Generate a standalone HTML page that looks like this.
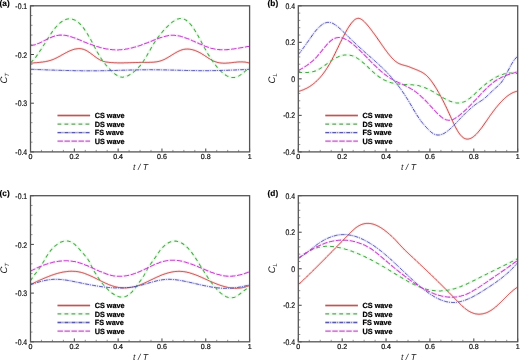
<!DOCTYPE html>
<html><head><meta charset="utf-8"><style>
html,body{margin:0;padding:0;background:#fff;width:520px;height:360px;overflow:hidden}
svg{display:block;filter:blur(0.5px)}
text{font-family:"Liberation Sans",Arial,sans-serif;fill:#222;text-rendering:geometricPrecision}
.tl{font-size:8.1px;fill:#111;stroke:#111;stroke-width:0.2px}
.tx{font-size:7.3px;fill:#111;stroke:#111;stroke-width:0.2px}
.xt{font-size:8.7px;font-style:italic}
.yt{font-size:9.5px;font-style:italic}
.sub{font-size:6px}
.pl{font-size:8.3px;font-weight:bold;fill:#000;stroke:#000;stroke-width:0.15px}
.lg{font-size:7.5px;font-weight:bold;fill:#000;stroke:#000;stroke-width:0.22px}
</style></head><body>
<svg width="520" height="360" viewBox="0 0 520 360">
<rect width="520" height="360" fill="#fff"/>
<clipPath id="cpa"><rect x="30.5" y="5.8" width="219.10" height="146.10"/></clipPath>
<g clip-path="url(#cpa)" fill="none" stroke-linejoin="round">
<g opacity="0.35"><path d="M30.5,63.2 31.2,63.1 32.0,63.0 32.8,63.0 33.5,62.9 34.2,62.8 35.0,62.8 35.8,62.7 36.5,62.7 37.2,62.6 38.0,62.5 38.8,62.5 39.5,62.4 40.2,62.3 41.0,62.2 41.8,62.1 42.5,62.1 43.2,61.9 44.0,61.8 44.8,61.7 45.5,61.6 46.2,61.4 47.0,61.3 47.8,61.1 48.5,60.9 49.2,60.7 50.0,60.5 50.8,60.3 51.5,60.0 52.2,59.8 53.0,59.5 53.8,59.2 54.5,58.8 55.2,58.5 56.0,58.1 56.8,57.8 57.5,57.4 58.2,57.0 59.0,56.6 59.8,56.2 60.5,55.8 61.2,55.3 62.0,54.9 62.8,54.5 63.5,54.1 64.2,53.7 65.0,53.3 65.8,52.8 66.5,52.5 67.2,52.1 68.0,51.7 68.8,51.3 69.5,51.0 70.2,50.7 71.0,50.4 71.8,50.1 72.5,49.8 73.2,49.6 74.0,49.3 74.8,49.1 75.5,49.0 76.2,48.9 77.0,48.8 77.8,48.7 78.5,48.6 79.2,48.6 80.0,48.7 80.8,48.7 81.5,48.8 82.2,49.0 83.0,49.2 83.8,49.4 84.5,49.7 85.2,50.0 86.0,50.4 86.8,50.8 87.5,51.2 88.2,51.7 89.0,52.2 89.8,52.7 90.5,53.3 91.2,53.8 92.0,54.4 92.8,54.9 93.5,55.5 94.2,56.1 95.0,56.6 95.8,57.2 96.5,57.7 97.2,58.2 98.0,58.7 98.8,59.2 99.5,59.6 100.2,60.0 101.0,60.4 101.8,60.7 102.5,61.0 103.2,61.3 104.0,61.5 104.8,61.7 105.5,61.9 106.2,62.0 107.0,62.1 107.8,62.2 108.5,62.3 109.2,62.4 110.0,62.5 110.8,62.5 111.5,62.6 112.2,62.6 113.0,62.7 113.8,62.7 114.5,62.8 115.2,62.8 116.0,62.8 116.8,62.8 117.5,62.9 118.2,62.9 119.0,62.9 119.8,62.9 120.5,62.9 121.2,62.9 122.0,62.9 122.8,62.9 123.5,62.9 124.2,62.8 125.0,62.8 125.8,62.8 126.5,62.8 127.2,62.8 128.0,62.8 128.8,62.7 129.5,62.7 130.2,62.7 131.0,62.7 131.8,62.6 132.5,62.6 133.2,62.6 134.0,62.6 134.8,62.5 135.5,62.5 136.2,62.5 137.0,62.5 137.8,62.5 138.5,62.5 139.2,62.4 140.0,62.4 140.8,62.4 141.5,62.4 142.2,62.4 143.0,62.4 143.8,62.4 144.5,62.4 145.2,62.4 146.0,62.4 146.8,62.4 147.5,62.4 148.2,62.4 149.0,62.4 149.8,62.3 150.5,62.3 151.2,62.3 152.0,62.3 152.8,62.2 153.5,62.2 154.2,62.1 155.0,62.0 155.8,61.9 156.5,61.8 157.2,61.7 158.0,61.5 158.8,61.4 159.5,61.2 160.2,61.0 161.0,60.7 161.8,60.5 162.5,60.2 163.2,59.9 164.0,59.6 164.8,59.2 165.5,58.8 166.2,58.4 167.0,58.0 167.8,57.6 168.5,57.1 169.2,56.7 170.0,56.2 170.8,55.7 171.5,55.3 172.2,54.8 173.0,54.3 173.8,53.9 174.5,53.4 175.2,53.0 176.0,52.6 176.8,52.1 177.5,51.7 178.2,51.4 179.0,51.0 179.8,50.7 180.5,50.4 181.2,50.1 182.0,49.8 182.8,49.6 183.5,49.4 184.2,49.3 185.0,49.2 185.8,49.1 186.5,49.1 187.2,49.0 188.0,49.1 188.8,49.1 189.5,49.2 190.2,49.3 191.0,49.4 191.8,49.6 192.5,49.7 193.2,50.0 194.0,50.2 194.8,50.4 195.5,50.7 196.2,51.0 197.0,51.3 197.8,51.7 198.5,52.0 199.2,52.4 200.0,52.8 200.8,53.2 201.5,53.6 202.2,54.1 203.0,54.6 203.8,55.0 204.5,55.5 205.2,56.0 206.0,56.5 206.8,57.0 207.5,57.5 208.2,58.0 209.0,58.5 209.8,58.9 210.5,59.4 211.2,59.8 212.0,60.2 212.8,60.6 213.5,61.0 214.2,61.3 215.0,61.6 215.8,61.9 216.5,62.1 217.2,62.4 218.0,62.5 218.8,62.7 219.5,62.8 220.2,62.9 221.0,63.0 221.8,63.1 222.5,63.1 223.2,63.2 224.0,63.2 224.8,63.2 225.5,63.2 226.2,63.1 227.0,63.1 227.8,63.0 228.5,63.0 229.2,62.9 230.0,62.8 230.8,62.8 231.5,62.7 232.2,62.6 233.0,62.5 233.8,62.4 234.5,62.3 235.2,62.3 236.0,62.2 236.8,62.1 237.5,62.0 238.2,62.0 239.0,61.9 239.8,61.9 240.5,61.9 241.2,61.9 242.0,61.9 242.8,61.9 243.5,62.0 244.2,62.0 245.0,62.1 245.8,62.2 246.5,62.4 247.2,62.5 248.0,62.7 248.8,62.9 249.5,63.1 249.6,63.2" stroke="#f4c4c4" stroke-width="3.0"/><path d="M30.5,62.8 31.2,62.2 32.0,61.4 32.8,60.7 33.5,59.8 34.2,59.0 35.0,58.0 35.8,57.1 36.5,56.1 37.2,55.1 38.0,54.0 38.8,52.9 39.5,51.8 40.2,50.6 41.0,49.5 41.8,48.3 42.5,47.1 43.2,45.9 44.0,44.7 44.8,43.5 45.5,42.3 46.2,41.0 47.0,39.8 47.8,38.6 48.5,37.5 49.2,36.3 50.0,35.2 50.8,34.0 51.5,32.9 52.2,31.9 53.0,30.8 53.8,29.8 54.5,28.8 55.2,27.9 56.0,27.0 56.8,26.2 57.5,25.4 58.2,24.6 59.0,23.9 59.8,23.2 60.5,22.6 61.2,22.0 62.0,21.5 62.8,21.0 63.5,20.5 64.2,20.1 65.0,19.8 65.8,19.5 66.5,19.3 67.2,19.1 68.0,18.9 68.8,18.8 69.5,18.8 70.2,18.8 71.0,18.9 71.8,19.0 72.5,19.2 73.2,19.4 74.0,19.7 74.8,20.1 75.5,20.4 76.2,20.9 77.0,21.4 77.8,22.0 78.5,22.6 79.2,23.2 80.0,24.0 80.8,24.7 81.5,25.6 82.2,26.4 83.0,27.4 83.8,28.4 84.5,29.4 85.2,30.5 86.0,31.6 86.8,32.8 87.5,34.0 88.2,35.3 89.0,36.6 89.8,37.9 90.5,39.2 91.2,40.6 92.0,42.0 92.8,43.4 93.5,44.9 94.2,46.3 95.0,47.7 95.8,49.2 96.5,50.6 97.2,52.0 98.0,53.3 98.8,54.6 99.5,55.9 100.2,57.1 101.0,58.3 101.8,59.4 102.5,60.5 103.2,61.5 104.0,62.6 104.8,63.5 105.5,64.5 106.2,65.4 107.0,66.2 107.8,67.1 108.5,67.9 109.2,68.7 110.0,69.4 110.8,70.2 111.5,70.9 112.2,71.6 113.0,72.3 113.8,72.9 114.5,73.6 115.2,74.2 116.0,74.7 116.8,75.3 117.5,75.7 118.2,76.1 119.0,76.5 119.8,76.8 120.5,77.0 121.2,77.1 122.0,77.2 122.8,77.2 123.5,77.1 124.2,77.0 125.0,76.9 125.8,76.6 126.5,76.4 127.2,76.0 128.0,75.7 128.8,75.3 129.5,74.8 130.2,74.4 131.0,73.9 131.8,73.4 132.5,72.8 133.2,72.3 134.0,71.7 134.8,71.1 135.5,70.4 136.2,69.8 137.0,69.1 137.8,68.3 138.5,67.5 139.2,66.7 140.0,65.8 140.8,64.9 141.5,63.9 142.2,62.8 143.0,61.8 143.8,60.6 144.5,59.4 145.2,58.2 146.0,57.0 146.8,55.8 147.5,54.5 148.2,53.2 149.0,51.9 149.8,50.6 150.5,49.3 151.2,48.0 152.0,46.7 152.8,45.4 153.5,44.1 154.2,42.9 155.0,41.7 155.8,40.5 156.5,39.4 157.2,38.3 158.0,37.3 158.8,36.3 159.5,35.4 160.2,34.4 161.0,33.5 161.8,32.7 162.5,31.8 163.2,30.9 164.0,30.1 164.8,29.3 165.5,28.5 166.2,27.7 167.0,27.0 167.8,26.2 168.5,25.5 169.2,24.8 170.0,24.1 170.8,23.4 171.5,22.8 172.2,22.2 173.0,21.6 173.8,21.1 174.5,20.6 175.2,20.2 176.0,19.8 176.8,19.4 177.5,19.1 178.2,18.9 179.0,18.7 179.8,18.6 180.5,18.5 181.2,18.5 182.0,18.6 182.8,18.7 183.5,18.9 184.2,19.2 185.0,19.6 185.8,20.0 186.5,20.5 187.2,21.1 188.0,21.7 188.8,22.4 189.5,23.2 190.2,24.0 191.0,24.9 191.8,25.8 192.5,26.8 193.2,27.9 194.0,29.0 194.8,30.2 195.5,31.4 196.2,32.6 197.0,33.9 197.8,35.2 198.5,36.6 199.2,38.0 200.0,39.4 200.8,40.8 201.5,42.2 202.2,43.6 203.0,45.0 203.8,46.4 204.5,47.8 205.2,49.1 206.0,50.5 206.8,51.8 207.5,53.1 208.2,54.4 209.0,55.6 209.8,56.8 210.5,58.0 211.2,59.2 212.0,60.3 212.8,61.4 213.5,62.5 214.2,63.5 215.0,64.5 215.8,65.5 216.5,66.4 217.2,67.3 218.0,68.2 218.8,69.1 219.5,69.9 220.2,70.6 221.0,71.4 221.8,72.1 222.5,72.7 223.2,73.4 224.0,74.0 224.8,74.5 225.5,75.0 226.2,75.5 227.0,75.9 227.8,76.2 228.5,76.6 229.2,76.9 230.0,77.1 230.8,77.3 231.5,77.4 232.2,77.5 233.0,77.5 233.8,77.5 234.5,77.4 235.2,77.3 236.0,77.1 236.8,76.9 237.5,76.6 238.2,76.3 239.0,75.9 239.8,75.4 240.5,74.9 241.2,74.4 242.0,73.8 242.8,73.3 243.5,72.6 244.2,72.0 245.0,71.4 245.8,70.7 246.5,70.1 247.2,69.4 248.0,68.8 248.8,68.1 249.5,67.5 249.6,67.4" stroke="#ccf2cc" stroke-width="3.0"/><path d="M30.5,69.2 31.2,69.3 32.0,69.3 32.8,69.3 33.5,69.4 34.2,69.4 35.0,69.4 35.8,69.5 36.5,69.5 37.2,69.5 38.0,69.6 38.8,69.6 39.5,69.6 40.2,69.6 41.0,69.7 41.8,69.7 42.5,69.7 43.2,69.8 44.0,69.8 44.8,69.8 45.5,69.8 46.2,69.9 47.0,69.9 47.8,69.9 48.5,70.0 49.2,70.0 50.0,70.0 50.8,70.0 51.5,70.1 52.2,70.1 53.0,70.1 53.8,70.1 54.5,70.2 55.2,70.2 56.0,70.2 56.8,70.2 57.5,70.2 58.2,70.3 59.0,70.3 59.8,70.3 60.5,70.3 61.2,70.4 62.0,70.4 62.8,70.4 63.5,70.4 64.2,70.4 65.0,70.5 65.8,70.5 66.5,70.5 67.2,70.5 68.0,70.5 68.8,70.5 69.5,70.6 70.2,70.6 71.0,70.6 71.8,70.6 72.5,70.6 73.2,70.6 74.0,70.7 74.8,70.7 75.5,70.7 76.2,70.7 77.0,70.7 77.8,70.7 78.5,70.7 79.2,70.7 80.0,70.7 80.8,70.7 81.5,70.8 82.2,70.8 83.0,70.8 83.8,70.8 84.5,70.8 85.2,70.8 86.0,70.8 86.8,70.8 87.5,70.8 88.2,70.8 89.0,70.8 89.8,70.8 90.5,70.8 91.2,70.8 92.0,70.8 92.8,70.8 93.5,70.8 94.2,70.8 95.0,70.8 95.8,70.8 96.5,70.8 97.2,70.8 98.0,70.8 98.8,70.8 99.5,70.8 100.2,70.8 101.0,70.7 101.8,70.7 102.5,70.7 103.2,70.7 104.0,70.7 104.8,70.7 105.5,70.7 106.2,70.7 107.0,70.6 107.8,70.6 108.5,70.6 109.2,70.6 110.0,70.6 110.8,70.6 111.5,70.5 112.2,70.5 113.0,70.5 113.8,70.5 114.5,70.5 115.2,70.5 116.0,70.4 116.8,70.4 117.5,70.4 118.2,70.4 119.0,70.3 119.8,70.3 120.5,70.3 121.2,70.3 122.0,70.3 122.8,70.2 123.5,70.2 124.2,70.2 125.0,70.2 125.8,70.2 126.5,70.1 127.2,70.1 128.0,70.1 128.8,70.1 129.5,70.1 130.2,70.0 131.0,70.0 131.8,70.0 132.5,70.0 133.2,70.0 134.0,70.0 134.8,69.9 135.5,69.9 136.2,69.9 137.0,69.9 137.8,69.9 138.5,69.9 139.2,69.8 140.0,69.8 140.8,69.8 141.5,69.8 142.2,69.8 143.0,69.8 143.8,69.8 144.5,69.8 145.2,69.8 146.0,69.8 146.8,69.8 147.5,69.8 148.2,69.7 149.0,69.7 149.8,69.7 150.5,69.7 151.2,69.7 152.0,69.7 152.8,69.8 153.5,69.8 154.2,69.8 155.0,69.8 155.8,69.8 156.5,69.8 157.2,69.8 158.0,69.8 158.8,69.8 159.5,69.8 160.2,69.8 161.0,69.8 161.8,69.9 162.5,69.9 163.2,69.9 164.0,69.9 164.8,69.9 165.5,69.9 166.2,69.9 167.0,70.0 167.8,70.0 168.5,70.0 169.2,70.0 170.0,70.0 170.8,70.1 171.5,70.1 172.2,70.1 173.0,70.1 173.8,70.1 174.5,70.2 175.2,70.2 176.0,70.2 176.8,70.2 177.5,70.2 178.2,70.2 179.0,70.3 179.8,70.3 180.5,70.3 181.2,70.3 182.0,70.3 182.8,70.4 183.5,70.4 184.2,70.4 185.0,70.4 185.8,70.4 186.5,70.5 187.2,70.5 188.0,70.5 188.8,70.5 189.5,70.5 190.2,70.5 191.0,70.5 191.8,70.6 192.5,70.6 193.2,70.6 194.0,70.6 194.8,70.6 195.5,70.6 196.2,70.6 197.0,70.6 197.8,70.6 198.5,70.7 199.2,70.7 200.0,70.7 200.8,70.7 201.5,70.7 202.2,70.7 203.0,70.7 203.8,70.7 204.5,70.7 205.2,70.7 206.0,70.7 206.8,70.7 207.5,70.7 208.2,70.7 209.0,70.7 209.8,70.6 210.5,70.6 211.2,70.6 212.0,70.6 212.8,70.6 213.5,70.6 214.2,70.6 215.0,70.6 215.8,70.6 216.5,70.5 217.2,70.5 218.0,70.5 218.8,70.5 219.5,70.5 220.2,70.5 221.0,70.4 221.8,70.4 222.5,70.4 223.2,70.4 224.0,70.4 224.8,70.3 225.5,70.3 226.2,70.3 227.0,70.3 227.8,70.3 228.5,70.2 229.2,70.2 230.0,70.2 230.8,70.1 231.5,70.1 232.2,70.1 233.0,70.1 233.8,70.0 234.5,70.0 235.2,70.0 236.0,69.9 236.8,69.9 237.5,69.9 238.2,69.8 239.0,69.8 239.8,69.8 240.5,69.7 241.2,69.7 242.0,69.7 242.8,69.6 243.5,69.6 244.2,69.6 245.0,69.5 245.8,69.5 246.5,69.5 247.2,69.4 248.0,69.4 248.8,69.3 249.5,69.3 249.6,69.3" stroke="#d4d4f8" stroke-width="3.0"/><path d="M30.5,45.6 31.2,45.5 32.0,45.4 32.8,45.3 33.5,45.1 34.2,44.9 35.0,44.7 35.8,44.5 36.5,44.2 37.2,43.9 38.0,43.6 38.8,43.3 39.5,43.0 40.2,42.6 41.0,42.3 41.8,41.9 42.5,41.5 43.2,41.2 44.0,40.8 44.8,40.4 45.5,40.0 46.2,39.7 47.0,39.3 47.8,38.9 48.5,38.6 49.2,38.2 50.0,37.9 50.8,37.5 51.5,37.2 52.2,36.9 53.0,36.6 53.8,36.4 54.5,36.1 55.2,35.9 56.0,35.7 56.8,35.5 57.5,35.4 58.2,35.3 59.0,35.2 59.8,35.1 60.5,35.1 61.2,35.1 62.0,35.1 62.8,35.1 63.5,35.2 64.2,35.3 65.0,35.3 65.8,35.5 66.5,35.6 67.2,35.7 68.0,35.9 68.8,36.1 69.5,36.3 70.2,36.5 71.0,36.7 71.8,37.0 72.5,37.2 73.2,37.5 74.0,37.7 74.8,38.0 75.5,38.3 76.2,38.6 77.0,38.9 77.8,39.2 78.5,39.5 79.2,39.8 80.0,40.1 80.8,40.4 81.5,40.7 82.2,41.0 83.0,41.3 83.8,41.7 84.5,42.0 85.2,42.3 86.0,42.6 86.8,42.9 87.5,43.2 88.2,43.4 89.0,43.7 89.8,44.0 90.5,44.3 91.2,44.6 92.0,44.8 92.8,45.1 93.5,45.4 94.2,45.6 95.0,45.9 95.8,46.1 96.5,46.4 97.2,46.6 98.0,46.8 98.8,47.0 99.5,47.3 100.2,47.5 101.0,47.7 101.8,47.9 102.5,48.1 103.2,48.2 104.0,48.4 104.8,48.6 105.5,48.7 106.2,48.9 107.0,49.0 107.8,49.1 108.5,49.2 109.2,49.4 110.0,49.5 110.8,49.5 111.5,49.6 112.2,49.7 113.0,49.8 113.8,49.8 114.5,49.8 115.2,49.9 116.0,49.9 116.8,49.9 117.5,49.9 118.2,49.9 119.0,49.8 119.8,49.8 120.5,49.8 121.2,49.7 122.0,49.6 122.8,49.5 123.5,49.5 124.2,49.4 125.0,49.3 125.8,49.1 126.5,49.0 127.2,48.9 128.0,48.7 128.8,48.6 129.5,48.4 130.2,48.3 131.0,48.1 131.8,47.9 132.5,47.7 133.2,47.5 134.0,47.3 134.8,47.1 135.5,46.9 136.2,46.7 137.0,46.4 137.8,46.2 138.5,45.9 139.2,45.7 140.0,45.4 140.8,45.2 141.5,44.9 142.2,44.6 143.0,44.4 143.8,44.1 144.5,43.8 145.2,43.5 146.0,43.2 146.8,42.9 147.5,42.7 148.2,42.4 149.0,42.1 149.8,41.8 150.5,41.5 151.2,41.2 152.0,40.9 152.8,40.6 153.5,40.3 154.2,40.0 155.0,39.7 155.8,39.4 156.5,39.2 157.2,38.9 158.0,38.6 158.8,38.3 159.5,38.1 160.2,37.8 161.0,37.5 161.8,37.3 162.5,37.1 163.2,36.8 164.0,36.6 164.8,36.4 165.5,36.2 166.2,36.0 167.0,35.9 167.8,35.7 168.5,35.6 169.2,35.5 170.0,35.4 170.8,35.3 171.5,35.3 172.2,35.3 173.0,35.3 173.8,35.3 174.5,35.3 175.2,35.4 176.0,35.4 176.8,35.5 177.5,35.7 178.2,35.8 179.0,36.0 179.8,36.1 180.5,36.3 181.2,36.5 182.0,36.7 182.8,36.9 183.5,37.2 184.2,37.4 185.0,37.7 185.8,38.0 186.5,38.2 187.2,38.5 188.0,38.8 188.8,39.1 189.5,39.4 190.2,39.7 191.0,40.0 191.8,40.4 192.5,40.7 193.2,41.0 194.0,41.3 194.8,41.7 195.5,42.0 196.2,42.3 197.0,42.7 197.8,43.0 198.5,43.3 199.2,43.7 200.0,44.0 200.8,44.3 201.5,44.6 202.2,44.9 203.0,45.3 203.8,45.6 204.5,45.9 205.2,46.2 206.0,46.4 206.8,46.7 207.5,47.0 208.2,47.2 209.0,47.5 209.8,47.7 210.5,48.0 211.2,48.2 212.0,48.4 212.8,48.6 213.5,48.7 214.2,48.9 215.0,49.1 215.8,49.2 216.5,49.3 217.2,49.4 218.0,49.5 218.8,49.6 219.5,49.6 220.2,49.7 221.0,49.7 221.8,49.8 222.5,49.8 223.2,49.8 224.0,49.8 224.8,49.8 225.5,49.7 226.2,49.7 227.0,49.6 227.8,49.6 228.5,49.5 229.2,49.5 230.0,49.4 230.8,49.3 231.5,49.2 232.2,49.1 233.0,49.0 233.8,48.9 234.5,48.8 235.2,48.7 236.0,48.6 236.8,48.5 237.5,48.3 238.2,48.2 239.0,48.1 239.8,47.9 240.5,47.8 241.2,47.7 242.0,47.5 242.8,47.4 243.5,47.3 244.2,47.1 245.0,47.0 245.8,46.9 246.5,46.7 247.2,46.6 248.0,46.5 248.8,46.4 249.5,46.3 249.6,46.2" stroke="#f8c8f8" stroke-width="3.0"/></g><path d="M30.5,63.2 31.2,63.1 32.0,63.0 32.8,63.0 33.5,62.9 34.2,62.8 35.0,62.8 35.8,62.7 36.5,62.7 37.2,62.6 38.0,62.5 38.8,62.5 39.5,62.4 40.2,62.3 41.0,62.2 41.8,62.1 42.5,62.1 43.2,61.9 44.0,61.8 44.8,61.7 45.5,61.6 46.2,61.4 47.0,61.3 47.8,61.1 48.5,60.9 49.2,60.7 50.0,60.5 50.8,60.3 51.5,60.0 52.2,59.8 53.0,59.5 53.8,59.2 54.5,58.8 55.2,58.5 56.0,58.1 56.8,57.8 57.5,57.4 58.2,57.0 59.0,56.6 59.8,56.2 60.5,55.8 61.2,55.3 62.0,54.9 62.8,54.5 63.5,54.1 64.2,53.7 65.0,53.3 65.8,52.8 66.5,52.5 67.2,52.1 68.0,51.7 68.8,51.3 69.5,51.0 70.2,50.7 71.0,50.4 71.8,50.1 72.5,49.8 73.2,49.6 74.0,49.3 74.8,49.1 75.5,49.0 76.2,48.9 77.0,48.8 77.8,48.7 78.5,48.6 79.2,48.6 80.0,48.7 80.8,48.7 81.5,48.8 82.2,49.0 83.0,49.2 83.8,49.4 84.5,49.7 85.2,50.0 86.0,50.4 86.8,50.8 87.5,51.2 88.2,51.7 89.0,52.2 89.8,52.7 90.5,53.3 91.2,53.8 92.0,54.4 92.8,54.9 93.5,55.5 94.2,56.1 95.0,56.6 95.8,57.2 96.5,57.7 97.2,58.2 98.0,58.7 98.8,59.2 99.5,59.6 100.2,60.0 101.0,60.4 101.8,60.7 102.5,61.0 103.2,61.3 104.0,61.5 104.8,61.7 105.5,61.9 106.2,62.0 107.0,62.1 107.8,62.2 108.5,62.3 109.2,62.4 110.0,62.5 110.8,62.5 111.5,62.6 112.2,62.6 113.0,62.7 113.8,62.7 114.5,62.8 115.2,62.8 116.0,62.8 116.8,62.8 117.5,62.9 118.2,62.9 119.0,62.9 119.8,62.9 120.5,62.9 121.2,62.9 122.0,62.9 122.8,62.9 123.5,62.9 124.2,62.8 125.0,62.8 125.8,62.8 126.5,62.8 127.2,62.8 128.0,62.8 128.8,62.7 129.5,62.7 130.2,62.7 131.0,62.7 131.8,62.6 132.5,62.6 133.2,62.6 134.0,62.6 134.8,62.5 135.5,62.5 136.2,62.5 137.0,62.5 137.8,62.5 138.5,62.5 139.2,62.4 140.0,62.4 140.8,62.4 141.5,62.4 142.2,62.4 143.0,62.4 143.8,62.4 144.5,62.4 145.2,62.4 146.0,62.4 146.8,62.4 147.5,62.4 148.2,62.4 149.0,62.4 149.8,62.3 150.5,62.3 151.2,62.3 152.0,62.3 152.8,62.2 153.5,62.2 154.2,62.1 155.0,62.0 155.8,61.9 156.5,61.8 157.2,61.7 158.0,61.5 158.8,61.4 159.5,61.2 160.2,61.0 161.0,60.7 161.8,60.5 162.5,60.2 163.2,59.9 164.0,59.6 164.8,59.2 165.5,58.8 166.2,58.4 167.0,58.0 167.8,57.6 168.5,57.1 169.2,56.7 170.0,56.2 170.8,55.7 171.5,55.3 172.2,54.8 173.0,54.3 173.8,53.9 174.5,53.4 175.2,53.0 176.0,52.6 176.8,52.1 177.5,51.7 178.2,51.4 179.0,51.0 179.8,50.7 180.5,50.4 181.2,50.1 182.0,49.8 182.8,49.6 183.5,49.4 184.2,49.3 185.0,49.2 185.8,49.1 186.5,49.1 187.2,49.0 188.0,49.1 188.8,49.1 189.5,49.2 190.2,49.3 191.0,49.4 191.8,49.6 192.5,49.7 193.2,50.0 194.0,50.2 194.8,50.4 195.5,50.7 196.2,51.0 197.0,51.3 197.8,51.7 198.5,52.0 199.2,52.4 200.0,52.8 200.8,53.2 201.5,53.6 202.2,54.1 203.0,54.6 203.8,55.0 204.5,55.5 205.2,56.0 206.0,56.5 206.8,57.0 207.5,57.5 208.2,58.0 209.0,58.5 209.8,58.9 210.5,59.4 211.2,59.8 212.0,60.2 212.8,60.6 213.5,61.0 214.2,61.3 215.0,61.6 215.8,61.9 216.5,62.1 217.2,62.4 218.0,62.5 218.8,62.7 219.5,62.8 220.2,62.9 221.0,63.0 221.8,63.1 222.5,63.1 223.2,63.2 224.0,63.2 224.8,63.2 225.5,63.2 226.2,63.1 227.0,63.1 227.8,63.0 228.5,63.0 229.2,62.9 230.0,62.8 230.8,62.8 231.5,62.7 232.2,62.6 233.0,62.5 233.8,62.4 234.5,62.3 235.2,62.3 236.0,62.2 236.8,62.1 237.5,62.0 238.2,62.0 239.0,61.9 239.8,61.9 240.5,61.9 241.2,61.9 242.0,61.9 242.8,61.9 243.5,62.0 244.2,62.0 245.0,62.1 245.8,62.2 246.5,62.4 247.2,62.5 248.0,62.7 248.8,62.9 249.5,63.1 249.6,63.2" stroke="#c24646" stroke-width="1.0"/><path d="M30.5,62.8 31.2,62.2 32.0,61.4 32.8,60.7 33.5,59.8 34.2,59.0 35.0,58.0 35.8,57.1 36.5,56.1 37.2,55.1 38.0,54.0 38.8,52.9 39.5,51.8 40.2,50.6 41.0,49.5 41.8,48.3 42.5,47.1 43.2,45.9 44.0,44.7 44.8,43.5 45.5,42.3 46.2,41.0 47.0,39.8 47.8,38.6 48.5,37.5 49.2,36.3 50.0,35.2 50.8,34.0 51.5,32.9 52.2,31.9 53.0,30.8 53.8,29.8 54.5,28.8 55.2,27.9 56.0,27.0 56.8,26.2 57.5,25.4 58.2,24.6 59.0,23.9 59.8,23.2 60.5,22.6 61.2,22.0 62.0,21.5 62.8,21.0 63.5,20.5 64.2,20.1 65.0,19.8 65.8,19.5 66.5,19.3 67.2,19.1 68.0,18.9 68.8,18.8 69.5,18.8 70.2,18.8 71.0,18.9 71.8,19.0 72.5,19.2 73.2,19.4 74.0,19.7 74.8,20.1 75.5,20.4 76.2,20.9 77.0,21.4 77.8,22.0 78.5,22.6 79.2,23.2 80.0,24.0 80.8,24.7 81.5,25.6 82.2,26.4 83.0,27.4 83.8,28.4 84.5,29.4 85.2,30.5 86.0,31.6 86.8,32.8 87.5,34.0 88.2,35.3 89.0,36.6 89.8,37.9 90.5,39.2 91.2,40.6 92.0,42.0 92.8,43.4 93.5,44.9 94.2,46.3 95.0,47.7 95.8,49.2 96.5,50.6 97.2,52.0 98.0,53.3 98.8,54.6 99.5,55.9 100.2,57.1 101.0,58.3 101.8,59.4 102.5,60.5 103.2,61.5 104.0,62.6 104.8,63.5 105.5,64.5 106.2,65.4 107.0,66.2 107.8,67.1 108.5,67.9 109.2,68.7 110.0,69.4 110.8,70.2 111.5,70.9 112.2,71.6 113.0,72.3 113.8,72.9 114.5,73.6 115.2,74.2 116.0,74.7 116.8,75.3 117.5,75.7 118.2,76.1 119.0,76.5 119.8,76.8 120.5,77.0 121.2,77.1 122.0,77.2 122.8,77.2 123.5,77.1 124.2,77.0 125.0,76.9 125.8,76.6 126.5,76.4 127.2,76.0 128.0,75.7 128.8,75.3 129.5,74.8 130.2,74.4 131.0,73.9 131.8,73.4 132.5,72.8 133.2,72.3 134.0,71.7 134.8,71.1 135.5,70.4 136.2,69.8 137.0,69.1 137.8,68.3 138.5,67.5 139.2,66.7 140.0,65.8 140.8,64.9 141.5,63.9 142.2,62.8 143.0,61.8 143.8,60.6 144.5,59.4 145.2,58.2 146.0,57.0 146.8,55.8 147.5,54.5 148.2,53.2 149.0,51.9 149.8,50.6 150.5,49.3 151.2,48.0 152.0,46.7 152.8,45.4 153.5,44.1 154.2,42.9 155.0,41.7 155.8,40.5 156.5,39.4 157.2,38.3 158.0,37.3 158.8,36.3 159.5,35.4 160.2,34.4 161.0,33.5 161.8,32.7 162.5,31.8 163.2,30.9 164.0,30.1 164.8,29.3 165.5,28.5 166.2,27.7 167.0,27.0 167.8,26.2 168.5,25.5 169.2,24.8 170.0,24.1 170.8,23.4 171.5,22.8 172.2,22.2 173.0,21.6 173.8,21.1 174.5,20.6 175.2,20.2 176.0,19.8 176.8,19.4 177.5,19.1 178.2,18.9 179.0,18.7 179.8,18.6 180.5,18.5 181.2,18.5 182.0,18.6 182.8,18.7 183.5,18.9 184.2,19.2 185.0,19.6 185.8,20.0 186.5,20.5 187.2,21.1 188.0,21.7 188.8,22.4 189.5,23.2 190.2,24.0 191.0,24.9 191.8,25.8 192.5,26.8 193.2,27.9 194.0,29.0 194.8,30.2 195.5,31.4 196.2,32.6 197.0,33.9 197.8,35.2 198.5,36.6 199.2,38.0 200.0,39.4 200.8,40.8 201.5,42.2 202.2,43.6 203.0,45.0 203.8,46.4 204.5,47.8 205.2,49.1 206.0,50.5 206.8,51.8 207.5,53.1 208.2,54.4 209.0,55.6 209.8,56.8 210.5,58.0 211.2,59.2 212.0,60.3 212.8,61.4 213.5,62.5 214.2,63.5 215.0,64.5 215.8,65.5 216.5,66.4 217.2,67.3 218.0,68.2 218.8,69.1 219.5,69.9 220.2,70.6 221.0,71.4 221.8,72.1 222.5,72.7 223.2,73.4 224.0,74.0 224.8,74.5 225.5,75.0 226.2,75.5 227.0,75.9 227.8,76.2 228.5,76.6 229.2,76.9 230.0,77.1 230.8,77.3 231.5,77.4 232.2,77.5 233.0,77.5 233.8,77.5 234.5,77.4 235.2,77.3 236.0,77.1 236.8,76.9 237.5,76.6 238.2,76.3 239.0,75.9 239.8,75.4 240.5,74.9 241.2,74.4 242.0,73.8 242.8,73.3 243.5,72.6 244.2,72.0 245.0,71.4 245.8,70.7 246.5,70.1 247.2,69.4 248.0,68.8 248.8,68.1 249.5,67.5 249.6,67.4" stroke="#4ea64e" stroke-width="1.05" stroke-dasharray="3.8 3.2"/><path d="M30.5,69.2 31.2,69.3 32.0,69.3 32.8,69.3 33.5,69.4 34.2,69.4 35.0,69.4 35.8,69.5 36.5,69.5 37.2,69.5 38.0,69.6 38.8,69.6 39.5,69.6 40.2,69.6 41.0,69.7 41.8,69.7 42.5,69.7 43.2,69.8 44.0,69.8 44.8,69.8 45.5,69.8 46.2,69.9 47.0,69.9 47.8,69.9 48.5,70.0 49.2,70.0 50.0,70.0 50.8,70.0 51.5,70.1 52.2,70.1 53.0,70.1 53.8,70.1 54.5,70.2 55.2,70.2 56.0,70.2 56.8,70.2 57.5,70.2 58.2,70.3 59.0,70.3 59.8,70.3 60.5,70.3 61.2,70.4 62.0,70.4 62.8,70.4 63.5,70.4 64.2,70.4 65.0,70.5 65.8,70.5 66.5,70.5 67.2,70.5 68.0,70.5 68.8,70.5 69.5,70.6 70.2,70.6 71.0,70.6 71.8,70.6 72.5,70.6 73.2,70.6 74.0,70.7 74.8,70.7 75.5,70.7 76.2,70.7 77.0,70.7 77.8,70.7 78.5,70.7 79.2,70.7 80.0,70.7 80.8,70.7 81.5,70.8 82.2,70.8 83.0,70.8 83.8,70.8 84.5,70.8 85.2,70.8 86.0,70.8 86.8,70.8 87.5,70.8 88.2,70.8 89.0,70.8 89.8,70.8 90.5,70.8 91.2,70.8 92.0,70.8 92.8,70.8 93.5,70.8 94.2,70.8 95.0,70.8 95.8,70.8 96.5,70.8 97.2,70.8 98.0,70.8 98.8,70.8 99.5,70.8 100.2,70.8 101.0,70.7 101.8,70.7 102.5,70.7 103.2,70.7 104.0,70.7 104.8,70.7 105.5,70.7 106.2,70.7 107.0,70.6 107.8,70.6 108.5,70.6 109.2,70.6 110.0,70.6 110.8,70.6 111.5,70.5 112.2,70.5 113.0,70.5 113.8,70.5 114.5,70.5 115.2,70.5 116.0,70.4 116.8,70.4 117.5,70.4 118.2,70.4 119.0,70.3 119.8,70.3 120.5,70.3 121.2,70.3 122.0,70.3 122.8,70.2 123.5,70.2 124.2,70.2 125.0,70.2 125.8,70.2 126.5,70.1 127.2,70.1 128.0,70.1 128.8,70.1 129.5,70.1 130.2,70.0 131.0,70.0 131.8,70.0 132.5,70.0 133.2,70.0 134.0,70.0 134.8,69.9 135.5,69.9 136.2,69.9 137.0,69.9 137.8,69.9 138.5,69.9 139.2,69.8 140.0,69.8 140.8,69.8 141.5,69.8 142.2,69.8 143.0,69.8 143.8,69.8 144.5,69.8 145.2,69.8 146.0,69.8 146.8,69.8 147.5,69.8 148.2,69.7 149.0,69.7 149.8,69.7 150.5,69.7 151.2,69.7 152.0,69.7 152.8,69.8 153.5,69.8 154.2,69.8 155.0,69.8 155.8,69.8 156.5,69.8 157.2,69.8 158.0,69.8 158.8,69.8 159.5,69.8 160.2,69.8 161.0,69.8 161.8,69.9 162.5,69.9 163.2,69.9 164.0,69.9 164.8,69.9 165.5,69.9 166.2,69.9 167.0,70.0 167.8,70.0 168.5,70.0 169.2,70.0 170.0,70.0 170.8,70.1 171.5,70.1 172.2,70.1 173.0,70.1 173.8,70.1 174.5,70.2 175.2,70.2 176.0,70.2 176.8,70.2 177.5,70.2 178.2,70.2 179.0,70.3 179.8,70.3 180.5,70.3 181.2,70.3 182.0,70.3 182.8,70.4 183.5,70.4 184.2,70.4 185.0,70.4 185.8,70.4 186.5,70.5 187.2,70.5 188.0,70.5 188.8,70.5 189.5,70.5 190.2,70.5 191.0,70.5 191.8,70.6 192.5,70.6 193.2,70.6 194.0,70.6 194.8,70.6 195.5,70.6 196.2,70.6 197.0,70.6 197.8,70.6 198.5,70.7 199.2,70.7 200.0,70.7 200.8,70.7 201.5,70.7 202.2,70.7 203.0,70.7 203.8,70.7 204.5,70.7 205.2,70.7 206.0,70.7 206.8,70.7 207.5,70.7 208.2,70.7 209.0,70.7 209.8,70.6 210.5,70.6 211.2,70.6 212.0,70.6 212.8,70.6 213.5,70.6 214.2,70.6 215.0,70.6 215.8,70.6 216.5,70.5 217.2,70.5 218.0,70.5 218.8,70.5 219.5,70.5 220.2,70.5 221.0,70.4 221.8,70.4 222.5,70.4 223.2,70.4 224.0,70.4 224.8,70.3 225.5,70.3 226.2,70.3 227.0,70.3 227.8,70.3 228.5,70.2 229.2,70.2 230.0,70.2 230.8,70.1 231.5,70.1 232.2,70.1 233.0,70.1 233.8,70.0 234.5,70.0 235.2,70.0 236.0,69.9 236.8,69.9 237.5,69.9 238.2,69.8 239.0,69.8 239.8,69.8 240.5,69.7 241.2,69.7 242.0,69.7 242.8,69.6 243.5,69.6 244.2,69.6 245.0,69.5 245.8,69.5 246.5,69.5 247.2,69.4 248.0,69.4 248.8,69.3 249.5,69.3 249.6,69.3" stroke="#4848aa" stroke-width="1.0" stroke-dasharray="4 1 0.9 1.1"/><path d="M30.5,45.6 31.2,45.5 32.0,45.4 32.8,45.3 33.5,45.1 34.2,44.9 35.0,44.7 35.8,44.5 36.5,44.2 37.2,43.9 38.0,43.6 38.8,43.3 39.5,43.0 40.2,42.6 41.0,42.3 41.8,41.9 42.5,41.5 43.2,41.2 44.0,40.8 44.8,40.4 45.5,40.0 46.2,39.7 47.0,39.3 47.8,38.9 48.5,38.6 49.2,38.2 50.0,37.9 50.8,37.5 51.5,37.2 52.2,36.9 53.0,36.6 53.8,36.4 54.5,36.1 55.2,35.9 56.0,35.7 56.8,35.5 57.5,35.4 58.2,35.3 59.0,35.2 59.8,35.1 60.5,35.1 61.2,35.1 62.0,35.1 62.8,35.1 63.5,35.2 64.2,35.3 65.0,35.3 65.8,35.5 66.5,35.6 67.2,35.7 68.0,35.9 68.8,36.1 69.5,36.3 70.2,36.5 71.0,36.7 71.8,37.0 72.5,37.2 73.2,37.5 74.0,37.7 74.8,38.0 75.5,38.3 76.2,38.6 77.0,38.9 77.8,39.2 78.5,39.5 79.2,39.8 80.0,40.1 80.8,40.4 81.5,40.7 82.2,41.0 83.0,41.3 83.8,41.7 84.5,42.0 85.2,42.3 86.0,42.6 86.8,42.9 87.5,43.2 88.2,43.4 89.0,43.7 89.8,44.0 90.5,44.3 91.2,44.6 92.0,44.8 92.8,45.1 93.5,45.4 94.2,45.6 95.0,45.9 95.8,46.1 96.5,46.4 97.2,46.6 98.0,46.8 98.8,47.0 99.5,47.3 100.2,47.5 101.0,47.7 101.8,47.9 102.5,48.1 103.2,48.2 104.0,48.4 104.8,48.6 105.5,48.7 106.2,48.9 107.0,49.0 107.8,49.1 108.5,49.2 109.2,49.4 110.0,49.5 110.8,49.5 111.5,49.6 112.2,49.7 113.0,49.8 113.8,49.8 114.5,49.8 115.2,49.9 116.0,49.9 116.8,49.9 117.5,49.9 118.2,49.9 119.0,49.8 119.8,49.8 120.5,49.8 121.2,49.7 122.0,49.6 122.8,49.5 123.5,49.5 124.2,49.4 125.0,49.3 125.8,49.1 126.5,49.0 127.2,48.9 128.0,48.7 128.8,48.6 129.5,48.4 130.2,48.3 131.0,48.1 131.8,47.9 132.5,47.7 133.2,47.5 134.0,47.3 134.8,47.1 135.5,46.9 136.2,46.7 137.0,46.4 137.8,46.2 138.5,45.9 139.2,45.7 140.0,45.4 140.8,45.2 141.5,44.9 142.2,44.6 143.0,44.4 143.8,44.1 144.5,43.8 145.2,43.5 146.0,43.2 146.8,42.9 147.5,42.7 148.2,42.4 149.0,42.1 149.8,41.8 150.5,41.5 151.2,41.2 152.0,40.9 152.8,40.6 153.5,40.3 154.2,40.0 155.0,39.7 155.8,39.4 156.5,39.2 157.2,38.9 158.0,38.6 158.8,38.3 159.5,38.1 160.2,37.8 161.0,37.5 161.8,37.3 162.5,37.1 163.2,36.8 164.0,36.6 164.8,36.4 165.5,36.2 166.2,36.0 167.0,35.9 167.8,35.7 168.5,35.6 169.2,35.5 170.0,35.4 170.8,35.3 171.5,35.3 172.2,35.3 173.0,35.3 173.8,35.3 174.5,35.3 175.2,35.4 176.0,35.4 176.8,35.5 177.5,35.7 178.2,35.8 179.0,36.0 179.8,36.1 180.5,36.3 181.2,36.5 182.0,36.7 182.8,36.9 183.5,37.2 184.2,37.4 185.0,37.7 185.8,38.0 186.5,38.2 187.2,38.5 188.0,38.8 188.8,39.1 189.5,39.4 190.2,39.7 191.0,40.0 191.8,40.4 192.5,40.7 193.2,41.0 194.0,41.3 194.8,41.7 195.5,42.0 196.2,42.3 197.0,42.7 197.8,43.0 198.5,43.3 199.2,43.7 200.0,44.0 200.8,44.3 201.5,44.6 202.2,44.9 203.0,45.3 203.8,45.6 204.5,45.9 205.2,46.2 206.0,46.4 206.8,46.7 207.5,47.0 208.2,47.2 209.0,47.5 209.8,47.7 210.5,48.0 211.2,48.2 212.0,48.4 212.8,48.6 213.5,48.7 214.2,48.9 215.0,49.1 215.8,49.2 216.5,49.3 217.2,49.4 218.0,49.5 218.8,49.6 219.5,49.6 220.2,49.7 221.0,49.7 221.8,49.8 222.5,49.8 223.2,49.8 224.0,49.8 224.8,49.8 225.5,49.7 226.2,49.7 227.0,49.6 227.8,49.6 228.5,49.5 229.2,49.5 230.0,49.4 230.8,49.3 231.5,49.2 232.2,49.1 233.0,49.0 233.8,48.9 234.5,48.8 235.2,48.7 236.0,48.6 236.8,48.5 237.5,48.3 238.2,48.2 239.0,48.1 239.8,47.9 240.5,47.8 241.2,47.7 242.0,47.5 242.8,47.4 243.5,47.3 244.2,47.1 245.0,47.0 245.8,46.9 246.5,46.7 247.2,46.6 248.0,46.5 248.8,46.4 249.5,46.3 249.6,46.2" stroke="#c048c8" stroke-width="1.05" stroke-dasharray="5.4 1.6"/>
</g>
<path d="M30.50,151.90v-3.4 M74.32,151.90v-3.4 M118.14,151.90v-3.4 M161.96,151.90v-3.4 M205.78,151.90v-3.4 M249.60,151.90v-3.4 M30.50,5.80h3.4 M30.50,54.50h3.4 M30.50,103.20h3.4 M30.50,151.90h3.4" stroke="#444" stroke-width="1" fill="none"/>
<path d="M41.45,151.90v-2 M52.41,151.90v-2 M63.36,151.90v-2 M85.28,151.90v-2 M96.23,151.90v-2 M107.18,151.90v-2 M129.09,151.90v-2 M140.05,151.90v-2 M151.00,151.90v-2 M172.91,151.90v-2 M183.87,151.90v-2 M194.82,151.90v-2 M216.73,151.90v-2 M227.69,151.90v-2 M238.64,151.90v-2 M30.50,15.54h2 M30.50,25.28h2 M30.50,35.02h2 M30.50,44.76h2 M30.50,64.24h2 M30.50,73.98h2 M30.50,83.72h2 M30.50,93.46h2 M30.50,112.94h2 M30.50,122.68h2 M30.50,132.42h2 M30.50,142.16h2" stroke="#777" stroke-width="0.8" fill="none"/>
<rect x="30.5" y="5.8" width="219.10" height="146.10" fill="none" stroke="#555" stroke-width="1.3"/>
<text transform="translate(27.20,8.90) scale(0.85,1)" class="tl" text-anchor="end">-0.1</text>
<text transform="translate(27.20,57.60) scale(0.85,1)" class="tl" text-anchor="end">-0.2</text>
<text transform="translate(27.20,106.30) scale(0.85,1)" class="tl" text-anchor="end">-0.3</text>
<text transform="translate(27.20,155.00) scale(0.85,1)" class="tl" text-anchor="end">-0.4</text>
<text transform="translate(30.50,159.30) scale(0.97,1)" class="tx" text-anchor="middle">0</text>
<text transform="translate(74.32,159.30) scale(0.97,1)" class="tx" text-anchor="middle">0.2</text>
<text transform="translate(118.14,159.30) scale(0.97,1)" class="tx" text-anchor="middle">0.4</text>
<text transform="translate(161.96,159.30) scale(0.97,1)" class="tx" text-anchor="middle">0.6</text>
<text transform="translate(205.78,159.30) scale(0.97,1)" class="tx" text-anchor="middle">0.8</text>
<text transform="translate(249.60,159.30) scale(0.97,1)" class="tx" text-anchor="middle">1</text>
<text x="140.55" y="169.90" class="xt" text-anchor="middle">t / T</text>
<text transform="translate(7.00,78.35) rotate(-90)" class="yt" text-anchor="middle">C<tspan class="sub" dy="2">T</tspan></text>
<text x="-0.4" y="6.30" class="pl">(a)</text>
<path d="M57.50,115.50H90.10" stroke="#f4c4c4" stroke-width="3" fill="none" opacity="0.4"/>
<path d="M57.50,115.50H90.10" stroke="#b85858" stroke-width="1.45" fill="none"/>
<text transform="translate(94.70,118.20) scale(0.97,1)" class="lg">CS wave</text>
<path d="M57.50,124.05H90.10" stroke="#ccf2cc" stroke-width="3" fill="none" opacity="0.4"/>
<path d="M57.50,124.05H90.10" stroke="#6a9e6a" stroke-width="1.3" stroke-dasharray="3.8 3.2" fill="none"/>
<text transform="translate(94.70,126.75) scale(0.97,1)" class="lg">DS wave</text>
<path d="M57.50,132.60H90.10" stroke="#d4d4f8" stroke-width="3" fill="none" opacity="0.4"/>
<path d="M57.50,132.60H90.10" stroke="#5a5aa8" stroke-width="1.3" stroke-dasharray="4 1 0.9 1.1" fill="none"/>
<text transform="translate(94.70,135.30) scale(0.97,1)" class="lg">FS wave</text>
<path d="M57.50,141.15H90.10" stroke="#f8c8f8" stroke-width="3" fill="none" opacity="0.4"/>
<path d="M57.50,141.15H90.10" stroke="#c060c8" stroke-width="1.3" stroke-dasharray="5.4 1.6" fill="none"/>
<text transform="translate(94.70,143.85) scale(0.97,1)" class="lg">US wave</text>
<clipPath id="cpb"><rect x="298.3" y="5.8" width="219.40" height="146.10"/></clipPath>
<g clip-path="url(#cpb)" fill="none" stroke-linejoin="round">
<g opacity="0.35"><path d="M298.3,91.4 299.1,91.2 299.8,91.0 300.6,90.8 301.3,90.5 302.1,90.2 302.8,90.0 303.6,89.7 304.3,89.3 305.1,89.0 305.8,88.6 306.6,88.3 307.3,87.9 308.1,87.5 308.8,87.0 309.6,86.6 310.3,86.1 311.1,85.6 311.8,85.0 312.6,84.5 313.3,83.9 314.1,83.3 314.8,82.7 315.6,82.0 316.3,81.3 317.1,80.6 317.8,79.9 318.6,79.1 319.3,78.3 320.1,77.5 320.8,76.6 321.6,75.7 322.3,74.8 323.1,73.8 323.8,72.8 324.6,71.8 325.3,70.7 326.1,69.6 326.8,68.4 327.6,67.3 328.3,66.0 329.1,64.8 329.8,63.5 330.6,62.2 331.3,60.8 332.1,59.4 332.8,57.9 333.6,56.5 334.3,55.0 335.1,53.5 335.8,51.9 336.6,50.4 337.3,48.8 338.1,47.3 338.8,45.7 339.6,44.2 340.3,42.6 341.1,41.1 341.8,39.6 342.6,38.1 343.3,36.6 344.1,35.2 344.8,33.7 345.6,32.4 346.3,31.0 347.1,29.7 347.8,28.4 348.6,27.2 349.3,26.1 350.1,25.0 350.8,23.9 351.6,23.0 352.3,22.1 353.1,21.2 353.8,20.5 354.6,19.8 355.3,19.3 356.1,18.9 356.8,18.6 357.6,18.4 358.3,18.3 359.1,18.4 359.8,18.6 360.6,18.9 361.3,19.3 362.1,19.8 362.8,20.4 363.6,21.0 364.3,21.7 365.1,22.5 365.8,23.3 366.6,24.1 367.3,25.0 368.1,25.9 368.8,26.8 369.6,27.7 370.3,28.7 371.1,29.7 371.8,30.7 372.6,31.7 373.3,32.7 374.1,33.7 374.8,34.7 375.6,35.8 376.3,36.8 377.1,37.9 377.8,39.0 378.6,40.1 379.3,41.1 380.1,42.2 380.8,43.3 381.6,44.4 382.3,45.5 383.1,46.5 383.8,47.6 384.6,48.7 385.3,49.7 386.1,50.7 386.8,51.7 387.6,52.7 388.3,53.7 389.1,54.6 389.8,55.5 390.6,56.4 391.3,57.3 392.1,58.1 392.8,58.9 393.6,59.6 394.3,60.3 395.1,61.0 395.8,61.6 396.6,62.1 397.3,62.6 398.1,63.1 398.8,63.5 399.6,63.8 400.3,64.1 401.1,64.4 401.8,64.7 402.6,64.9 403.3,65.1 404.1,65.3 404.8,65.5 405.6,65.7 406.3,65.9 407.1,66.1 407.8,66.4 408.6,66.6 409.3,66.9 410.1,67.2 410.8,67.5 411.6,67.8 412.3,68.1 413.1,68.4 413.8,68.7 414.6,69.0 415.3,69.3 416.1,69.6 416.8,69.9 417.6,70.2 418.3,70.6 419.1,70.9 419.8,71.2 420.6,71.6 421.3,71.9 422.1,72.4 422.8,72.8 423.6,73.3 424.3,73.8 425.1,74.3 425.8,74.9 426.6,75.6 427.3,76.3 428.1,77.1 428.8,77.9 429.6,78.8 430.3,79.7 431.1,80.7 431.8,81.7 432.6,82.8 433.3,83.8 434.1,85.0 434.8,86.1 435.6,87.3 436.3,88.5 437.1,89.8 437.8,91.1 438.6,92.4 439.3,93.7 440.1,95.1 440.8,96.5 441.6,97.9 442.3,99.3 443.1,100.8 443.8,102.3 444.6,103.8 445.3,105.4 446.1,106.9 446.8,108.5 447.6,110.1 448.3,111.7 449.1,113.4 449.8,115.0 450.6,116.7 451.3,118.3 452.1,120.0 452.8,121.6 453.6,123.3 454.3,124.8 455.1,126.3 455.8,127.8 456.6,129.1 457.3,130.4 458.1,131.7 458.8,132.8 459.6,133.9 460.3,134.8 461.1,135.7 461.8,136.5 462.6,137.1 463.3,137.7 464.1,138.2 464.8,138.5 465.6,138.8 466.3,139.0 467.1,139.1 467.8,139.1 468.6,139.0 469.3,138.8 470.1,138.6 470.8,138.3 471.6,137.9 472.3,137.5 473.1,137.0 473.8,136.4 474.6,135.8 475.3,135.1 476.1,134.4 476.8,133.6 477.6,132.8 478.3,131.9 479.1,131.0 479.8,130.1 480.6,129.2 481.3,128.2 482.1,127.2 482.8,126.1 483.6,125.1 484.3,124.0 485.1,122.9 485.8,121.9 486.6,120.8 487.3,119.7 488.1,118.6 488.8,117.5 489.6,116.4 490.3,115.4 491.1,114.3 491.8,113.3 492.6,112.3 493.3,111.2 494.1,110.3 494.8,109.3 495.6,108.3 496.3,107.4 497.1,106.5 497.8,105.6 498.6,104.7 499.3,103.8 500.1,103.0 500.8,102.2 501.6,101.4 502.3,100.6 503.1,99.9 503.8,99.1 504.6,98.4 505.3,97.8 506.1,97.1 506.8,96.5 507.6,95.9 508.3,95.4 509.1,94.9 509.8,94.4 510.6,93.9 511.3,93.5 512.0,93.1 512.8,92.7 513.5,92.4 514.3,92.1 515.0,91.8 515.8,91.6 516.5,91.4 517.3,91.3 517.7,91.2" stroke="#f4c4c4" stroke-width="3.0"/><path d="M298.3,72.4 299.1,72.4 299.8,72.4 300.6,72.4 301.3,72.4 302.1,72.4 302.8,72.5 303.6,72.5 304.3,72.5 305.1,72.5 305.8,72.5 306.6,72.5 307.3,72.4 308.1,72.4 308.8,72.3 309.6,72.3 310.3,72.2 311.1,72.1 311.8,71.9 312.6,71.8 313.3,71.6 314.1,71.4 314.8,71.1 315.6,70.9 316.3,70.6 317.1,70.2 317.8,69.9 318.6,69.5 319.3,69.0 320.1,68.6 320.8,68.1 321.6,67.6 322.3,67.1 323.1,66.6 323.8,66.1 324.6,65.5 325.3,65.0 326.1,64.4 326.8,63.9 327.6,63.3 328.3,62.7 329.1,62.2 329.8,61.7 330.6,61.1 331.3,60.6 332.1,60.1 332.8,59.6 333.6,59.2 334.3,58.7 335.1,58.3 335.8,57.9 336.6,57.5 337.3,57.2 338.1,56.9 338.8,56.5 339.6,56.3 340.3,56.0 341.1,55.8 341.8,55.6 342.6,55.4 343.3,55.2 344.1,55.1 344.8,55.0 345.6,55.0 346.3,54.9 347.1,54.9 347.8,54.9 348.6,55.0 349.3,55.1 350.1,55.2 350.8,55.4 351.6,55.6 352.3,55.8 353.1,56.0 353.8,56.3 354.6,56.7 355.3,57.0 356.1,57.4 356.8,57.9 357.6,58.4 358.3,58.9 359.1,59.4 359.8,60.0 360.6,60.5 361.3,61.1 362.1,61.8 362.8,62.4 363.6,63.1 364.3,63.7 365.1,64.4 365.8,65.1 366.6,65.8 367.3,66.5 368.1,67.2 368.8,68.0 369.6,68.7 370.3,69.4 371.1,70.1 371.8,70.8 372.6,71.5 373.3,72.2 374.1,72.8 374.8,73.5 375.6,74.1 376.3,74.8 377.1,75.4 377.8,75.9 378.6,76.5 379.3,77.0 380.1,77.5 380.8,78.0 381.6,78.5 382.3,78.9 383.1,79.4 383.8,79.8 384.6,80.1 385.3,80.5 386.1,80.8 386.8,81.2 387.6,81.5 388.3,81.8 389.1,82.0 389.8,82.3 390.6,82.5 391.3,82.7 392.1,82.9 392.8,83.1 393.6,83.3 394.3,83.4 395.1,83.6 395.8,83.7 396.6,83.8 397.3,83.9 398.1,84.0 398.8,84.1 399.6,84.2 400.3,84.2 401.1,84.3 401.8,84.3 402.6,84.4 403.3,84.4 404.1,84.4 404.8,84.4 405.6,84.5 406.3,84.5 407.1,84.5 407.8,84.5 408.6,84.6 409.3,84.6 410.1,84.6 410.8,84.7 411.6,84.7 412.3,84.8 413.1,84.9 413.8,84.9 414.6,85.0 415.3,85.1 416.1,85.2 416.8,85.3 417.6,85.5 418.3,85.6 419.1,85.8 419.8,86.0 420.6,86.2 421.3,86.4 422.1,86.7 422.8,86.9 423.6,87.2 424.3,87.5 425.1,87.8 425.8,88.1 426.6,88.4 427.3,88.7 428.1,89.1 428.8,89.4 429.6,89.8 430.3,90.2 431.1,90.6 431.8,91.0 432.6,91.4 433.3,91.8 434.1,92.3 434.8,92.7 435.6,93.2 436.3,93.6 437.1,94.1 437.8,94.5 438.6,95.0 439.3,95.4 440.1,95.9 440.8,96.3 441.6,96.8 442.3,97.2 443.1,97.7 443.8,98.1 444.6,98.5 445.3,98.9 446.1,99.3 446.8,99.7 447.6,100.1 448.3,100.4 449.1,100.8 449.8,101.1 450.6,101.4 451.3,101.6 452.1,101.9 452.8,102.1 453.6,102.3 454.3,102.5 455.1,102.6 455.8,102.8 456.6,102.9 457.3,102.9 458.1,102.9 458.8,102.9 459.6,102.9 460.3,102.8 461.1,102.7 461.8,102.5 462.6,102.3 463.3,102.1 464.1,101.8 464.8,101.5 465.6,101.1 466.3,100.7 467.1,100.2 467.8,99.7 468.6,99.2 469.3,98.6 470.1,98.1 470.8,97.4 471.6,96.8 472.3,96.1 473.1,95.5 473.8,94.8 474.6,94.1 475.3,93.4 476.1,92.7 476.8,91.9 477.6,91.2 478.3,90.5 479.1,89.8 479.8,89.1 480.6,88.5 481.3,87.8 482.1,87.1 482.8,86.5 483.6,85.8 484.3,85.2 485.1,84.6 485.8,84.0 486.6,83.4 487.3,82.8 488.1,82.3 488.8,81.7 489.6,81.2 490.3,80.7 491.1,80.1 491.8,79.6 492.6,79.2 493.3,78.7 494.1,78.2 494.8,77.8 495.6,77.4 496.3,77.0 497.1,76.6 497.8,76.2 498.6,75.9 499.3,75.5 500.1,75.2 500.8,74.9 501.6,74.7 502.3,74.4 503.1,74.2 503.8,73.9 504.6,73.7 505.3,73.5 506.1,73.4 506.8,73.2 507.6,73.1 508.3,73.0 509.1,72.9 509.8,72.9 510.6,72.9 511.3,72.9 512.0,72.9 512.8,72.9 513.5,73.0 514.3,73.0 515.0,73.2 515.8,73.3 516.5,73.4 517.3,73.6 517.7,73.7" stroke="#ccf2cc" stroke-width="3.0"/><path d="M298.3,54.6 299.1,53.7 299.8,52.7 300.6,51.7 301.3,50.7 302.1,49.7 302.8,48.7 303.6,47.7 304.3,46.6 305.1,45.6 305.8,44.6 306.6,43.5 307.3,42.4 308.1,41.4 308.8,40.3 309.6,39.2 310.3,38.2 311.1,37.1 311.8,36.0 312.6,34.9 313.3,33.9 314.1,32.9 314.8,31.9 315.6,31.0 316.3,30.0 317.1,29.2 317.8,28.4 318.6,27.6 319.3,26.9 320.1,26.2 320.8,25.6 321.6,25.0 322.3,24.5 323.1,24.0 323.8,23.6 324.6,23.2 325.3,22.9 326.1,22.7 326.8,22.5 327.6,22.4 328.3,22.4 329.1,22.4 329.8,22.5 330.6,22.6 331.3,22.8 332.1,23.1 332.8,23.4 333.6,23.8 334.3,24.3 335.1,24.7 335.8,25.2 336.6,25.8 337.3,26.4 338.1,27.0 338.8,27.6 339.6,28.3 340.3,29.0 341.1,29.7 341.8,30.4 342.6,31.1 343.3,31.8 344.1,32.5 344.8,33.3 345.6,34.0 346.3,34.8 347.1,35.5 347.8,36.2 348.6,37.0 349.3,37.7 350.1,38.4 350.8,39.1 351.6,39.9 352.3,40.6 353.1,41.3 353.8,42.0 354.6,42.8 355.3,43.5 356.1,44.2 356.8,44.9 357.6,45.6 358.3,46.3 359.1,47.0 359.8,47.7 360.6,48.3 361.3,49.0 362.1,49.7 362.8,50.4 363.6,51.0 364.3,51.7 365.1,52.4 365.8,53.0 366.6,53.7 367.3,54.3 368.1,55.0 368.8,55.6 369.6,56.3 370.3,57.0 371.1,57.6 371.8,58.3 372.6,58.9 373.3,59.6 374.1,60.3 374.8,60.9 375.6,61.6 376.3,62.3 377.1,63.0 377.8,63.6 378.6,64.3 379.3,65.0 380.1,65.7 380.8,66.4 381.6,67.2 382.3,67.9 383.1,68.6 383.8,69.3 384.6,70.1 385.3,70.8 386.1,71.6 386.8,72.4 387.6,73.2 388.3,74.0 389.1,74.8 389.8,75.6 390.6,76.4 391.3,77.3 392.1,78.1 392.8,79.0 393.6,79.9 394.3,80.8 395.1,81.7 395.8,82.6 396.6,83.6 397.3,84.5 398.1,85.5 398.8,86.5 399.6,87.5 400.3,88.5 401.1,89.5 401.8,90.6 402.6,91.7 403.3,92.8 404.1,93.9 404.8,95.0 405.6,96.2 406.3,97.4 407.1,98.6 407.8,99.8 408.6,101.0 409.3,102.3 410.1,103.6 410.8,104.8 411.6,106.1 412.3,107.4 413.1,108.7 413.8,110.0 414.6,111.2 415.3,112.5 416.1,113.7 416.8,114.9 417.6,116.1 418.3,117.2 419.1,118.4 419.8,119.4 420.6,120.5 421.3,121.5 422.1,122.4 422.8,123.4 423.6,124.3 424.3,125.1 425.1,126.0 425.8,126.8 426.6,127.6 427.3,128.4 428.1,129.2 428.8,130.0 429.6,130.7 430.3,131.4 431.1,132.1 431.8,132.7 432.6,133.2 433.3,133.7 434.1,134.1 434.8,134.4 435.6,134.7 436.3,134.8 437.1,135.0 437.8,135.0 438.6,135.0 439.3,135.0 440.1,134.8 440.8,134.7 441.6,134.4 442.3,134.2 443.1,133.8 443.8,133.5 444.6,133.1 445.3,132.6 446.1,132.1 446.8,131.6 447.6,131.0 448.3,130.5 449.1,129.8 449.8,129.2 450.6,128.5 451.3,127.8 452.1,127.1 452.8,126.4 453.6,125.6 454.3,124.8 455.1,124.1 455.8,123.3 456.6,122.5 457.3,121.7 458.1,120.9 458.8,120.1 459.6,119.3 460.3,118.5 461.1,117.7 461.8,116.9 462.6,116.1 463.3,115.4 464.1,114.6 464.8,113.9 465.6,113.1 466.3,112.4 467.1,111.7 467.8,111.0 468.6,110.3 469.3,109.6 470.1,108.9 470.8,108.3 471.6,107.6 472.3,107.0 473.1,106.4 473.8,105.8 474.6,105.2 475.3,104.6 476.1,104.1 476.8,103.6 477.6,103.1 478.3,102.6 479.1,102.1 479.8,101.6 480.6,101.2 481.3,100.7 482.1,100.2 482.8,99.7 483.6,99.1 484.3,98.5 485.1,97.9 485.8,97.2 486.6,96.5 487.3,95.8 488.1,95.1 488.8,94.4 489.6,93.7 490.3,92.9 491.1,92.2 491.8,91.5 492.6,90.7 493.3,90.0 494.1,89.3 494.8,88.7 495.6,88.0 496.3,87.4 497.1,86.7 497.8,86.1 498.6,85.4 499.3,84.6 500.1,83.8 500.8,83.0 501.6,82.1 502.3,81.0 503.1,79.9 503.8,78.7 504.6,77.4 505.3,76.0 506.1,74.5 506.8,73.1 507.6,71.6 508.3,70.2 509.1,68.8 509.8,67.4 510.6,66.0 511.3,64.7 512.0,63.4 512.8,62.2 513.5,61.0 514.3,60.0 515.0,59.0 515.8,58.1 516.5,57.3 517.3,56.6 517.7,56.3" stroke="#d4d4f8" stroke-width="3.0"/><path d="M298.3,70.7 299.1,70.3 299.8,69.8 300.6,69.3 301.3,68.9 302.1,68.4 302.8,68.0 303.6,67.5 304.3,67.0 305.1,66.6 305.8,66.1 306.6,65.6 307.3,65.1 308.1,64.5 308.8,64.0 309.6,63.4 310.3,62.8 311.1,62.2 311.8,61.6 312.6,61.0 313.3,60.3 314.1,59.6 314.8,58.9 315.6,58.1 316.3,57.3 317.1,56.5 317.8,55.6 318.6,54.7 319.3,53.8 320.1,52.9 320.8,52.0 321.6,51.1 322.3,50.1 323.1,49.2 323.8,48.3 324.6,47.4 325.3,46.5 326.1,45.6 326.8,44.7 327.6,43.9 328.3,43.1 329.1,42.4 329.8,41.7 330.6,41.0 331.3,40.4 332.1,39.8 332.8,39.3 333.6,38.9 334.3,38.6 335.1,38.2 335.8,38.0 336.6,37.8 337.3,37.7 338.1,37.6 338.8,37.5 339.6,37.5 340.3,37.6 341.1,37.7 341.8,37.9 342.6,38.1 343.3,38.3 344.1,38.6 344.8,38.9 345.6,39.2 346.3,39.6 347.1,40.0 347.8,40.5 348.6,40.9 349.3,41.4 350.1,42.0 350.8,42.5 351.6,43.1 352.3,43.7 353.1,44.3 353.8,44.9 354.6,45.6 355.3,46.2 356.1,46.9 356.8,47.6 357.6,48.3 358.3,49.0 359.1,49.7 359.8,50.4 360.6,51.2 361.3,51.9 362.1,52.6 362.8,53.4 363.6,54.1 364.3,54.9 365.1,55.7 365.8,56.4 366.6,57.2 367.3,57.9 368.1,58.7 368.8,59.5 369.6,60.2 370.3,61.0 371.1,61.8 371.8,62.5 372.6,63.3 373.3,64.0 374.1,64.8 374.8,65.5 375.6,66.2 376.3,66.9 377.1,67.7 377.8,68.4 378.6,69.1 379.3,69.7 380.1,70.4 380.8,71.1 381.6,71.7 382.3,72.4 383.1,73.0 383.8,73.6 384.6,74.2 385.3,74.8 386.1,75.3 386.8,75.9 387.6,76.4 388.3,76.9 389.1,77.4 389.8,77.9 390.6,78.3 391.3,78.8 392.1,79.2 392.8,79.6 393.6,80.0 394.3,80.4 395.1,80.8 395.8,81.2 396.6,81.5 397.3,81.9 398.1,82.3 398.8,82.6 399.6,83.0 400.3,83.3 401.1,83.7 401.8,84.0 402.6,84.4 403.3,84.7 404.1,85.1 404.8,85.5 405.6,85.8 406.3,86.2 407.1,86.6 407.8,87.0 408.6,87.4 409.3,87.8 410.1,88.2 410.8,88.6 411.6,89.1 412.3,89.5 413.1,90.0 413.8,90.5 414.6,91.0 415.3,91.6 416.1,92.1 416.8,92.7 417.6,93.3 418.3,93.9 419.1,94.5 419.8,95.2 420.6,95.9 421.3,96.6 422.1,97.3 422.8,98.0 423.6,98.7 424.3,99.4 425.1,100.2 425.8,101.0 426.6,101.7 427.3,102.5 428.1,103.3 428.8,104.1 429.6,104.9 430.3,105.8 431.1,106.6 431.8,107.4 432.6,108.2 433.3,109.1 434.1,109.9 434.8,110.7 435.6,111.5 436.3,112.3 437.1,113.1 437.8,113.8 438.6,114.5 439.3,115.2 440.1,115.9 440.8,116.5 441.6,117.1 442.3,117.7 443.1,118.2 443.8,118.6 444.6,119.0 445.3,119.4 446.1,119.7 446.8,119.9 447.6,120.1 448.3,120.2 449.1,120.2 449.8,120.2 450.6,120.1 451.3,119.9 452.1,119.7 452.8,119.5 453.6,119.2 454.3,118.8 455.1,118.4 455.8,117.9 456.6,117.4 457.3,116.9 458.1,116.4 458.8,115.8 459.6,115.2 460.3,114.6 461.1,114.0 461.8,113.3 462.6,112.7 463.3,112.0 464.1,111.4 464.8,110.7 465.6,110.0 466.3,109.3 467.1,108.6 467.8,107.8 468.6,107.1 469.3,106.3 470.1,105.6 470.8,104.8 471.6,104.0 472.3,103.2 473.1,102.5 473.8,101.7 474.6,100.9 475.3,100.1 476.1,99.3 476.8,98.5 477.6,97.7 478.3,96.9 479.1,96.1 479.8,95.3 480.6,94.5 481.3,93.7 482.1,92.9 482.8,92.1 483.6,91.4 484.3,90.6 485.1,89.8 485.8,89.1 486.6,88.4 487.3,87.6 488.1,86.9 488.8,86.2 489.6,85.6 490.3,84.9 491.1,84.3 491.8,83.6 492.6,83.0 493.3,82.4 494.1,81.8 494.8,81.3 495.6,80.8 496.3,80.3 497.1,79.8 497.8,79.3 498.6,78.9 499.3,78.5 500.1,78.1 500.8,77.7 501.6,77.3 502.3,77.0 503.1,76.6 503.8,76.3 504.6,76.0 505.3,75.7 506.1,75.4 506.8,75.1 507.6,74.9 508.3,74.6 509.1,74.4 509.8,74.1 510.6,73.9 511.3,73.6 512.0,73.4 512.8,73.2 513.5,72.9 514.3,72.7 515.0,72.5 515.8,72.2 516.5,72.0 517.3,71.7 517.7,71.6" stroke="#f8c8f8" stroke-width="3.0"/></g><path d="M298.3,91.4 299.1,91.2 299.8,91.0 300.6,90.8 301.3,90.5 302.1,90.2 302.8,90.0 303.6,89.7 304.3,89.3 305.1,89.0 305.8,88.6 306.6,88.3 307.3,87.9 308.1,87.5 308.8,87.0 309.6,86.6 310.3,86.1 311.1,85.6 311.8,85.0 312.6,84.5 313.3,83.9 314.1,83.3 314.8,82.7 315.6,82.0 316.3,81.3 317.1,80.6 317.8,79.9 318.6,79.1 319.3,78.3 320.1,77.5 320.8,76.6 321.6,75.7 322.3,74.8 323.1,73.8 323.8,72.8 324.6,71.8 325.3,70.7 326.1,69.6 326.8,68.4 327.6,67.3 328.3,66.0 329.1,64.8 329.8,63.5 330.6,62.2 331.3,60.8 332.1,59.4 332.8,57.9 333.6,56.5 334.3,55.0 335.1,53.5 335.8,51.9 336.6,50.4 337.3,48.8 338.1,47.3 338.8,45.7 339.6,44.2 340.3,42.6 341.1,41.1 341.8,39.6 342.6,38.1 343.3,36.6 344.1,35.2 344.8,33.7 345.6,32.4 346.3,31.0 347.1,29.7 347.8,28.4 348.6,27.2 349.3,26.1 350.1,25.0 350.8,23.9 351.6,23.0 352.3,22.1 353.1,21.2 353.8,20.5 354.6,19.8 355.3,19.3 356.1,18.9 356.8,18.6 357.6,18.4 358.3,18.3 359.1,18.4 359.8,18.6 360.6,18.9 361.3,19.3 362.1,19.8 362.8,20.4 363.6,21.0 364.3,21.7 365.1,22.5 365.8,23.3 366.6,24.1 367.3,25.0 368.1,25.9 368.8,26.8 369.6,27.7 370.3,28.7 371.1,29.7 371.8,30.7 372.6,31.7 373.3,32.7 374.1,33.7 374.8,34.7 375.6,35.8 376.3,36.8 377.1,37.9 377.8,39.0 378.6,40.1 379.3,41.1 380.1,42.2 380.8,43.3 381.6,44.4 382.3,45.5 383.1,46.5 383.8,47.6 384.6,48.7 385.3,49.7 386.1,50.7 386.8,51.7 387.6,52.7 388.3,53.7 389.1,54.6 389.8,55.5 390.6,56.4 391.3,57.3 392.1,58.1 392.8,58.9 393.6,59.6 394.3,60.3 395.1,61.0 395.8,61.6 396.6,62.1 397.3,62.6 398.1,63.1 398.8,63.5 399.6,63.8 400.3,64.1 401.1,64.4 401.8,64.7 402.6,64.9 403.3,65.1 404.1,65.3 404.8,65.5 405.6,65.7 406.3,65.9 407.1,66.1 407.8,66.4 408.6,66.6 409.3,66.9 410.1,67.2 410.8,67.5 411.6,67.8 412.3,68.1 413.1,68.4 413.8,68.7 414.6,69.0 415.3,69.3 416.1,69.6 416.8,69.9 417.6,70.2 418.3,70.6 419.1,70.9 419.8,71.2 420.6,71.6 421.3,71.9 422.1,72.4 422.8,72.8 423.6,73.3 424.3,73.8 425.1,74.3 425.8,74.9 426.6,75.6 427.3,76.3 428.1,77.1 428.8,77.9 429.6,78.8 430.3,79.7 431.1,80.7 431.8,81.7 432.6,82.8 433.3,83.8 434.1,85.0 434.8,86.1 435.6,87.3 436.3,88.5 437.1,89.8 437.8,91.1 438.6,92.4 439.3,93.7 440.1,95.1 440.8,96.5 441.6,97.9 442.3,99.3 443.1,100.8 443.8,102.3 444.6,103.8 445.3,105.4 446.1,106.9 446.8,108.5 447.6,110.1 448.3,111.7 449.1,113.4 449.8,115.0 450.6,116.7 451.3,118.3 452.1,120.0 452.8,121.6 453.6,123.3 454.3,124.8 455.1,126.3 455.8,127.8 456.6,129.1 457.3,130.4 458.1,131.7 458.8,132.8 459.6,133.9 460.3,134.8 461.1,135.7 461.8,136.5 462.6,137.1 463.3,137.7 464.1,138.2 464.8,138.5 465.6,138.8 466.3,139.0 467.1,139.1 467.8,139.1 468.6,139.0 469.3,138.8 470.1,138.6 470.8,138.3 471.6,137.9 472.3,137.5 473.1,137.0 473.8,136.4 474.6,135.8 475.3,135.1 476.1,134.4 476.8,133.6 477.6,132.8 478.3,131.9 479.1,131.0 479.8,130.1 480.6,129.2 481.3,128.2 482.1,127.2 482.8,126.1 483.6,125.1 484.3,124.0 485.1,122.9 485.8,121.9 486.6,120.8 487.3,119.7 488.1,118.6 488.8,117.5 489.6,116.4 490.3,115.4 491.1,114.3 491.8,113.3 492.6,112.3 493.3,111.2 494.1,110.3 494.8,109.3 495.6,108.3 496.3,107.4 497.1,106.5 497.8,105.6 498.6,104.7 499.3,103.8 500.1,103.0 500.8,102.2 501.6,101.4 502.3,100.6 503.1,99.9 503.8,99.1 504.6,98.4 505.3,97.8 506.1,97.1 506.8,96.5 507.6,95.9 508.3,95.4 509.1,94.9 509.8,94.4 510.6,93.9 511.3,93.5 512.0,93.1 512.8,92.7 513.5,92.4 514.3,92.1 515.0,91.8 515.8,91.6 516.5,91.4 517.3,91.3 517.7,91.2" stroke="#c24646" stroke-width="1.0"/><path d="M298.3,72.4 299.1,72.4 299.8,72.4 300.6,72.4 301.3,72.4 302.1,72.4 302.8,72.5 303.6,72.5 304.3,72.5 305.1,72.5 305.8,72.5 306.6,72.5 307.3,72.4 308.1,72.4 308.8,72.3 309.6,72.3 310.3,72.2 311.1,72.1 311.8,71.9 312.6,71.8 313.3,71.6 314.1,71.4 314.8,71.1 315.6,70.9 316.3,70.6 317.1,70.2 317.8,69.9 318.6,69.5 319.3,69.0 320.1,68.6 320.8,68.1 321.6,67.6 322.3,67.1 323.1,66.6 323.8,66.1 324.6,65.5 325.3,65.0 326.1,64.4 326.8,63.9 327.6,63.3 328.3,62.7 329.1,62.2 329.8,61.7 330.6,61.1 331.3,60.6 332.1,60.1 332.8,59.6 333.6,59.2 334.3,58.7 335.1,58.3 335.8,57.9 336.6,57.5 337.3,57.2 338.1,56.9 338.8,56.5 339.6,56.3 340.3,56.0 341.1,55.8 341.8,55.6 342.6,55.4 343.3,55.2 344.1,55.1 344.8,55.0 345.6,55.0 346.3,54.9 347.1,54.9 347.8,54.9 348.6,55.0 349.3,55.1 350.1,55.2 350.8,55.4 351.6,55.6 352.3,55.8 353.1,56.0 353.8,56.3 354.6,56.7 355.3,57.0 356.1,57.4 356.8,57.9 357.6,58.4 358.3,58.9 359.1,59.4 359.8,60.0 360.6,60.5 361.3,61.1 362.1,61.8 362.8,62.4 363.6,63.1 364.3,63.7 365.1,64.4 365.8,65.1 366.6,65.8 367.3,66.5 368.1,67.2 368.8,68.0 369.6,68.7 370.3,69.4 371.1,70.1 371.8,70.8 372.6,71.5 373.3,72.2 374.1,72.8 374.8,73.5 375.6,74.1 376.3,74.8 377.1,75.4 377.8,75.9 378.6,76.5 379.3,77.0 380.1,77.5 380.8,78.0 381.6,78.5 382.3,78.9 383.1,79.4 383.8,79.8 384.6,80.1 385.3,80.5 386.1,80.8 386.8,81.2 387.6,81.5 388.3,81.8 389.1,82.0 389.8,82.3 390.6,82.5 391.3,82.7 392.1,82.9 392.8,83.1 393.6,83.3 394.3,83.4 395.1,83.6 395.8,83.7 396.6,83.8 397.3,83.9 398.1,84.0 398.8,84.1 399.6,84.2 400.3,84.2 401.1,84.3 401.8,84.3 402.6,84.4 403.3,84.4 404.1,84.4 404.8,84.4 405.6,84.5 406.3,84.5 407.1,84.5 407.8,84.5 408.6,84.6 409.3,84.6 410.1,84.6 410.8,84.7 411.6,84.7 412.3,84.8 413.1,84.9 413.8,84.9 414.6,85.0 415.3,85.1 416.1,85.2 416.8,85.3 417.6,85.5 418.3,85.6 419.1,85.8 419.8,86.0 420.6,86.2 421.3,86.4 422.1,86.7 422.8,86.9 423.6,87.2 424.3,87.5 425.1,87.8 425.8,88.1 426.6,88.4 427.3,88.7 428.1,89.1 428.8,89.4 429.6,89.8 430.3,90.2 431.1,90.6 431.8,91.0 432.6,91.4 433.3,91.8 434.1,92.3 434.8,92.7 435.6,93.2 436.3,93.6 437.1,94.1 437.8,94.5 438.6,95.0 439.3,95.4 440.1,95.9 440.8,96.3 441.6,96.8 442.3,97.2 443.1,97.7 443.8,98.1 444.6,98.5 445.3,98.9 446.1,99.3 446.8,99.7 447.6,100.1 448.3,100.4 449.1,100.8 449.8,101.1 450.6,101.4 451.3,101.6 452.1,101.9 452.8,102.1 453.6,102.3 454.3,102.5 455.1,102.6 455.8,102.8 456.6,102.9 457.3,102.9 458.1,102.9 458.8,102.9 459.6,102.9 460.3,102.8 461.1,102.7 461.8,102.5 462.6,102.3 463.3,102.1 464.1,101.8 464.8,101.5 465.6,101.1 466.3,100.7 467.1,100.2 467.8,99.7 468.6,99.2 469.3,98.6 470.1,98.1 470.8,97.4 471.6,96.8 472.3,96.1 473.1,95.5 473.8,94.8 474.6,94.1 475.3,93.4 476.1,92.7 476.8,91.9 477.6,91.2 478.3,90.5 479.1,89.8 479.8,89.1 480.6,88.5 481.3,87.8 482.1,87.1 482.8,86.5 483.6,85.8 484.3,85.2 485.1,84.6 485.8,84.0 486.6,83.4 487.3,82.8 488.1,82.3 488.8,81.7 489.6,81.2 490.3,80.7 491.1,80.1 491.8,79.6 492.6,79.2 493.3,78.7 494.1,78.2 494.8,77.8 495.6,77.4 496.3,77.0 497.1,76.6 497.8,76.2 498.6,75.9 499.3,75.5 500.1,75.2 500.8,74.9 501.6,74.7 502.3,74.4 503.1,74.2 503.8,73.9 504.6,73.7 505.3,73.5 506.1,73.4 506.8,73.2 507.6,73.1 508.3,73.0 509.1,72.9 509.8,72.9 510.6,72.9 511.3,72.9 512.0,72.9 512.8,72.9 513.5,73.0 514.3,73.0 515.0,73.2 515.8,73.3 516.5,73.4 517.3,73.6 517.7,73.7" stroke="#4ea64e" stroke-width="1.05" stroke-dasharray="3.8 3.2"/><path d="M298.3,54.6 299.1,53.7 299.8,52.7 300.6,51.7 301.3,50.7 302.1,49.7 302.8,48.7 303.6,47.7 304.3,46.6 305.1,45.6 305.8,44.6 306.6,43.5 307.3,42.4 308.1,41.4 308.8,40.3 309.6,39.2 310.3,38.2 311.1,37.1 311.8,36.0 312.6,34.9 313.3,33.9 314.1,32.9 314.8,31.9 315.6,31.0 316.3,30.0 317.1,29.2 317.8,28.4 318.6,27.6 319.3,26.9 320.1,26.2 320.8,25.6 321.6,25.0 322.3,24.5 323.1,24.0 323.8,23.6 324.6,23.2 325.3,22.9 326.1,22.7 326.8,22.5 327.6,22.4 328.3,22.4 329.1,22.4 329.8,22.5 330.6,22.6 331.3,22.8 332.1,23.1 332.8,23.4 333.6,23.8 334.3,24.3 335.1,24.7 335.8,25.2 336.6,25.8 337.3,26.4 338.1,27.0 338.8,27.6 339.6,28.3 340.3,29.0 341.1,29.7 341.8,30.4 342.6,31.1 343.3,31.8 344.1,32.5 344.8,33.3 345.6,34.0 346.3,34.8 347.1,35.5 347.8,36.2 348.6,37.0 349.3,37.7 350.1,38.4 350.8,39.1 351.6,39.9 352.3,40.6 353.1,41.3 353.8,42.0 354.6,42.8 355.3,43.5 356.1,44.2 356.8,44.9 357.6,45.6 358.3,46.3 359.1,47.0 359.8,47.7 360.6,48.3 361.3,49.0 362.1,49.7 362.8,50.4 363.6,51.0 364.3,51.7 365.1,52.4 365.8,53.0 366.6,53.7 367.3,54.3 368.1,55.0 368.8,55.6 369.6,56.3 370.3,57.0 371.1,57.6 371.8,58.3 372.6,58.9 373.3,59.6 374.1,60.3 374.8,60.9 375.6,61.6 376.3,62.3 377.1,63.0 377.8,63.6 378.6,64.3 379.3,65.0 380.1,65.7 380.8,66.4 381.6,67.2 382.3,67.9 383.1,68.6 383.8,69.3 384.6,70.1 385.3,70.8 386.1,71.6 386.8,72.4 387.6,73.2 388.3,74.0 389.1,74.8 389.8,75.6 390.6,76.4 391.3,77.3 392.1,78.1 392.8,79.0 393.6,79.9 394.3,80.8 395.1,81.7 395.8,82.6 396.6,83.6 397.3,84.5 398.1,85.5 398.8,86.5 399.6,87.5 400.3,88.5 401.1,89.5 401.8,90.6 402.6,91.7 403.3,92.8 404.1,93.9 404.8,95.0 405.6,96.2 406.3,97.4 407.1,98.6 407.8,99.8 408.6,101.0 409.3,102.3 410.1,103.6 410.8,104.8 411.6,106.1 412.3,107.4 413.1,108.7 413.8,110.0 414.6,111.2 415.3,112.5 416.1,113.7 416.8,114.9 417.6,116.1 418.3,117.2 419.1,118.4 419.8,119.4 420.6,120.5 421.3,121.5 422.1,122.4 422.8,123.4 423.6,124.3 424.3,125.1 425.1,126.0 425.8,126.8 426.6,127.6 427.3,128.4 428.1,129.2 428.8,130.0 429.6,130.7 430.3,131.4 431.1,132.1 431.8,132.7 432.6,133.2 433.3,133.7 434.1,134.1 434.8,134.4 435.6,134.7 436.3,134.8 437.1,135.0 437.8,135.0 438.6,135.0 439.3,135.0 440.1,134.8 440.8,134.7 441.6,134.4 442.3,134.2 443.1,133.8 443.8,133.5 444.6,133.1 445.3,132.6 446.1,132.1 446.8,131.6 447.6,131.0 448.3,130.5 449.1,129.8 449.8,129.2 450.6,128.5 451.3,127.8 452.1,127.1 452.8,126.4 453.6,125.6 454.3,124.8 455.1,124.1 455.8,123.3 456.6,122.5 457.3,121.7 458.1,120.9 458.8,120.1 459.6,119.3 460.3,118.5 461.1,117.7 461.8,116.9 462.6,116.1 463.3,115.4 464.1,114.6 464.8,113.9 465.6,113.1 466.3,112.4 467.1,111.7 467.8,111.0 468.6,110.3 469.3,109.6 470.1,108.9 470.8,108.3 471.6,107.6 472.3,107.0 473.1,106.4 473.8,105.8 474.6,105.2 475.3,104.6 476.1,104.1 476.8,103.6 477.6,103.1 478.3,102.6 479.1,102.1 479.8,101.6 480.6,101.2 481.3,100.7 482.1,100.2 482.8,99.7 483.6,99.1 484.3,98.5 485.1,97.9 485.8,97.2 486.6,96.5 487.3,95.8 488.1,95.1 488.8,94.4 489.6,93.7 490.3,92.9 491.1,92.2 491.8,91.5 492.6,90.7 493.3,90.0 494.1,89.3 494.8,88.7 495.6,88.0 496.3,87.4 497.1,86.7 497.8,86.1 498.6,85.4 499.3,84.6 500.1,83.8 500.8,83.0 501.6,82.1 502.3,81.0 503.1,79.9 503.8,78.7 504.6,77.4 505.3,76.0 506.1,74.5 506.8,73.1 507.6,71.6 508.3,70.2 509.1,68.8 509.8,67.4 510.6,66.0 511.3,64.7 512.0,63.4 512.8,62.2 513.5,61.0 514.3,60.0 515.0,59.0 515.8,58.1 516.5,57.3 517.3,56.6 517.7,56.3" stroke="#4848aa" stroke-width="1.0" stroke-dasharray="4 1 0.9 1.1"/><path d="M298.3,70.7 299.1,70.3 299.8,69.8 300.6,69.3 301.3,68.9 302.1,68.4 302.8,68.0 303.6,67.5 304.3,67.0 305.1,66.6 305.8,66.1 306.6,65.6 307.3,65.1 308.1,64.5 308.8,64.0 309.6,63.4 310.3,62.8 311.1,62.2 311.8,61.6 312.6,61.0 313.3,60.3 314.1,59.6 314.8,58.9 315.6,58.1 316.3,57.3 317.1,56.5 317.8,55.6 318.6,54.7 319.3,53.8 320.1,52.9 320.8,52.0 321.6,51.1 322.3,50.1 323.1,49.2 323.8,48.3 324.6,47.4 325.3,46.5 326.1,45.6 326.8,44.7 327.6,43.9 328.3,43.1 329.1,42.4 329.8,41.7 330.6,41.0 331.3,40.4 332.1,39.8 332.8,39.3 333.6,38.9 334.3,38.6 335.1,38.2 335.8,38.0 336.6,37.8 337.3,37.7 338.1,37.6 338.8,37.5 339.6,37.5 340.3,37.6 341.1,37.7 341.8,37.9 342.6,38.1 343.3,38.3 344.1,38.6 344.8,38.9 345.6,39.2 346.3,39.6 347.1,40.0 347.8,40.5 348.6,40.9 349.3,41.4 350.1,42.0 350.8,42.5 351.6,43.1 352.3,43.7 353.1,44.3 353.8,44.9 354.6,45.6 355.3,46.2 356.1,46.9 356.8,47.6 357.6,48.3 358.3,49.0 359.1,49.7 359.8,50.4 360.6,51.2 361.3,51.9 362.1,52.6 362.8,53.4 363.6,54.1 364.3,54.9 365.1,55.7 365.8,56.4 366.6,57.2 367.3,57.9 368.1,58.7 368.8,59.5 369.6,60.2 370.3,61.0 371.1,61.8 371.8,62.5 372.6,63.3 373.3,64.0 374.1,64.8 374.8,65.5 375.6,66.2 376.3,66.9 377.1,67.7 377.8,68.4 378.6,69.1 379.3,69.7 380.1,70.4 380.8,71.1 381.6,71.7 382.3,72.4 383.1,73.0 383.8,73.6 384.6,74.2 385.3,74.8 386.1,75.3 386.8,75.9 387.6,76.4 388.3,76.9 389.1,77.4 389.8,77.9 390.6,78.3 391.3,78.8 392.1,79.2 392.8,79.6 393.6,80.0 394.3,80.4 395.1,80.8 395.8,81.2 396.6,81.5 397.3,81.9 398.1,82.3 398.8,82.6 399.6,83.0 400.3,83.3 401.1,83.7 401.8,84.0 402.6,84.4 403.3,84.7 404.1,85.1 404.8,85.5 405.6,85.8 406.3,86.2 407.1,86.6 407.8,87.0 408.6,87.4 409.3,87.8 410.1,88.2 410.8,88.6 411.6,89.1 412.3,89.5 413.1,90.0 413.8,90.5 414.6,91.0 415.3,91.6 416.1,92.1 416.8,92.7 417.6,93.3 418.3,93.9 419.1,94.5 419.8,95.2 420.6,95.9 421.3,96.6 422.1,97.3 422.8,98.0 423.6,98.7 424.3,99.4 425.1,100.2 425.8,101.0 426.6,101.7 427.3,102.5 428.1,103.3 428.8,104.1 429.6,104.9 430.3,105.8 431.1,106.6 431.8,107.4 432.6,108.2 433.3,109.1 434.1,109.9 434.8,110.7 435.6,111.5 436.3,112.3 437.1,113.1 437.8,113.8 438.6,114.5 439.3,115.2 440.1,115.9 440.8,116.5 441.6,117.1 442.3,117.7 443.1,118.2 443.8,118.6 444.6,119.0 445.3,119.4 446.1,119.7 446.8,119.9 447.6,120.1 448.3,120.2 449.1,120.2 449.8,120.2 450.6,120.1 451.3,119.9 452.1,119.7 452.8,119.5 453.6,119.2 454.3,118.8 455.1,118.4 455.8,117.9 456.6,117.4 457.3,116.9 458.1,116.4 458.8,115.8 459.6,115.2 460.3,114.6 461.1,114.0 461.8,113.3 462.6,112.7 463.3,112.0 464.1,111.4 464.8,110.7 465.6,110.0 466.3,109.3 467.1,108.6 467.8,107.8 468.6,107.1 469.3,106.3 470.1,105.6 470.8,104.8 471.6,104.0 472.3,103.2 473.1,102.5 473.8,101.7 474.6,100.9 475.3,100.1 476.1,99.3 476.8,98.5 477.6,97.7 478.3,96.9 479.1,96.1 479.8,95.3 480.6,94.5 481.3,93.7 482.1,92.9 482.8,92.1 483.6,91.4 484.3,90.6 485.1,89.8 485.8,89.1 486.6,88.4 487.3,87.6 488.1,86.9 488.8,86.2 489.6,85.6 490.3,84.9 491.1,84.3 491.8,83.6 492.6,83.0 493.3,82.4 494.1,81.8 494.8,81.3 495.6,80.8 496.3,80.3 497.1,79.8 497.8,79.3 498.6,78.9 499.3,78.5 500.1,78.1 500.8,77.7 501.6,77.3 502.3,77.0 503.1,76.6 503.8,76.3 504.6,76.0 505.3,75.7 506.1,75.4 506.8,75.1 507.6,74.9 508.3,74.6 509.1,74.4 509.8,74.1 510.6,73.9 511.3,73.6 512.0,73.4 512.8,73.2 513.5,72.9 514.3,72.7 515.0,72.5 515.8,72.2 516.5,72.0 517.3,71.7 517.7,71.6" stroke="#c048c8" stroke-width="1.05" stroke-dasharray="5.4 1.6"/>
</g>
<path d="M298.30,151.90v-3.4 M342.18,151.90v-3.4 M386.06,151.90v-3.4 M429.94,151.90v-3.4 M473.82,151.90v-3.4 M517.70,151.90v-3.4 M298.30,5.80h3.4 M298.30,42.32h3.4 M298.30,78.85h3.4 M298.30,115.37h3.4 M298.30,151.90h3.4" stroke="#444" stroke-width="1" fill="none"/>
<path d="M309.27,151.90v-2 M320.24,151.90v-2 M331.21,151.90v-2 M353.15,151.90v-2 M364.12,151.90v-2 M375.09,151.90v-2 M397.03,151.90v-2 M408.00,151.90v-2 M418.97,151.90v-2 M440.91,151.90v-2 M451.88,151.90v-2 M462.85,151.90v-2 M484.79,151.90v-2 M495.76,151.90v-2 M506.73,151.90v-2 M298.30,13.10h2 M298.30,20.41h2 M298.30,27.71h2 M298.30,35.02h2 M298.30,49.63h2 M298.30,56.94h2 M298.30,64.24h2 M298.30,71.54h2 M298.30,86.15h2 M298.30,93.46h2 M298.30,100.77h2 M298.30,108.07h2 M298.30,122.68h2 M298.30,129.98h2 M298.30,137.29h2 M298.30,144.59h2" stroke="#777" stroke-width="0.8" fill="none"/>
<rect x="298.3" y="5.8" width="219.40" height="146.10" fill="none" stroke="#555" stroke-width="1.3"/>
<text transform="translate(295.00,8.90) scale(0.85,1)" class="tl" text-anchor="end">0.4</text>
<text transform="translate(295.00,45.42) scale(0.85,1)" class="tl" text-anchor="end">0.2</text>
<text transform="translate(295.00,81.95) scale(0.85,1)" class="tl" text-anchor="end">0</text>
<text transform="translate(295.00,118.48) scale(0.85,1)" class="tl" text-anchor="end">-0.2</text>
<text transform="translate(295.00,155.00) scale(0.85,1)" class="tl" text-anchor="end">-0.4</text>
<text transform="translate(298.30,159.30) scale(0.97,1)" class="tx" text-anchor="middle">0</text>
<text transform="translate(342.18,159.30) scale(0.97,1)" class="tx" text-anchor="middle">0.2</text>
<text transform="translate(386.06,159.30) scale(0.97,1)" class="tx" text-anchor="middle">0.4</text>
<text transform="translate(429.94,159.30) scale(0.97,1)" class="tx" text-anchor="middle">0.6</text>
<text transform="translate(473.82,159.30) scale(0.97,1)" class="tx" text-anchor="middle">0.8</text>
<text transform="translate(517.70,159.30) scale(0.97,1)" class="tx" text-anchor="middle">1</text>
<text x="408.50" y="169.90" class="xt" text-anchor="middle">t / T</text>
<text transform="translate(275.10,78.35) rotate(-90)" class="yt" text-anchor="middle">C<tspan class="sub" dy="2">L</tspan></text>
<text x="267.6" y="6.30" class="pl">(b)</text>
<path d="M325.30,115.50H357.90" stroke="#f4c4c4" stroke-width="3" fill="none" opacity="0.4"/>
<path d="M325.30,115.50H357.90" stroke="#b85858" stroke-width="1.45" fill="none"/>
<text transform="translate(362.50,118.20) scale(0.97,1)" class="lg">CS wave</text>
<path d="M325.30,124.05H357.90" stroke="#ccf2cc" stroke-width="3" fill="none" opacity="0.4"/>
<path d="M325.30,124.05H357.90" stroke="#6a9e6a" stroke-width="1.3" stroke-dasharray="3.8 3.2" fill="none"/>
<text transform="translate(362.50,126.75) scale(0.97,1)" class="lg">DS wave</text>
<path d="M325.30,132.60H357.90" stroke="#d4d4f8" stroke-width="3" fill="none" opacity="0.4"/>
<path d="M325.30,132.60H357.90" stroke="#5a5aa8" stroke-width="1.3" stroke-dasharray="4 1 0.9 1.1" fill="none"/>
<text transform="translate(362.50,135.30) scale(0.97,1)" class="lg">FS wave</text>
<path d="M325.30,141.15H357.90" stroke="#f8c8f8" stroke-width="3" fill="none" opacity="0.4"/>
<path d="M325.30,141.15H357.90" stroke="#c060c8" stroke-width="1.3" stroke-dasharray="5.4 1.6" fill="none"/>
<text transform="translate(362.50,143.85) scale(0.97,1)" class="lg">US wave</text>
<clipPath id="cpc"><rect x="30.5" y="195.7" width="219.10" height="146.10"/></clipPath>
<g clip-path="url(#cpc)" fill="none" stroke-linejoin="round">
<g opacity="0.35"><path d="M30.5,284.5 31.2,284.1 32.0,283.8 32.8,283.4 33.5,283.1 34.2,282.7 35.0,282.4 35.8,282.0 36.5,281.7 37.2,281.3 38.0,281.0 38.8,280.7 39.5,280.3 40.2,280.0 41.0,279.6 41.8,279.3 42.5,279.0 43.2,278.6 44.0,278.3 44.8,278.0 45.5,277.7 46.2,277.4 47.0,277.1 47.8,276.8 48.5,276.5 49.2,276.2 50.0,275.9 50.8,275.6 51.5,275.3 52.2,275.1 53.0,274.8 53.8,274.6 54.5,274.3 55.2,274.1 56.0,273.8 56.8,273.6 57.5,273.4 58.2,273.2 59.0,273.0 59.8,272.8 60.5,272.6 61.2,272.5 62.0,272.3 62.8,272.1 63.5,272.0 64.2,271.9 65.0,271.8 65.8,271.7 66.5,271.6 67.2,271.5 68.0,271.4 68.8,271.3 69.5,271.3 70.2,271.3 71.0,271.2 71.8,271.2 72.5,271.3 73.2,271.3 74.0,271.3 74.8,271.4 75.5,271.4 76.2,271.5 77.0,271.6 77.8,271.7 78.5,271.8 79.2,272.0 80.0,272.1 80.8,272.3 81.5,272.5 82.2,272.7 83.0,272.9 83.8,273.2 84.5,273.4 85.2,273.7 86.0,274.0 86.8,274.3 87.5,274.6 88.2,274.9 89.0,275.2 89.8,275.5 90.5,275.9 91.2,276.2 92.0,276.5 92.8,276.9 93.5,277.3 94.2,277.6 95.0,278.0 95.8,278.4 96.5,278.7 97.2,279.1 98.0,279.5 98.8,279.9 99.5,280.2 100.2,280.6 101.0,281.0 101.8,281.4 102.5,281.7 103.2,282.1 104.0,282.5 104.8,282.8 105.5,283.2 106.2,283.5 107.0,283.8 107.8,284.1 108.5,284.5 109.2,284.8 110.0,285.1 110.8,285.3 111.5,285.6 112.2,285.9 113.0,286.1 113.8,286.3 114.5,286.5 115.2,286.7 116.0,286.9 116.8,287.1 117.5,287.2 118.2,287.4 119.0,287.5 119.8,287.6 120.5,287.7 121.2,287.8 122.0,287.8 122.8,287.9 123.5,287.9 124.2,287.9 125.0,287.9 125.8,287.9 126.5,287.9 127.2,287.8 128.0,287.7 128.8,287.7 129.5,287.6 130.2,287.5 131.0,287.4 131.8,287.2 132.5,287.1 133.2,286.9 134.0,286.8 134.8,286.6 135.5,286.4 136.2,286.1 137.0,285.9 137.8,285.7 138.5,285.4 139.2,285.2 140.0,284.9 140.8,284.6 141.5,284.3 142.2,284.0 143.0,283.7 143.8,283.3 144.5,283.0 145.2,282.7 146.0,282.3 146.8,282.0 147.5,281.6 148.2,281.3 149.0,280.9 149.8,280.5 150.5,280.2 151.2,279.8 152.0,279.5 152.8,279.1 153.5,278.7 154.2,278.4 155.0,278.0 155.8,277.7 156.5,277.3 157.2,277.0 158.0,276.6 158.8,276.3 159.5,276.0 160.2,275.6 161.0,275.3 161.8,275.0 162.5,274.7 163.2,274.5 164.0,274.2 164.8,273.9 165.5,273.7 166.2,273.5 167.0,273.2 167.8,273.0 168.5,272.8 169.2,272.6 170.0,272.4 170.8,272.3 171.5,272.1 172.2,272.0 173.0,271.8 173.8,271.7 174.5,271.6 175.2,271.5 176.0,271.5 176.8,271.4 177.5,271.4 178.2,271.3 179.0,271.3 179.8,271.3 180.5,271.4 181.2,271.4 182.0,271.5 182.8,271.5 183.5,271.6 184.2,271.7 185.0,271.8 185.8,272.0 186.5,272.1 187.2,272.3 188.0,272.5 188.8,272.6 189.5,272.8 190.2,273.1 191.0,273.3 191.8,273.5 192.5,273.8 193.2,274.0 194.0,274.3 194.8,274.6 195.5,274.8 196.2,275.1 197.0,275.4 197.8,275.7 198.5,276.0 199.2,276.4 200.0,276.7 200.8,277.0 201.5,277.3 202.2,277.7 203.0,278.0 203.8,278.3 204.5,278.7 205.2,279.0 206.0,279.4 206.8,279.7 207.5,280.0 208.2,280.4 209.0,280.7 209.8,281.1 210.5,281.4 211.2,281.7 212.0,282.1 212.8,282.4 213.5,282.7 214.2,283.0 215.0,283.3 215.8,283.6 216.5,283.9 217.2,284.2 218.0,284.5 218.8,284.8 219.5,285.0 220.2,285.3 221.0,285.5 221.8,285.8 222.5,286.0 223.2,286.2 224.0,286.5 224.8,286.7 225.5,286.8 226.2,287.0 227.0,287.2 227.8,287.4 228.5,287.5 229.2,287.6 230.0,287.8 230.8,287.9 231.5,288.0 232.2,288.1 233.0,288.1 233.8,288.2 234.5,288.2 235.2,288.2 236.0,288.3 236.8,288.3 237.5,288.2 238.2,288.2 239.0,288.1 239.8,288.1 240.5,288.0 241.2,287.9 242.0,287.8 242.8,287.6 243.5,287.5 244.2,287.3 245.0,287.1 245.8,286.9 246.5,286.6 247.2,286.4 248.0,286.1 248.8,285.8 249.5,285.5 249.6,285.4" stroke="#f4c4c4" stroke-width="3.0"/><path d="M30.5,280.8 31.2,279.6 32.0,278.4 32.8,277.3 33.5,276.2 34.2,275.2 35.0,274.2 35.8,273.2 36.5,272.2 37.2,271.2 38.0,270.2 38.8,269.2 39.5,268.2 40.2,267.1 41.0,266.0 41.8,264.8 42.5,263.6 43.2,262.3 44.0,261.0 44.8,259.6 45.5,258.3 46.2,257.0 47.0,255.7 47.8,254.5 48.5,253.4 49.2,252.4 50.0,251.4 50.8,250.4 51.5,249.6 52.2,248.7 53.0,248.0 53.8,247.2 54.5,246.5 55.2,245.9 56.0,245.3 56.8,244.7 57.5,244.1 58.2,243.6 59.0,243.1 59.8,242.7 60.5,242.3 61.2,242.0 62.0,241.7 62.8,241.4 63.5,241.2 64.2,241.1 65.0,240.9 65.8,240.9 66.5,240.9 67.2,240.9 68.0,241.0 68.8,241.2 69.5,241.4 70.2,241.6 71.0,242.0 71.8,242.3 72.5,242.8 73.2,243.3 74.0,243.8 74.8,244.4 75.5,245.1 76.2,245.8 77.0,246.6 77.8,247.4 78.5,248.2 79.2,249.0 80.0,249.9 80.8,250.7 81.5,251.6 82.2,252.5 83.0,253.3 83.8,254.2 84.5,255.0 85.2,255.9 86.0,256.7 86.8,257.6 87.5,258.6 88.2,259.8 89.0,261.0 89.8,262.4 90.5,264.0 91.2,265.5 92.0,267.1 92.8,268.6 93.5,270.0 94.2,271.3 95.0,272.6 95.8,273.8 96.5,275.1 97.2,276.2 98.0,277.4 98.8,278.5 99.5,279.5 100.2,280.6 101.0,281.6 101.8,282.6 102.5,283.6 103.2,284.5 104.0,285.4 104.8,286.3 105.5,287.1 106.2,287.9 107.0,288.7 107.8,289.4 108.5,290.2 109.2,290.9 110.0,291.5 110.8,292.1 111.5,292.7 112.2,293.3 113.0,293.8 113.8,294.3 114.5,294.8 115.2,295.2 116.0,295.6 116.8,295.9 117.5,296.3 118.2,296.5 119.0,296.7 119.8,296.9 120.5,297.0 121.2,297.1 122.0,297.1 122.8,297.1 123.5,297.0 124.2,296.9 125.0,296.7 125.8,296.4 126.5,296.1 127.2,295.7 128.0,295.2 128.8,294.7 129.5,294.2 130.2,293.5 131.0,292.9 131.8,292.1 132.5,291.3 133.2,290.5 134.0,289.6 134.8,288.6 135.5,287.7 136.2,286.6 137.0,285.6 137.8,284.5 138.5,283.5 139.2,282.4 140.0,281.3 140.8,280.3 141.5,279.2 142.2,278.1 143.0,277.0 143.8,275.8 144.5,274.6 145.2,273.3 146.0,271.8 146.8,270.3 147.5,268.8 148.2,267.4 149.0,266.2 149.8,265.2 150.5,264.2 151.2,263.2 152.0,262.2 152.8,261.2 153.5,260.1 154.2,259.0 155.0,257.9 155.8,256.7 156.5,255.6 157.2,254.4 158.0,253.3 158.8,252.3 159.5,251.2 160.2,250.2 161.0,249.3 161.8,248.4 162.5,247.6 163.2,246.8 164.0,246.1 164.8,245.4 165.5,244.8 166.2,244.2 167.0,243.7 167.8,243.2 168.5,242.8 169.2,242.4 170.0,242.1 170.8,241.8 171.5,241.6 172.2,241.4 173.0,241.2 173.8,241.1 174.5,241.1 175.2,241.1 176.0,241.1 176.8,241.2 177.5,241.4 178.2,241.6 179.0,241.8 179.8,242.1 180.5,242.4 181.2,242.8 182.0,243.2 182.8,243.7 183.5,244.2 184.2,244.8 185.0,245.4 185.8,246.0 186.5,246.7 187.2,247.4 188.0,248.2 188.8,249.0 189.5,249.9 190.2,250.7 191.0,251.7 191.8,252.6 192.5,253.6 193.2,254.7 194.0,255.7 194.8,256.8 195.5,258.0 196.2,259.1 197.0,260.3 197.8,261.5 198.5,262.7 199.2,263.9 200.0,265.2 200.8,266.4 201.5,267.6 202.2,268.8 203.0,270.0 203.8,271.2 204.5,272.4 205.2,273.6 206.0,274.7 206.8,275.9 207.5,277.0 208.2,278.1 209.0,279.2 209.8,280.3 210.5,281.3 211.2,282.4 212.0,283.4 212.8,284.3 213.5,285.3 214.2,286.2 215.0,287.2 215.8,288.0 216.5,288.9 217.2,289.7 218.0,290.5 218.8,291.2 219.5,292.0 220.2,292.6 221.0,293.3 221.8,293.9 222.5,294.5 223.2,295.0 224.0,295.5 224.8,295.9 225.5,296.3 226.2,296.7 227.0,297.0 227.8,297.3 228.5,297.5 229.2,297.6 230.0,297.7 230.8,297.8 231.5,297.8 232.2,297.7 233.0,297.6 233.8,297.4 234.5,297.2 235.2,296.9 236.0,296.5 236.8,296.1 237.5,295.6 238.2,295.1 239.0,294.6 239.8,294.0 240.5,293.5 241.2,292.9 242.0,292.3 242.8,291.7 243.5,291.1 244.2,290.5 245.0,290.0 245.8,289.4 246.5,288.9 247.2,288.5 248.0,288.1 248.8,287.8 249.5,287.5 249.6,287.5" stroke="#ccf2cc" stroke-width="3.0"/><path d="M30.5,284.8 31.2,284.5 32.0,284.2 32.8,284.0 33.5,283.7 34.2,283.5 35.0,283.2 35.8,283.0 36.5,282.7 37.2,282.5 38.0,282.3 38.8,282.0 39.5,281.8 40.2,281.6 41.0,281.4 41.8,281.2 42.5,281.0 43.2,280.8 44.0,280.7 44.8,280.5 45.5,280.4 46.2,280.2 47.0,280.1 47.8,280.0 48.5,279.8 49.2,279.7 50.0,279.6 50.8,279.6 51.5,279.5 52.2,279.4 53.0,279.4 53.8,279.3 54.5,279.3 55.2,279.3 56.0,279.3 56.8,279.3 57.5,279.3 58.2,279.3 59.0,279.4 59.8,279.4 60.5,279.5 61.2,279.5 62.0,279.6 62.8,279.7 63.5,279.8 64.2,279.9 65.0,280.0 65.8,280.1 66.5,280.2 67.2,280.3 68.0,280.4 68.8,280.6 69.5,280.7 70.2,280.8 71.0,281.0 71.8,281.1 72.5,281.3 73.2,281.4 74.0,281.6 74.8,281.7 75.5,281.9 76.2,282.0 77.0,282.2 77.8,282.3 78.5,282.5 79.2,282.6 80.0,282.8 80.8,282.9 81.5,283.1 82.2,283.3 83.0,283.4 83.8,283.6 84.5,283.7 85.2,283.9 86.0,284.0 86.8,284.2 87.5,284.3 88.2,284.4 89.0,284.6 89.8,284.7 90.5,284.9 91.2,285.0 92.0,285.1 92.8,285.3 93.5,285.4 94.2,285.5 95.0,285.7 95.8,285.8 96.5,285.9 97.2,286.0 98.0,286.2 98.8,286.3 99.5,286.4 100.2,286.5 101.0,286.6 101.8,286.7 102.5,286.8 103.2,286.9 104.0,287.0 104.8,287.1 105.5,287.2 106.2,287.2 107.0,287.3 107.8,287.4 108.5,287.5 109.2,287.5 110.0,287.6 110.8,287.6 111.5,287.7 112.2,287.7 113.0,287.8 113.8,287.8 114.5,287.9 115.2,287.9 116.0,287.9 116.8,287.9 117.5,287.9 118.2,288.0 119.0,288.0 119.8,288.0 120.5,287.9 121.2,287.9 122.0,287.9 122.8,287.9 123.5,287.9 124.2,287.8 125.0,287.8 125.8,287.7 126.5,287.7 127.2,287.6 128.0,287.5 128.8,287.5 129.5,287.4 130.2,287.3 131.0,287.2 131.8,287.1 132.5,287.0 133.2,286.9 134.0,286.7 134.8,286.6 135.5,286.5 136.2,286.3 137.0,286.2 137.8,286.0 138.5,285.8 139.2,285.6 140.0,285.5 140.8,285.3 141.5,285.1 142.2,284.9 143.0,284.7 143.8,284.5 144.5,284.2 145.2,284.0 146.0,283.8 146.8,283.6 147.5,283.4 148.2,283.2 149.0,282.9 149.8,282.7 150.5,282.5 151.2,282.3 152.0,282.1 152.8,281.9 153.5,281.7 154.2,281.5 155.0,281.3 155.8,281.1 156.5,280.9 157.2,280.7 158.0,280.6 158.8,280.4 159.5,280.3 160.2,280.1 161.0,280.0 161.8,279.9 162.5,279.7 163.2,279.7 164.0,279.6 164.8,279.5 165.5,279.4 166.2,279.4 167.0,279.4 167.8,279.3 168.5,279.3 169.2,279.3 170.0,279.3 170.8,279.4 171.5,279.4 172.2,279.4 173.0,279.5 173.8,279.6 174.5,279.6 175.2,279.7 176.0,279.8 176.8,279.9 177.5,280.0 178.2,280.1 179.0,280.2 179.8,280.3 180.5,280.5 181.2,280.6 182.0,280.7 182.8,280.9 183.5,281.0 184.2,281.2 185.0,281.3 185.8,281.5 186.5,281.6 187.2,281.8 188.0,282.0 188.8,282.1 189.5,282.3 190.2,282.5 191.0,282.6 191.8,282.8 192.5,283.0 193.2,283.2 194.0,283.3 194.8,283.5 195.5,283.7 196.2,283.9 197.0,284.0 197.8,284.2 198.5,284.4 199.2,284.5 200.0,284.7 200.8,284.9 201.5,285.0 202.2,285.2 203.0,285.4 203.8,285.5 204.5,285.7 205.2,285.8 206.0,286.0 206.8,286.1 207.5,286.3 208.2,286.4 209.0,286.6 209.8,286.7 210.5,286.8 211.2,287.0 212.0,287.1 212.8,287.2 213.5,287.3 214.2,287.4 215.0,287.5 215.8,287.6 216.5,287.7 217.2,287.8 218.0,287.9 218.8,288.0 219.5,288.0 220.2,288.1 221.0,288.2 221.8,288.2 222.5,288.2 223.2,288.3 224.0,288.3 224.8,288.3 225.5,288.3 226.2,288.3 227.0,288.3 227.8,288.3 228.5,288.3 229.2,288.3 230.0,288.2 230.8,288.2 231.5,288.1 232.2,288.1 233.0,288.0 233.8,287.9 234.5,287.9 235.2,287.8 236.0,287.7 236.8,287.6 237.5,287.5 238.2,287.3 239.0,287.2 239.8,287.1 240.5,286.9 241.2,286.8 242.0,286.6 242.8,286.5 243.5,286.3 244.2,286.2 245.0,286.0 245.8,285.8 246.5,285.6 247.2,285.5 248.0,285.3 248.8,285.1 249.5,284.9 249.6,284.8" stroke="#d4d4f8" stroke-width="3.0"/><path d="M30.5,271.1 31.2,270.7 32.0,270.3 32.8,270.0 33.5,269.6 34.2,269.2 35.0,268.9 35.8,268.5 36.5,268.1 37.2,267.8 38.0,267.5 38.8,267.1 39.5,266.8 40.2,266.5 41.0,266.2 41.8,265.9 42.5,265.6 43.2,265.3 44.0,265.0 44.8,264.7 45.5,264.5 46.2,264.2 47.0,264.0 47.8,263.7 48.5,263.5 49.2,263.3 50.0,263.1 50.8,262.9 51.5,262.7 52.2,262.5 53.0,262.3 53.8,262.1 54.5,262.0 55.2,261.8 56.0,261.7 56.8,261.6 57.5,261.4 58.2,261.3 59.0,261.2 59.8,261.1 60.5,261.1 61.2,261.0 62.0,260.9 62.8,260.9 63.5,260.8 64.2,260.8 65.0,260.8 65.8,260.8 66.5,260.8 67.2,260.8 68.0,260.8 68.8,260.9 69.5,260.9 70.2,261.0 71.0,261.1 71.8,261.2 72.5,261.3 73.2,261.4 74.0,261.5 74.8,261.6 75.5,261.8 76.2,262.0 77.0,262.1 77.8,262.3 78.5,262.5 79.2,262.8 80.0,263.0 80.8,263.2 81.5,263.5 82.2,263.7 83.0,264.0 83.8,264.3 84.5,264.6 85.2,264.9 86.0,265.2 86.8,265.5 87.5,265.8 88.2,266.1 89.0,266.5 89.8,266.8 90.5,267.1 91.2,267.5 92.0,267.8 92.8,268.1 93.5,268.5 94.2,268.8 95.0,269.2 95.8,269.5 96.5,269.9 97.2,270.2 98.0,270.5 98.8,270.9 99.5,271.2 100.2,271.5 101.0,271.8 101.8,272.1 102.5,272.4 103.2,272.7 104.0,273.0 104.8,273.3 105.5,273.6 106.2,273.9 107.0,274.1 107.8,274.4 108.5,274.6 109.2,274.8 110.0,275.0 110.8,275.2 111.5,275.4 112.2,275.6 113.0,275.7 113.8,275.9 114.5,276.0 115.2,276.1 116.0,276.2 116.8,276.2 117.5,276.3 118.2,276.3 119.0,276.3 119.8,276.3 120.5,276.3 121.2,276.3 122.0,276.3 122.8,276.2 123.5,276.1 124.2,276.0 125.0,275.9 125.8,275.8 126.5,275.7 127.2,275.6 128.0,275.4 128.8,275.2 129.5,275.1 130.2,274.9 131.0,274.7 131.8,274.4 132.5,274.2 133.2,274.0 134.0,273.7 134.8,273.5 135.5,273.2 136.2,272.9 137.0,272.7 137.8,272.4 138.5,272.1 139.2,271.7 140.0,271.4 140.8,271.1 141.5,270.8 142.2,270.4 143.0,270.1 143.8,269.7 144.5,269.4 145.2,269.0 146.0,268.6 146.8,268.3 147.5,267.9 148.2,267.5 149.0,267.2 149.8,266.8 150.5,266.5 151.2,266.1 152.0,265.7 152.8,265.4 153.5,265.1 154.2,264.7 155.0,264.4 155.8,264.1 156.5,263.8 157.2,263.5 158.0,263.2 158.8,262.9 159.5,262.6 160.2,262.3 161.0,262.1 161.8,261.9 162.5,261.7 163.2,261.5 164.0,261.3 164.8,261.1 165.5,260.9 166.2,260.8 167.0,260.7 167.8,260.6 168.5,260.5 169.2,260.4 170.0,260.3 170.8,260.3 171.5,260.2 172.2,260.2 173.0,260.2 173.8,260.2 174.5,260.2 175.2,260.3 176.0,260.3 176.8,260.4 177.5,260.5 178.2,260.6 179.0,260.7 179.8,260.8 180.5,261.0 181.2,261.1 182.0,261.3 182.8,261.4 183.5,261.6 184.2,261.8 185.0,262.0 185.8,262.2 186.5,262.4 187.2,262.7 188.0,262.9 188.8,263.2 189.5,263.4 190.2,263.7 191.0,263.9 191.8,264.2 192.5,264.5 193.2,264.8 194.0,265.1 194.8,265.4 195.5,265.7 196.2,266.0 197.0,266.3 197.8,266.6 198.5,266.9 199.2,267.2 200.0,267.5 200.8,267.8 201.5,268.2 202.2,268.5 203.0,268.8 203.8,269.1 204.5,269.4 205.2,269.7 206.0,270.1 206.8,270.4 207.5,270.7 208.2,271.0 209.0,271.3 209.8,271.6 210.5,271.9 211.2,272.2 212.0,272.4 212.8,272.7 213.5,273.0 214.2,273.3 215.0,273.5 215.8,273.8 216.5,274.0 217.2,274.2 218.0,274.4 218.8,274.6 219.5,274.8 220.2,275.0 221.0,275.2 221.8,275.4 222.5,275.5 223.2,275.7 224.0,275.8 224.8,275.9 225.5,276.0 226.2,276.1 227.0,276.1 227.8,276.2 228.5,276.2 229.2,276.2 230.0,276.2 230.8,276.2 231.5,276.2 232.2,276.1 233.0,276.1 233.8,276.0 234.5,275.9 235.2,275.8 236.0,275.7 236.8,275.6 237.5,275.5 238.2,275.3 239.0,275.1 239.8,275.0 240.5,274.8 241.2,274.6 242.0,274.4 242.8,274.1 243.5,273.9 244.2,273.7 245.0,273.4 245.8,273.1 246.5,272.9 247.2,272.6 248.0,272.3 248.8,272.0 249.5,271.7 249.6,271.6" stroke="#f8c8f8" stroke-width="3.0"/></g><path d="M30.5,284.5 31.2,284.1 32.0,283.8 32.8,283.4 33.5,283.1 34.2,282.7 35.0,282.4 35.8,282.0 36.5,281.7 37.2,281.3 38.0,281.0 38.8,280.7 39.5,280.3 40.2,280.0 41.0,279.6 41.8,279.3 42.5,279.0 43.2,278.6 44.0,278.3 44.8,278.0 45.5,277.7 46.2,277.4 47.0,277.1 47.8,276.8 48.5,276.5 49.2,276.2 50.0,275.9 50.8,275.6 51.5,275.3 52.2,275.1 53.0,274.8 53.8,274.6 54.5,274.3 55.2,274.1 56.0,273.8 56.8,273.6 57.5,273.4 58.2,273.2 59.0,273.0 59.8,272.8 60.5,272.6 61.2,272.5 62.0,272.3 62.8,272.1 63.5,272.0 64.2,271.9 65.0,271.8 65.8,271.7 66.5,271.6 67.2,271.5 68.0,271.4 68.8,271.3 69.5,271.3 70.2,271.3 71.0,271.2 71.8,271.2 72.5,271.3 73.2,271.3 74.0,271.3 74.8,271.4 75.5,271.4 76.2,271.5 77.0,271.6 77.8,271.7 78.5,271.8 79.2,272.0 80.0,272.1 80.8,272.3 81.5,272.5 82.2,272.7 83.0,272.9 83.8,273.2 84.5,273.4 85.2,273.7 86.0,274.0 86.8,274.3 87.5,274.6 88.2,274.9 89.0,275.2 89.8,275.5 90.5,275.9 91.2,276.2 92.0,276.5 92.8,276.9 93.5,277.3 94.2,277.6 95.0,278.0 95.8,278.4 96.5,278.7 97.2,279.1 98.0,279.5 98.8,279.9 99.5,280.2 100.2,280.6 101.0,281.0 101.8,281.4 102.5,281.7 103.2,282.1 104.0,282.5 104.8,282.8 105.5,283.2 106.2,283.5 107.0,283.8 107.8,284.1 108.5,284.5 109.2,284.8 110.0,285.1 110.8,285.3 111.5,285.6 112.2,285.9 113.0,286.1 113.8,286.3 114.5,286.5 115.2,286.7 116.0,286.9 116.8,287.1 117.5,287.2 118.2,287.4 119.0,287.5 119.8,287.6 120.5,287.7 121.2,287.8 122.0,287.8 122.8,287.9 123.5,287.9 124.2,287.9 125.0,287.9 125.8,287.9 126.5,287.9 127.2,287.8 128.0,287.7 128.8,287.7 129.5,287.6 130.2,287.5 131.0,287.4 131.8,287.2 132.5,287.1 133.2,286.9 134.0,286.8 134.8,286.6 135.5,286.4 136.2,286.1 137.0,285.9 137.8,285.7 138.5,285.4 139.2,285.2 140.0,284.9 140.8,284.6 141.5,284.3 142.2,284.0 143.0,283.7 143.8,283.3 144.5,283.0 145.2,282.7 146.0,282.3 146.8,282.0 147.5,281.6 148.2,281.3 149.0,280.9 149.8,280.5 150.5,280.2 151.2,279.8 152.0,279.5 152.8,279.1 153.5,278.7 154.2,278.4 155.0,278.0 155.8,277.7 156.5,277.3 157.2,277.0 158.0,276.6 158.8,276.3 159.5,276.0 160.2,275.6 161.0,275.3 161.8,275.0 162.5,274.7 163.2,274.5 164.0,274.2 164.8,273.9 165.5,273.7 166.2,273.5 167.0,273.2 167.8,273.0 168.5,272.8 169.2,272.6 170.0,272.4 170.8,272.3 171.5,272.1 172.2,272.0 173.0,271.8 173.8,271.7 174.5,271.6 175.2,271.5 176.0,271.5 176.8,271.4 177.5,271.4 178.2,271.3 179.0,271.3 179.8,271.3 180.5,271.4 181.2,271.4 182.0,271.5 182.8,271.5 183.5,271.6 184.2,271.7 185.0,271.8 185.8,272.0 186.5,272.1 187.2,272.3 188.0,272.5 188.8,272.6 189.5,272.8 190.2,273.1 191.0,273.3 191.8,273.5 192.5,273.8 193.2,274.0 194.0,274.3 194.8,274.6 195.5,274.8 196.2,275.1 197.0,275.4 197.8,275.7 198.5,276.0 199.2,276.4 200.0,276.7 200.8,277.0 201.5,277.3 202.2,277.7 203.0,278.0 203.8,278.3 204.5,278.7 205.2,279.0 206.0,279.4 206.8,279.7 207.5,280.0 208.2,280.4 209.0,280.7 209.8,281.1 210.5,281.4 211.2,281.7 212.0,282.1 212.8,282.4 213.5,282.7 214.2,283.0 215.0,283.3 215.8,283.6 216.5,283.9 217.2,284.2 218.0,284.5 218.8,284.8 219.5,285.0 220.2,285.3 221.0,285.5 221.8,285.8 222.5,286.0 223.2,286.2 224.0,286.5 224.8,286.7 225.5,286.8 226.2,287.0 227.0,287.2 227.8,287.4 228.5,287.5 229.2,287.6 230.0,287.8 230.8,287.9 231.5,288.0 232.2,288.1 233.0,288.1 233.8,288.2 234.5,288.2 235.2,288.2 236.0,288.3 236.8,288.3 237.5,288.2 238.2,288.2 239.0,288.1 239.8,288.1 240.5,288.0 241.2,287.9 242.0,287.8 242.8,287.6 243.5,287.5 244.2,287.3 245.0,287.1 245.8,286.9 246.5,286.6 247.2,286.4 248.0,286.1 248.8,285.8 249.5,285.5 249.6,285.4" stroke="#c24646" stroke-width="1.0"/><path d="M30.5,280.8 31.2,279.6 32.0,278.4 32.8,277.3 33.5,276.2 34.2,275.2 35.0,274.2 35.8,273.2 36.5,272.2 37.2,271.2 38.0,270.2 38.8,269.2 39.5,268.2 40.2,267.1 41.0,266.0 41.8,264.8 42.5,263.6 43.2,262.3 44.0,261.0 44.8,259.6 45.5,258.3 46.2,257.0 47.0,255.7 47.8,254.5 48.5,253.4 49.2,252.4 50.0,251.4 50.8,250.4 51.5,249.6 52.2,248.7 53.0,248.0 53.8,247.2 54.5,246.5 55.2,245.9 56.0,245.3 56.8,244.7 57.5,244.1 58.2,243.6 59.0,243.1 59.8,242.7 60.5,242.3 61.2,242.0 62.0,241.7 62.8,241.4 63.5,241.2 64.2,241.1 65.0,240.9 65.8,240.9 66.5,240.9 67.2,240.9 68.0,241.0 68.8,241.2 69.5,241.4 70.2,241.6 71.0,242.0 71.8,242.3 72.5,242.8 73.2,243.3 74.0,243.8 74.8,244.4 75.5,245.1 76.2,245.8 77.0,246.6 77.8,247.4 78.5,248.2 79.2,249.0 80.0,249.9 80.8,250.7 81.5,251.6 82.2,252.5 83.0,253.3 83.8,254.2 84.5,255.0 85.2,255.9 86.0,256.7 86.8,257.6 87.5,258.6 88.2,259.8 89.0,261.0 89.8,262.4 90.5,264.0 91.2,265.5 92.0,267.1 92.8,268.6 93.5,270.0 94.2,271.3 95.0,272.6 95.8,273.8 96.5,275.1 97.2,276.2 98.0,277.4 98.8,278.5 99.5,279.5 100.2,280.6 101.0,281.6 101.8,282.6 102.5,283.6 103.2,284.5 104.0,285.4 104.8,286.3 105.5,287.1 106.2,287.9 107.0,288.7 107.8,289.4 108.5,290.2 109.2,290.9 110.0,291.5 110.8,292.1 111.5,292.7 112.2,293.3 113.0,293.8 113.8,294.3 114.5,294.8 115.2,295.2 116.0,295.6 116.8,295.9 117.5,296.3 118.2,296.5 119.0,296.7 119.8,296.9 120.5,297.0 121.2,297.1 122.0,297.1 122.8,297.1 123.5,297.0 124.2,296.9 125.0,296.7 125.8,296.4 126.5,296.1 127.2,295.7 128.0,295.2 128.8,294.7 129.5,294.2 130.2,293.5 131.0,292.9 131.8,292.1 132.5,291.3 133.2,290.5 134.0,289.6 134.8,288.6 135.5,287.7 136.2,286.6 137.0,285.6 137.8,284.5 138.5,283.5 139.2,282.4 140.0,281.3 140.8,280.3 141.5,279.2 142.2,278.1 143.0,277.0 143.8,275.8 144.5,274.6 145.2,273.3 146.0,271.8 146.8,270.3 147.5,268.8 148.2,267.4 149.0,266.2 149.8,265.2 150.5,264.2 151.2,263.2 152.0,262.2 152.8,261.2 153.5,260.1 154.2,259.0 155.0,257.9 155.8,256.7 156.5,255.6 157.2,254.4 158.0,253.3 158.8,252.3 159.5,251.2 160.2,250.2 161.0,249.3 161.8,248.4 162.5,247.6 163.2,246.8 164.0,246.1 164.8,245.4 165.5,244.8 166.2,244.2 167.0,243.7 167.8,243.2 168.5,242.8 169.2,242.4 170.0,242.1 170.8,241.8 171.5,241.6 172.2,241.4 173.0,241.2 173.8,241.1 174.5,241.1 175.2,241.1 176.0,241.1 176.8,241.2 177.5,241.4 178.2,241.6 179.0,241.8 179.8,242.1 180.5,242.4 181.2,242.8 182.0,243.2 182.8,243.7 183.5,244.2 184.2,244.8 185.0,245.4 185.8,246.0 186.5,246.7 187.2,247.4 188.0,248.2 188.8,249.0 189.5,249.9 190.2,250.7 191.0,251.7 191.8,252.6 192.5,253.6 193.2,254.7 194.0,255.7 194.8,256.8 195.5,258.0 196.2,259.1 197.0,260.3 197.8,261.5 198.5,262.7 199.2,263.9 200.0,265.2 200.8,266.4 201.5,267.6 202.2,268.8 203.0,270.0 203.8,271.2 204.5,272.4 205.2,273.6 206.0,274.7 206.8,275.9 207.5,277.0 208.2,278.1 209.0,279.2 209.8,280.3 210.5,281.3 211.2,282.4 212.0,283.4 212.8,284.3 213.5,285.3 214.2,286.2 215.0,287.2 215.8,288.0 216.5,288.9 217.2,289.7 218.0,290.5 218.8,291.2 219.5,292.0 220.2,292.6 221.0,293.3 221.8,293.9 222.5,294.5 223.2,295.0 224.0,295.5 224.8,295.9 225.5,296.3 226.2,296.7 227.0,297.0 227.8,297.3 228.5,297.5 229.2,297.6 230.0,297.7 230.8,297.8 231.5,297.8 232.2,297.7 233.0,297.6 233.8,297.4 234.5,297.2 235.2,296.9 236.0,296.5 236.8,296.1 237.5,295.6 238.2,295.1 239.0,294.6 239.8,294.0 240.5,293.5 241.2,292.9 242.0,292.3 242.8,291.7 243.5,291.1 244.2,290.5 245.0,290.0 245.8,289.4 246.5,288.9 247.2,288.5 248.0,288.1 248.8,287.8 249.5,287.5 249.6,287.5" stroke="#4ea64e" stroke-width="1.05" stroke-dasharray="3.8 3.2"/><path d="M30.5,284.8 31.2,284.5 32.0,284.2 32.8,284.0 33.5,283.7 34.2,283.5 35.0,283.2 35.8,283.0 36.5,282.7 37.2,282.5 38.0,282.3 38.8,282.0 39.5,281.8 40.2,281.6 41.0,281.4 41.8,281.2 42.5,281.0 43.2,280.8 44.0,280.7 44.8,280.5 45.5,280.4 46.2,280.2 47.0,280.1 47.8,280.0 48.5,279.8 49.2,279.7 50.0,279.6 50.8,279.6 51.5,279.5 52.2,279.4 53.0,279.4 53.8,279.3 54.5,279.3 55.2,279.3 56.0,279.3 56.8,279.3 57.5,279.3 58.2,279.3 59.0,279.4 59.8,279.4 60.5,279.5 61.2,279.5 62.0,279.6 62.8,279.7 63.5,279.8 64.2,279.9 65.0,280.0 65.8,280.1 66.5,280.2 67.2,280.3 68.0,280.4 68.8,280.6 69.5,280.7 70.2,280.8 71.0,281.0 71.8,281.1 72.5,281.3 73.2,281.4 74.0,281.6 74.8,281.7 75.5,281.9 76.2,282.0 77.0,282.2 77.8,282.3 78.5,282.5 79.2,282.6 80.0,282.8 80.8,282.9 81.5,283.1 82.2,283.3 83.0,283.4 83.8,283.6 84.5,283.7 85.2,283.9 86.0,284.0 86.8,284.2 87.5,284.3 88.2,284.4 89.0,284.6 89.8,284.7 90.5,284.9 91.2,285.0 92.0,285.1 92.8,285.3 93.5,285.4 94.2,285.5 95.0,285.7 95.8,285.8 96.5,285.9 97.2,286.0 98.0,286.2 98.8,286.3 99.5,286.4 100.2,286.5 101.0,286.6 101.8,286.7 102.5,286.8 103.2,286.9 104.0,287.0 104.8,287.1 105.5,287.2 106.2,287.2 107.0,287.3 107.8,287.4 108.5,287.5 109.2,287.5 110.0,287.6 110.8,287.6 111.5,287.7 112.2,287.7 113.0,287.8 113.8,287.8 114.5,287.9 115.2,287.9 116.0,287.9 116.8,287.9 117.5,287.9 118.2,288.0 119.0,288.0 119.8,288.0 120.5,287.9 121.2,287.9 122.0,287.9 122.8,287.9 123.5,287.9 124.2,287.8 125.0,287.8 125.8,287.7 126.5,287.7 127.2,287.6 128.0,287.5 128.8,287.5 129.5,287.4 130.2,287.3 131.0,287.2 131.8,287.1 132.5,287.0 133.2,286.9 134.0,286.7 134.8,286.6 135.5,286.5 136.2,286.3 137.0,286.2 137.8,286.0 138.5,285.8 139.2,285.6 140.0,285.5 140.8,285.3 141.5,285.1 142.2,284.9 143.0,284.7 143.8,284.5 144.5,284.2 145.2,284.0 146.0,283.8 146.8,283.6 147.5,283.4 148.2,283.2 149.0,282.9 149.8,282.7 150.5,282.5 151.2,282.3 152.0,282.1 152.8,281.9 153.5,281.7 154.2,281.5 155.0,281.3 155.8,281.1 156.5,280.9 157.2,280.7 158.0,280.6 158.8,280.4 159.5,280.3 160.2,280.1 161.0,280.0 161.8,279.9 162.5,279.7 163.2,279.7 164.0,279.6 164.8,279.5 165.5,279.4 166.2,279.4 167.0,279.4 167.8,279.3 168.5,279.3 169.2,279.3 170.0,279.3 170.8,279.4 171.5,279.4 172.2,279.4 173.0,279.5 173.8,279.6 174.5,279.6 175.2,279.7 176.0,279.8 176.8,279.9 177.5,280.0 178.2,280.1 179.0,280.2 179.8,280.3 180.5,280.5 181.2,280.6 182.0,280.7 182.8,280.9 183.5,281.0 184.2,281.2 185.0,281.3 185.8,281.5 186.5,281.6 187.2,281.8 188.0,282.0 188.8,282.1 189.5,282.3 190.2,282.5 191.0,282.6 191.8,282.8 192.5,283.0 193.2,283.2 194.0,283.3 194.8,283.5 195.5,283.7 196.2,283.9 197.0,284.0 197.8,284.2 198.5,284.4 199.2,284.5 200.0,284.7 200.8,284.9 201.5,285.0 202.2,285.2 203.0,285.4 203.8,285.5 204.5,285.7 205.2,285.8 206.0,286.0 206.8,286.1 207.5,286.3 208.2,286.4 209.0,286.6 209.8,286.7 210.5,286.8 211.2,287.0 212.0,287.1 212.8,287.2 213.5,287.3 214.2,287.4 215.0,287.5 215.8,287.6 216.5,287.7 217.2,287.8 218.0,287.9 218.8,288.0 219.5,288.0 220.2,288.1 221.0,288.2 221.8,288.2 222.5,288.2 223.2,288.3 224.0,288.3 224.8,288.3 225.5,288.3 226.2,288.3 227.0,288.3 227.8,288.3 228.5,288.3 229.2,288.3 230.0,288.2 230.8,288.2 231.5,288.1 232.2,288.1 233.0,288.0 233.8,287.9 234.5,287.9 235.2,287.8 236.0,287.7 236.8,287.6 237.5,287.5 238.2,287.3 239.0,287.2 239.8,287.1 240.5,286.9 241.2,286.8 242.0,286.6 242.8,286.5 243.5,286.3 244.2,286.2 245.0,286.0 245.8,285.8 246.5,285.6 247.2,285.5 248.0,285.3 248.8,285.1 249.5,284.9 249.6,284.8" stroke="#4848aa" stroke-width="1.0" stroke-dasharray="4 1 0.9 1.1"/><path d="M30.5,271.1 31.2,270.7 32.0,270.3 32.8,270.0 33.5,269.6 34.2,269.2 35.0,268.9 35.8,268.5 36.5,268.1 37.2,267.8 38.0,267.5 38.8,267.1 39.5,266.8 40.2,266.5 41.0,266.2 41.8,265.9 42.5,265.6 43.2,265.3 44.0,265.0 44.8,264.7 45.5,264.5 46.2,264.2 47.0,264.0 47.8,263.7 48.5,263.5 49.2,263.3 50.0,263.1 50.8,262.9 51.5,262.7 52.2,262.5 53.0,262.3 53.8,262.1 54.5,262.0 55.2,261.8 56.0,261.7 56.8,261.6 57.5,261.4 58.2,261.3 59.0,261.2 59.8,261.1 60.5,261.1 61.2,261.0 62.0,260.9 62.8,260.9 63.5,260.8 64.2,260.8 65.0,260.8 65.8,260.8 66.5,260.8 67.2,260.8 68.0,260.8 68.8,260.9 69.5,260.9 70.2,261.0 71.0,261.1 71.8,261.2 72.5,261.3 73.2,261.4 74.0,261.5 74.8,261.6 75.5,261.8 76.2,262.0 77.0,262.1 77.8,262.3 78.5,262.5 79.2,262.8 80.0,263.0 80.8,263.2 81.5,263.5 82.2,263.7 83.0,264.0 83.8,264.3 84.5,264.6 85.2,264.9 86.0,265.2 86.8,265.5 87.5,265.8 88.2,266.1 89.0,266.5 89.8,266.8 90.5,267.1 91.2,267.5 92.0,267.8 92.8,268.1 93.5,268.5 94.2,268.8 95.0,269.2 95.8,269.5 96.5,269.9 97.2,270.2 98.0,270.5 98.8,270.9 99.5,271.2 100.2,271.5 101.0,271.8 101.8,272.1 102.5,272.4 103.2,272.7 104.0,273.0 104.8,273.3 105.5,273.6 106.2,273.9 107.0,274.1 107.8,274.4 108.5,274.6 109.2,274.8 110.0,275.0 110.8,275.2 111.5,275.4 112.2,275.6 113.0,275.7 113.8,275.9 114.5,276.0 115.2,276.1 116.0,276.2 116.8,276.2 117.5,276.3 118.2,276.3 119.0,276.3 119.8,276.3 120.5,276.3 121.2,276.3 122.0,276.3 122.8,276.2 123.5,276.1 124.2,276.0 125.0,275.9 125.8,275.8 126.5,275.7 127.2,275.6 128.0,275.4 128.8,275.2 129.5,275.1 130.2,274.9 131.0,274.7 131.8,274.4 132.5,274.2 133.2,274.0 134.0,273.7 134.8,273.5 135.5,273.2 136.2,272.9 137.0,272.7 137.8,272.4 138.5,272.1 139.2,271.7 140.0,271.4 140.8,271.1 141.5,270.8 142.2,270.4 143.0,270.1 143.8,269.7 144.5,269.4 145.2,269.0 146.0,268.6 146.8,268.3 147.5,267.9 148.2,267.5 149.0,267.2 149.8,266.8 150.5,266.5 151.2,266.1 152.0,265.7 152.8,265.4 153.5,265.1 154.2,264.7 155.0,264.4 155.8,264.1 156.5,263.8 157.2,263.5 158.0,263.2 158.8,262.9 159.5,262.6 160.2,262.3 161.0,262.1 161.8,261.9 162.5,261.7 163.2,261.5 164.0,261.3 164.8,261.1 165.5,260.9 166.2,260.8 167.0,260.7 167.8,260.6 168.5,260.5 169.2,260.4 170.0,260.3 170.8,260.3 171.5,260.2 172.2,260.2 173.0,260.2 173.8,260.2 174.5,260.2 175.2,260.3 176.0,260.3 176.8,260.4 177.5,260.5 178.2,260.6 179.0,260.7 179.8,260.8 180.5,261.0 181.2,261.1 182.0,261.3 182.8,261.4 183.5,261.6 184.2,261.8 185.0,262.0 185.8,262.2 186.5,262.4 187.2,262.7 188.0,262.9 188.8,263.2 189.5,263.4 190.2,263.7 191.0,263.9 191.8,264.2 192.5,264.5 193.2,264.8 194.0,265.1 194.8,265.4 195.5,265.7 196.2,266.0 197.0,266.3 197.8,266.6 198.5,266.9 199.2,267.2 200.0,267.5 200.8,267.8 201.5,268.2 202.2,268.5 203.0,268.8 203.8,269.1 204.5,269.4 205.2,269.7 206.0,270.1 206.8,270.4 207.5,270.7 208.2,271.0 209.0,271.3 209.8,271.6 210.5,271.9 211.2,272.2 212.0,272.4 212.8,272.7 213.5,273.0 214.2,273.3 215.0,273.5 215.8,273.8 216.5,274.0 217.2,274.2 218.0,274.4 218.8,274.6 219.5,274.8 220.2,275.0 221.0,275.2 221.8,275.4 222.5,275.5 223.2,275.7 224.0,275.8 224.8,275.9 225.5,276.0 226.2,276.1 227.0,276.1 227.8,276.2 228.5,276.2 229.2,276.2 230.0,276.2 230.8,276.2 231.5,276.2 232.2,276.1 233.0,276.1 233.8,276.0 234.5,275.9 235.2,275.8 236.0,275.7 236.8,275.6 237.5,275.5 238.2,275.3 239.0,275.1 239.8,275.0 240.5,274.8 241.2,274.6 242.0,274.4 242.8,274.1 243.5,273.9 244.2,273.7 245.0,273.4 245.8,273.1 246.5,272.9 247.2,272.6 248.0,272.3 248.8,272.0 249.5,271.7 249.6,271.6" stroke="#c048c8" stroke-width="1.05" stroke-dasharray="5.4 1.6"/>
</g>
<path d="M30.50,341.80v-3.4 M74.32,341.80v-3.4 M118.14,341.80v-3.4 M161.96,341.80v-3.4 M205.78,341.80v-3.4 M249.60,341.80v-3.4 M30.50,195.70h3.4 M30.50,244.40h3.4 M30.50,293.10h3.4 M30.50,341.80h3.4" stroke="#444" stroke-width="1" fill="none"/>
<path d="M41.45,341.80v-2 M52.41,341.80v-2 M63.36,341.80v-2 M85.28,341.80v-2 M96.23,341.80v-2 M107.18,341.80v-2 M129.09,341.80v-2 M140.05,341.80v-2 M151.00,341.80v-2 M172.91,341.80v-2 M183.87,341.80v-2 M194.82,341.80v-2 M216.73,341.80v-2 M227.69,341.80v-2 M238.64,341.80v-2 M30.50,205.44h2 M30.50,215.18h2 M30.50,224.92h2 M30.50,234.66h2 M30.50,254.14h2 M30.50,263.88h2 M30.50,273.62h2 M30.50,283.36h2 M30.50,302.84h2 M30.50,312.58h2 M30.50,322.32h2 M30.50,332.06h2" stroke="#777" stroke-width="0.8" fill="none"/>
<rect x="30.5" y="195.7" width="219.10" height="146.10" fill="none" stroke="#555" stroke-width="1.3"/>
<text transform="translate(27.20,198.80) scale(0.85,1)" class="tl" text-anchor="end">-0.1</text>
<text transform="translate(27.20,247.50) scale(0.85,1)" class="tl" text-anchor="end">-0.2</text>
<text transform="translate(27.20,296.20) scale(0.85,1)" class="tl" text-anchor="end">-0.3</text>
<text transform="translate(27.20,344.90) scale(0.85,1)" class="tl" text-anchor="end">-0.4</text>
<text transform="translate(30.50,349.20) scale(0.97,1)" class="tx" text-anchor="middle">0</text>
<text transform="translate(74.32,349.20) scale(0.97,1)" class="tx" text-anchor="middle">0.2</text>
<text transform="translate(118.14,349.20) scale(0.97,1)" class="tx" text-anchor="middle">0.4</text>
<text transform="translate(161.96,349.20) scale(0.97,1)" class="tx" text-anchor="middle">0.6</text>
<text transform="translate(205.78,349.20) scale(0.97,1)" class="tx" text-anchor="middle">0.8</text>
<text transform="translate(249.60,349.20) scale(0.97,1)" class="tx" text-anchor="middle">1</text>
<text x="140.55" y="359.80" class="xt" text-anchor="middle">t / T</text>
<text transform="translate(7.00,268.25) rotate(-90)" class="yt" text-anchor="middle">C<tspan class="sub" dy="2">T</tspan></text>
<text x="-0.4" y="196.20" class="pl">(c)</text>
<path d="M57.50,305.40H90.10" stroke="#f4c4c4" stroke-width="3" fill="none" opacity="0.4"/>
<path d="M57.50,305.40H90.10" stroke="#b85858" stroke-width="1.45" fill="none"/>
<text transform="translate(94.70,308.10) scale(0.97,1)" class="lg">CS wave</text>
<path d="M57.50,313.95H90.10" stroke="#ccf2cc" stroke-width="3" fill="none" opacity="0.4"/>
<path d="M57.50,313.95H90.10" stroke="#6a9e6a" stroke-width="1.3" stroke-dasharray="3.8 3.2" fill="none"/>
<text transform="translate(94.70,316.65) scale(0.97,1)" class="lg">DS wave</text>
<path d="M57.50,322.50H90.10" stroke="#d4d4f8" stroke-width="3" fill="none" opacity="0.4"/>
<path d="M57.50,322.50H90.10" stroke="#5a5aa8" stroke-width="1.3" stroke-dasharray="4 1 0.9 1.1" fill="none"/>
<text transform="translate(94.70,325.20) scale(0.97,1)" class="lg">FS wave</text>
<path d="M57.50,331.05H90.10" stroke="#f8c8f8" stroke-width="3" fill="none" opacity="0.4"/>
<path d="M57.50,331.05H90.10" stroke="#c060c8" stroke-width="1.3" stroke-dasharray="5.4 1.6" fill="none"/>
<text transform="translate(94.70,333.75) scale(0.97,1)" class="lg">US wave</text>
<clipPath id="cpd"><rect x="298.3" y="195.7" width="219.40" height="146.10"/></clipPath>
<g clip-path="url(#cpd)" fill="none" stroke-linejoin="round">
<g opacity="0.35"><path d="M298.3,284.7 299.1,284.0 299.8,283.3 300.6,282.6 301.3,281.9 302.1,281.2 302.8,280.5 303.6,279.8 304.3,279.1 305.1,278.3 305.8,277.6 306.6,276.9 307.3,276.2 308.1,275.5 308.8,274.7 309.6,274.0 310.3,273.3 311.1,272.5 311.8,271.8 312.6,271.1 313.3,270.3 314.1,269.6 314.8,268.9 315.6,268.1 316.3,267.4 317.1,266.6 317.8,265.9 318.6,265.1 319.3,264.4 320.1,263.6 320.8,262.9 321.6,262.1 322.3,261.4 323.1,260.6 323.8,259.9 324.6,259.1 325.3,258.3 326.1,257.6 326.8,256.8 327.6,256.1 328.3,255.3 329.1,254.5 329.8,253.8 330.6,253.0 331.3,252.2 332.1,251.5 332.8,250.7 333.6,249.9 334.3,249.2 335.1,248.4 335.8,247.6 336.6,246.9 337.3,246.1 338.1,245.3 338.8,244.6 339.6,243.8 340.3,243.0 341.1,242.2 341.8,241.5 342.6,240.7 343.3,239.9 344.1,239.2 344.8,238.4 345.6,237.6 346.3,236.9 347.1,236.1 347.8,235.3 348.6,234.6 349.3,233.8 350.1,233.0 350.8,232.3 351.6,231.6 352.3,230.8 353.1,230.2 353.8,229.5 354.6,228.8 355.3,228.2 356.1,227.6 356.8,227.1 357.6,226.6 358.3,226.1 359.1,225.7 359.8,225.3 360.6,224.9 361.3,224.6 362.1,224.3 362.8,224.1 363.6,223.9 364.3,223.7 365.1,223.6 365.8,223.5 366.6,223.4 367.3,223.4 368.1,223.4 368.8,223.4 369.6,223.5 370.3,223.5 371.1,223.7 371.8,223.8 372.6,224.0 373.3,224.2 374.1,224.5 374.8,224.7 375.6,225.0 376.3,225.3 377.1,225.7 377.8,226.0 378.6,226.4 379.3,226.8 380.1,227.3 380.8,227.7 381.6,228.2 382.3,228.7 383.1,229.2 383.8,229.7 384.6,230.3 385.3,230.9 386.1,231.4 386.8,232.0 387.6,232.7 388.3,233.3 389.1,233.9 389.8,234.6 390.6,235.3 391.3,236.0 392.1,236.7 392.8,237.4 393.6,238.1 394.3,238.8 395.1,239.6 395.8,240.4 396.6,241.2 397.3,242.0 398.1,242.9 398.8,243.7 399.6,244.5 400.3,245.3 401.1,246.1 401.8,246.9 402.6,247.7 403.3,248.5 404.1,249.2 404.8,250.0 405.6,250.7 406.3,251.4 407.1,252.2 407.8,252.9 408.6,253.6 409.3,254.3 410.1,255.0 410.8,255.7 411.6,256.4 412.3,257.1 413.1,257.8 413.8,258.5 414.6,259.2 415.3,259.9 416.1,260.6 416.8,261.3 417.6,262.0 418.3,262.7 419.1,263.4 419.8,264.1 420.6,264.8 421.3,265.5 422.1,266.3 422.8,267.0 423.6,267.7 424.3,268.4 425.1,269.1 425.8,269.8 426.6,270.5 427.3,271.2 428.1,271.9 428.8,272.7 429.6,273.4 430.3,274.1 431.1,274.8 431.8,275.5 432.6,276.3 433.3,277.0 434.1,277.7 434.8,278.4 435.6,279.2 436.3,279.9 437.1,280.6 437.8,281.4 438.6,282.1 439.3,282.8 440.1,283.6 440.8,284.3 441.6,285.1 442.3,285.8 443.1,286.6 443.8,287.3 444.6,288.1 445.3,288.8 446.1,289.6 446.8,290.4 447.6,291.1 448.3,291.9 449.1,292.6 449.8,293.4 450.6,294.2 451.3,294.9 452.1,295.7 452.8,296.5 453.6,297.3 454.3,298.0 455.1,298.8 455.8,299.6 456.6,300.4 457.3,301.1 458.1,301.9 458.8,302.7 459.6,303.4 460.3,304.2 461.1,304.9 461.8,305.6 462.6,306.3 463.3,307.0 464.1,307.6 464.8,308.3 465.6,308.9 466.3,309.4 467.1,310.0 467.8,310.5 468.6,311.0 469.3,311.4 470.1,311.8 470.8,312.2 471.6,312.5 472.3,312.8 473.1,313.1 473.8,313.4 474.6,313.6 475.3,313.8 476.1,313.9 476.8,314.0 477.6,314.1 478.3,314.2 479.1,314.2 479.8,314.2 480.6,314.1 481.3,314.0 482.1,313.9 482.8,313.8 483.6,313.6 484.3,313.4 485.1,313.2 485.8,313.0 486.6,312.7 487.3,312.4 488.1,312.0 488.8,311.6 489.6,311.2 490.3,310.8 491.1,310.3 491.8,309.9 492.6,309.3 493.3,308.8 494.1,308.2 494.8,307.6 495.6,307.0 496.3,306.3 497.1,305.7 497.8,305.0 498.6,304.3 499.3,303.6 500.1,302.9 500.8,302.2 501.6,301.4 502.3,300.7 503.1,299.9 503.8,299.2 504.6,298.4 505.3,297.7 506.1,296.9 506.8,296.2 507.6,295.4 508.3,294.7 509.1,294.0 509.8,293.3 510.6,292.6 511.3,291.9 512.0,291.3 512.8,290.7 513.5,290.0 514.3,289.5 515.0,288.9 515.8,288.3 516.5,287.8 517.3,287.4 517.7,287.1" stroke="#f4c4c4" stroke-width="3.0"/><path d="M298.3,258.5 299.1,257.9 299.8,257.3 300.6,256.7 301.3,256.1 302.1,255.6 302.8,255.1 303.6,254.5 304.3,254.0 305.1,253.5 305.8,253.0 306.6,252.6 307.3,252.1 308.1,251.7 308.8,251.3 309.6,250.9 310.3,250.5 311.1,250.1 311.8,249.8 312.6,249.4 313.3,249.1 314.1,248.8 314.8,248.5 315.6,248.2 316.3,248.0 317.1,247.8 317.8,247.5 318.6,247.3 319.3,247.2 320.1,247.0 320.8,246.9 321.6,246.7 322.3,246.6 323.1,246.5 323.8,246.4 324.6,246.4 325.3,246.3 326.1,246.3 326.8,246.3 327.6,246.3 328.3,246.3 329.1,246.3 329.8,246.3 330.6,246.4 331.3,246.4 332.1,246.5 332.8,246.6 333.6,246.6 334.3,246.7 335.1,246.8 335.8,247.0 336.6,247.1 337.3,247.2 338.1,247.4 338.8,247.5 339.6,247.7 340.3,247.8 341.1,248.0 341.8,248.2 342.6,248.4 343.3,248.6 344.1,248.8 344.8,249.0 345.6,249.2 346.3,249.4 347.1,249.6 347.8,249.9 348.6,250.1 349.3,250.4 350.1,250.6 350.8,250.9 351.6,251.1 352.3,251.4 353.1,251.7 353.8,252.0 354.6,252.2 355.3,252.5 356.1,252.8 356.8,253.1 357.6,253.5 358.3,253.8 359.1,254.1 359.8,254.4 360.6,254.7 361.3,255.1 362.1,255.4 362.8,255.8 363.6,256.1 364.3,256.5 365.1,256.8 365.8,257.2 366.6,257.6 367.3,257.9 368.1,258.3 368.8,258.7 369.6,259.1 370.3,259.4 371.1,259.8 371.8,260.2 372.6,260.6 373.3,261.0 374.1,261.4 374.8,261.8 375.6,262.2 376.3,262.7 377.1,263.1 377.8,263.5 378.6,263.9 379.3,264.3 380.1,264.8 380.8,265.2 381.6,265.6 382.3,266.1 383.1,266.5 383.8,266.9 384.6,267.4 385.3,267.8 386.1,268.3 386.8,268.7 387.6,269.2 388.3,269.6 389.1,270.1 389.8,270.5 390.6,271.0 391.3,271.4 392.1,271.9 392.8,272.3 393.6,272.8 394.3,273.3 395.1,273.7 395.8,274.2 396.6,274.6 397.3,275.1 398.1,275.6 398.8,276.0 399.6,276.5 400.3,276.9 401.1,277.4 401.8,277.8 402.6,278.3 403.3,278.7 404.1,279.1 404.8,279.6 405.6,280.0 406.3,280.4 407.1,280.9 407.8,281.3 408.6,281.7 409.3,282.1 410.1,282.5 410.8,282.9 411.6,283.3 412.3,283.7 413.1,284.0 413.8,284.4 414.6,284.8 415.3,285.1 416.1,285.5 416.8,285.8 417.6,286.1 418.3,286.4 419.1,286.7 419.8,287.0 420.6,287.3 421.3,287.6 422.1,287.9 422.8,288.1 423.6,288.4 424.3,288.6 425.1,288.8 425.8,289.0 426.6,289.2 427.3,289.4 428.1,289.6 428.8,289.8 429.6,289.9 430.3,290.1 431.1,290.2 431.8,290.3 432.6,290.4 433.3,290.5 434.1,290.6 434.8,290.7 435.6,290.7 436.3,290.8 437.1,290.8 437.8,290.8 438.6,290.9 439.3,290.9 440.1,290.9 440.8,290.9 441.6,290.8 442.3,290.8 443.1,290.7 443.8,290.7 444.6,290.6 445.3,290.5 446.1,290.4 446.8,290.3 447.6,290.2 448.3,290.1 449.1,290.0 449.8,289.8 450.6,289.7 451.3,289.5 452.1,289.3 452.8,289.1 453.6,288.9 454.3,288.7 455.1,288.5 455.8,288.3 456.6,288.0 457.3,287.8 458.1,287.5 458.8,287.3 459.6,287.0 460.3,286.7 461.1,286.4 461.8,286.1 462.6,285.8 463.3,285.5 464.1,285.2 464.8,284.8 465.6,284.5 466.3,284.2 467.1,283.8 467.8,283.5 468.6,283.1 469.3,282.8 470.1,282.4 470.8,282.0 471.6,281.7 472.3,281.3 473.1,280.9 473.8,280.6 474.6,280.2 475.3,279.8 476.1,279.4 476.8,279.0 477.6,278.7 478.3,278.3 479.1,277.9 479.8,277.5 480.6,277.1 481.3,276.8 482.1,276.4 482.8,276.0 483.6,275.6 484.3,275.2 485.1,274.9 485.8,274.5 486.6,274.1 487.3,273.7 488.1,273.4 488.8,273.0 489.6,272.6 490.3,272.3 491.1,271.9 491.8,271.5 492.6,271.1 493.3,270.8 494.1,270.4 494.8,270.0 495.6,269.7 496.3,269.3 497.1,268.9 497.8,268.6 498.6,268.2 499.3,267.8 500.1,267.4 500.8,267.1 501.6,266.7 502.3,266.3 503.1,266.0 503.8,265.6 504.6,265.2 505.3,264.8 506.1,264.5 506.8,264.1 507.6,263.7 508.3,263.3 509.1,263.0 509.8,262.6 510.6,262.2 511.3,261.8 512.0,261.5 512.8,261.1 513.5,260.7 514.3,260.3 515.0,259.9 515.8,259.5 516.5,259.2 517.3,258.8 517.7,258.6" stroke="#ccf2cc" stroke-width="3.0"/><path d="M298.3,258.0 299.1,257.7 299.8,257.3 300.6,256.9 301.3,256.5 302.1,256.0 302.8,255.6 303.6,255.1 304.3,254.6 305.1,254.0 305.8,253.5 306.6,252.9 307.3,252.3 308.1,251.7 308.8,251.1 309.6,250.5 310.3,249.9 311.1,249.3 311.8,248.7 312.6,248.1 313.3,247.4 314.1,246.8 314.8,246.3 315.6,245.7 316.3,245.1 317.1,244.6 317.8,244.0 318.6,243.5 319.3,243.0 320.1,242.5 320.8,242.0 321.6,241.5 322.3,241.1 323.1,240.7 323.8,240.2 324.6,239.8 325.3,239.4 326.1,239.0 326.8,238.7 327.6,238.3 328.3,238.0 329.1,237.7 329.8,237.4 330.6,237.1 331.3,236.8 332.1,236.5 332.8,236.3 333.6,236.1 334.3,235.9 335.1,235.7 335.8,235.5 336.6,235.3 337.3,235.2 338.1,235.0 338.8,234.9 339.6,234.8 340.3,234.7 341.1,234.7 341.8,234.6 342.6,234.6 343.3,234.6 344.1,234.6 344.8,234.6 345.6,234.6 346.3,234.7 347.1,234.7 347.8,234.8 348.6,234.9 349.3,235.0 350.1,235.1 350.8,235.3 351.6,235.4 352.3,235.6 353.1,235.8 353.8,236.0 354.6,236.2 355.3,236.4 356.1,236.6 356.8,236.9 357.6,237.2 358.3,237.4 359.1,237.7 359.8,238.0 360.6,238.3 361.3,238.7 362.1,239.0 362.8,239.4 363.6,239.7 364.3,240.1 365.1,240.5 365.8,240.9 366.6,241.3 367.3,241.7 368.1,242.1 368.8,242.6 369.6,243.0 370.3,243.5 371.1,244.0 371.8,244.4 372.6,244.9 373.3,245.4 374.1,245.9 374.8,246.5 375.6,247.0 376.3,247.5 377.1,248.1 377.8,248.6 378.6,249.2 379.3,249.8 380.1,250.4 380.8,250.9 381.6,251.5 382.3,252.1 383.1,252.8 383.8,253.4 384.6,254.0 385.3,254.6 386.1,255.3 386.8,255.9 387.6,256.6 388.3,257.2 389.1,257.9 389.8,258.6 390.6,259.2 391.3,259.9 392.1,260.6 392.8,261.3 393.6,262.0 394.3,262.7 395.1,263.4 395.8,264.1 396.6,264.8 397.3,265.5 398.1,266.2 398.8,266.9 399.6,267.6 400.3,268.3 401.1,269.1 401.8,269.8 402.6,270.5 403.3,271.2 404.1,271.9 404.8,272.6 405.6,273.3 406.3,274.0 407.1,274.8 407.8,275.5 408.6,276.2 409.3,276.9 410.1,277.6 410.8,278.3 411.6,279.0 412.3,279.6 413.1,280.3 413.8,281.0 414.6,281.7 415.3,282.4 416.1,283.0 416.8,283.7 417.6,284.3 418.3,285.0 419.1,285.6 419.8,286.2 420.6,286.9 421.3,287.5 422.1,288.1 422.8,288.7 423.6,289.3 424.3,289.9 425.1,290.5 425.8,291.0 426.6,291.6 427.3,292.1 428.1,292.7 428.8,293.2 429.6,293.7 430.3,294.2 431.1,294.7 431.8,295.2 432.6,295.6 433.3,296.1 434.1,296.5 434.8,297.0 435.6,297.4 436.3,297.8 437.1,298.2 437.8,298.5 438.6,298.9 439.3,299.2 440.1,299.6 440.8,299.9 441.6,300.2 442.3,300.4 443.1,300.7 443.8,301.0 444.6,301.2 445.3,301.4 446.1,301.6 446.8,301.8 447.6,301.9 448.3,302.1 449.1,302.2 449.8,302.3 450.6,302.4 451.3,302.4 452.1,302.5 452.8,302.5 453.6,302.5 454.3,302.5 455.1,302.4 455.8,302.3 456.6,302.3 457.3,302.2 458.1,302.1 458.8,301.9 459.6,301.8 460.3,301.6 461.1,301.4 461.8,301.2 462.6,301.0 463.3,300.8 464.1,300.5 464.8,300.3 465.6,300.0 466.3,299.7 467.1,299.4 467.8,299.1 468.6,298.8 469.3,298.4 470.1,298.1 470.8,297.7 471.6,297.4 472.3,297.0 473.1,296.6 473.8,296.2 474.6,295.8 475.3,295.4 476.1,295.0 476.8,294.5 477.6,294.1 478.3,293.7 479.1,293.2 479.8,292.8 480.6,292.3 481.3,291.9 482.1,291.4 482.8,290.9 483.6,290.4 484.3,290.0 485.1,289.5 485.8,289.0 486.6,288.5 487.3,288.0 488.1,287.6 488.8,287.1 489.6,286.6 490.3,286.1 491.1,285.6 491.8,285.1 492.6,284.6 493.3,284.1 494.1,283.6 494.8,283.0 495.6,282.5 496.3,282.0 497.1,281.4 497.8,280.9 498.6,280.4 499.3,279.8 500.1,279.2 500.8,278.7 501.6,278.1 502.3,277.5 503.1,276.9 503.8,276.3 504.6,275.6 505.3,275.0 506.1,274.4 506.8,273.7 507.6,273.1 508.3,272.4 509.1,271.7 509.8,271.0 510.6,270.3 511.3,269.6 512.0,268.8 512.8,268.1 513.5,267.3 514.3,266.5 515.0,265.7 515.8,264.9 516.5,264.1 517.3,263.2 517.7,262.8" stroke="#d4d4f8" stroke-width="3.0"/><path d="M298.3,258.3 299.1,257.8 299.8,257.2 300.6,256.7 301.3,256.1 302.1,255.6 302.8,255.1 303.6,254.5 304.3,254.0 305.1,253.5 305.8,253.0 306.6,252.5 307.3,252.1 308.1,251.6 308.8,251.1 309.6,250.7 310.3,250.2 311.1,249.8 311.8,249.3 312.6,248.9 313.3,248.5 314.1,248.1 314.8,247.7 315.6,247.3 316.3,246.9 317.1,246.6 317.8,246.2 318.6,245.9 319.3,245.5 320.1,245.2 320.8,244.9 321.6,244.6 322.3,244.2 323.1,244.0 323.8,243.7 324.6,243.4 325.3,243.1 326.1,242.9 326.8,242.6 327.6,242.4 328.3,242.2 329.1,242.0 329.8,241.8 330.6,241.6 331.3,241.4 332.1,241.2 332.8,241.1 333.6,240.9 334.3,240.8 335.1,240.7 335.8,240.6 336.6,240.5 337.3,240.4 338.1,240.3 338.8,240.2 339.6,240.2 340.3,240.1 341.1,240.1 341.8,240.1 342.6,240.1 343.3,240.1 344.1,240.1 344.8,240.1 345.6,240.2 346.3,240.2 347.1,240.3 347.8,240.4 348.6,240.5 349.3,240.6 350.1,240.7 350.8,240.8 351.6,240.9 352.3,241.1 353.1,241.2 353.8,241.4 354.6,241.6 355.3,241.8 356.1,242.0 356.8,242.2 357.6,242.4 358.3,242.7 359.1,242.9 359.8,243.2 360.6,243.5 361.3,243.8 362.1,244.1 362.8,244.4 363.6,244.7 364.3,245.0 365.1,245.4 365.8,245.8 366.6,246.2 367.3,246.6 368.1,247.0 368.8,247.4 369.6,247.9 370.3,248.3 371.1,248.8 371.8,249.3 372.6,249.8 373.3,250.4 374.1,250.9 374.8,251.5 375.6,252.1 376.3,252.7 377.1,253.3 377.8,253.9 378.6,254.5 379.3,255.2 380.1,255.8 380.8,256.4 381.6,257.1 382.3,257.7 383.1,258.4 383.8,259.0 384.6,259.6 385.3,260.3 386.1,260.9 386.8,261.5 387.6,262.2 388.3,262.8 389.1,263.4 389.8,264.1 390.6,264.7 391.3,265.3 392.1,266.0 392.8,266.6 393.6,267.2 394.3,267.8 395.1,268.4 395.8,269.1 396.6,269.7 397.3,270.3 398.1,270.9 398.8,271.5 399.6,272.1 400.3,272.7 401.1,273.3 401.8,273.9 402.6,274.5 403.3,275.0 404.1,275.6 404.8,276.2 405.6,276.8 406.3,277.3 407.1,277.9 407.8,278.5 408.6,279.0 409.3,279.6 410.1,280.1 410.8,280.6 411.6,281.2 412.3,281.7 413.1,282.2 413.8,282.7 414.6,283.2 415.3,283.7 416.1,284.2 416.8,284.7 417.6,285.2 418.3,285.6 419.1,286.1 419.8,286.6 420.6,287.0 421.3,287.5 422.1,287.9 422.8,288.3 423.6,288.7 424.3,289.2 425.1,289.6 425.8,290.0 426.6,290.3 427.3,290.7 428.1,291.1 428.8,291.4 429.6,291.8 430.3,292.1 431.1,292.5 431.8,292.8 432.6,293.1 433.3,293.4 434.1,293.7 434.8,294.0 435.6,294.2 436.3,294.5 437.1,294.7 437.8,295.0 438.6,295.2 439.3,295.4 440.1,295.6 440.8,295.8 441.6,296.0 442.3,296.2 443.1,296.3 443.8,296.5 444.6,296.6 445.3,296.7 446.1,296.8 446.8,296.9 447.6,297.0 448.3,297.1 449.1,297.1 449.8,297.1 450.6,297.2 451.3,297.2 452.1,297.2 452.8,297.2 453.6,297.1 454.3,297.1 455.1,297.0 455.8,297.0 456.6,296.9 457.3,296.8 458.1,296.6 458.8,296.5 459.6,296.3 460.3,296.2 461.1,296.0 461.8,295.8 462.6,295.6 463.3,295.4 464.1,295.1 464.8,294.8 465.6,294.6 466.3,294.3 467.1,293.9 467.8,293.6 468.6,293.3 469.3,292.9 470.1,292.5 470.8,292.1 471.6,291.7 472.3,291.3 473.1,290.8 473.8,290.4 474.6,289.9 475.3,289.5 476.1,289.0 476.8,288.5 477.6,288.0 478.3,287.6 479.1,287.1 479.8,286.6 480.6,286.1 481.3,285.6 482.1,285.1 482.8,284.6 483.6,284.1 484.3,283.6 485.1,283.1 485.8,282.6 486.6,282.1 487.3,281.6 488.1,281.1 488.8,280.6 489.6,280.0 490.3,279.5 491.1,279.0 491.8,278.5 492.6,278.0 493.3,277.5 494.1,277.0 494.8,276.5 495.6,275.9 496.3,275.4 497.1,274.9 497.8,274.4 498.6,273.9 499.3,273.4 500.1,272.8 500.8,272.3 501.6,271.8 502.3,271.3 503.1,270.7 503.8,270.2 504.6,269.7 505.3,269.2 506.1,268.6 506.8,268.1 507.6,267.6 508.3,267.1 509.1,266.5 509.8,266.0 510.6,265.5 511.3,264.9 512.0,264.4 512.8,263.9 513.5,263.3 514.3,262.8 515.0,262.3 515.8,261.7 516.5,261.2 517.3,260.7 517.7,260.4" stroke="#f8c8f8" stroke-width="3.0"/></g><path d="M298.3,284.7 299.1,284.0 299.8,283.3 300.6,282.6 301.3,281.9 302.1,281.2 302.8,280.5 303.6,279.8 304.3,279.1 305.1,278.3 305.8,277.6 306.6,276.9 307.3,276.2 308.1,275.5 308.8,274.7 309.6,274.0 310.3,273.3 311.1,272.5 311.8,271.8 312.6,271.1 313.3,270.3 314.1,269.6 314.8,268.9 315.6,268.1 316.3,267.4 317.1,266.6 317.8,265.9 318.6,265.1 319.3,264.4 320.1,263.6 320.8,262.9 321.6,262.1 322.3,261.4 323.1,260.6 323.8,259.9 324.6,259.1 325.3,258.3 326.1,257.6 326.8,256.8 327.6,256.1 328.3,255.3 329.1,254.5 329.8,253.8 330.6,253.0 331.3,252.2 332.1,251.5 332.8,250.7 333.6,249.9 334.3,249.2 335.1,248.4 335.8,247.6 336.6,246.9 337.3,246.1 338.1,245.3 338.8,244.6 339.6,243.8 340.3,243.0 341.1,242.2 341.8,241.5 342.6,240.7 343.3,239.9 344.1,239.2 344.8,238.4 345.6,237.6 346.3,236.9 347.1,236.1 347.8,235.3 348.6,234.6 349.3,233.8 350.1,233.0 350.8,232.3 351.6,231.6 352.3,230.8 353.1,230.2 353.8,229.5 354.6,228.8 355.3,228.2 356.1,227.6 356.8,227.1 357.6,226.6 358.3,226.1 359.1,225.7 359.8,225.3 360.6,224.9 361.3,224.6 362.1,224.3 362.8,224.1 363.6,223.9 364.3,223.7 365.1,223.6 365.8,223.5 366.6,223.4 367.3,223.4 368.1,223.4 368.8,223.4 369.6,223.5 370.3,223.5 371.1,223.7 371.8,223.8 372.6,224.0 373.3,224.2 374.1,224.5 374.8,224.7 375.6,225.0 376.3,225.3 377.1,225.7 377.8,226.0 378.6,226.4 379.3,226.8 380.1,227.3 380.8,227.7 381.6,228.2 382.3,228.7 383.1,229.2 383.8,229.7 384.6,230.3 385.3,230.9 386.1,231.4 386.8,232.0 387.6,232.7 388.3,233.3 389.1,233.9 389.8,234.6 390.6,235.3 391.3,236.0 392.1,236.7 392.8,237.4 393.6,238.1 394.3,238.8 395.1,239.6 395.8,240.4 396.6,241.2 397.3,242.0 398.1,242.9 398.8,243.7 399.6,244.5 400.3,245.3 401.1,246.1 401.8,246.9 402.6,247.7 403.3,248.5 404.1,249.2 404.8,250.0 405.6,250.7 406.3,251.4 407.1,252.2 407.8,252.9 408.6,253.6 409.3,254.3 410.1,255.0 410.8,255.7 411.6,256.4 412.3,257.1 413.1,257.8 413.8,258.5 414.6,259.2 415.3,259.9 416.1,260.6 416.8,261.3 417.6,262.0 418.3,262.7 419.1,263.4 419.8,264.1 420.6,264.8 421.3,265.5 422.1,266.3 422.8,267.0 423.6,267.7 424.3,268.4 425.1,269.1 425.8,269.8 426.6,270.5 427.3,271.2 428.1,271.9 428.8,272.7 429.6,273.4 430.3,274.1 431.1,274.8 431.8,275.5 432.6,276.3 433.3,277.0 434.1,277.7 434.8,278.4 435.6,279.2 436.3,279.9 437.1,280.6 437.8,281.4 438.6,282.1 439.3,282.8 440.1,283.6 440.8,284.3 441.6,285.1 442.3,285.8 443.1,286.6 443.8,287.3 444.6,288.1 445.3,288.8 446.1,289.6 446.8,290.4 447.6,291.1 448.3,291.9 449.1,292.6 449.8,293.4 450.6,294.2 451.3,294.9 452.1,295.7 452.8,296.5 453.6,297.3 454.3,298.0 455.1,298.8 455.8,299.6 456.6,300.4 457.3,301.1 458.1,301.9 458.8,302.7 459.6,303.4 460.3,304.2 461.1,304.9 461.8,305.6 462.6,306.3 463.3,307.0 464.1,307.6 464.8,308.3 465.6,308.9 466.3,309.4 467.1,310.0 467.8,310.5 468.6,311.0 469.3,311.4 470.1,311.8 470.8,312.2 471.6,312.5 472.3,312.8 473.1,313.1 473.8,313.4 474.6,313.6 475.3,313.8 476.1,313.9 476.8,314.0 477.6,314.1 478.3,314.2 479.1,314.2 479.8,314.2 480.6,314.1 481.3,314.0 482.1,313.9 482.8,313.8 483.6,313.6 484.3,313.4 485.1,313.2 485.8,313.0 486.6,312.7 487.3,312.4 488.1,312.0 488.8,311.6 489.6,311.2 490.3,310.8 491.1,310.3 491.8,309.9 492.6,309.3 493.3,308.8 494.1,308.2 494.8,307.6 495.6,307.0 496.3,306.3 497.1,305.7 497.8,305.0 498.6,304.3 499.3,303.6 500.1,302.9 500.8,302.2 501.6,301.4 502.3,300.7 503.1,299.9 503.8,299.2 504.6,298.4 505.3,297.7 506.1,296.9 506.8,296.2 507.6,295.4 508.3,294.7 509.1,294.0 509.8,293.3 510.6,292.6 511.3,291.9 512.0,291.3 512.8,290.7 513.5,290.0 514.3,289.5 515.0,288.9 515.8,288.3 516.5,287.8 517.3,287.4 517.7,287.1" stroke="#c24646" stroke-width="1.0"/><path d="M298.3,258.5 299.1,257.9 299.8,257.3 300.6,256.7 301.3,256.1 302.1,255.6 302.8,255.1 303.6,254.5 304.3,254.0 305.1,253.5 305.8,253.0 306.6,252.6 307.3,252.1 308.1,251.7 308.8,251.3 309.6,250.9 310.3,250.5 311.1,250.1 311.8,249.8 312.6,249.4 313.3,249.1 314.1,248.8 314.8,248.5 315.6,248.2 316.3,248.0 317.1,247.8 317.8,247.5 318.6,247.3 319.3,247.2 320.1,247.0 320.8,246.9 321.6,246.7 322.3,246.6 323.1,246.5 323.8,246.4 324.6,246.4 325.3,246.3 326.1,246.3 326.8,246.3 327.6,246.3 328.3,246.3 329.1,246.3 329.8,246.3 330.6,246.4 331.3,246.4 332.1,246.5 332.8,246.6 333.6,246.6 334.3,246.7 335.1,246.8 335.8,247.0 336.6,247.1 337.3,247.2 338.1,247.4 338.8,247.5 339.6,247.7 340.3,247.8 341.1,248.0 341.8,248.2 342.6,248.4 343.3,248.6 344.1,248.8 344.8,249.0 345.6,249.2 346.3,249.4 347.1,249.6 347.8,249.9 348.6,250.1 349.3,250.4 350.1,250.6 350.8,250.9 351.6,251.1 352.3,251.4 353.1,251.7 353.8,252.0 354.6,252.2 355.3,252.5 356.1,252.8 356.8,253.1 357.6,253.5 358.3,253.8 359.1,254.1 359.8,254.4 360.6,254.7 361.3,255.1 362.1,255.4 362.8,255.8 363.6,256.1 364.3,256.5 365.1,256.8 365.8,257.2 366.6,257.6 367.3,257.9 368.1,258.3 368.8,258.7 369.6,259.1 370.3,259.4 371.1,259.8 371.8,260.2 372.6,260.6 373.3,261.0 374.1,261.4 374.8,261.8 375.6,262.2 376.3,262.7 377.1,263.1 377.8,263.5 378.6,263.9 379.3,264.3 380.1,264.8 380.8,265.2 381.6,265.6 382.3,266.1 383.1,266.5 383.8,266.9 384.6,267.4 385.3,267.8 386.1,268.3 386.8,268.7 387.6,269.2 388.3,269.6 389.1,270.1 389.8,270.5 390.6,271.0 391.3,271.4 392.1,271.9 392.8,272.3 393.6,272.8 394.3,273.3 395.1,273.7 395.8,274.2 396.6,274.6 397.3,275.1 398.1,275.6 398.8,276.0 399.6,276.5 400.3,276.9 401.1,277.4 401.8,277.8 402.6,278.3 403.3,278.7 404.1,279.1 404.8,279.6 405.6,280.0 406.3,280.4 407.1,280.9 407.8,281.3 408.6,281.7 409.3,282.1 410.1,282.5 410.8,282.9 411.6,283.3 412.3,283.7 413.1,284.0 413.8,284.4 414.6,284.8 415.3,285.1 416.1,285.5 416.8,285.8 417.6,286.1 418.3,286.4 419.1,286.7 419.8,287.0 420.6,287.3 421.3,287.6 422.1,287.9 422.8,288.1 423.6,288.4 424.3,288.6 425.1,288.8 425.8,289.0 426.6,289.2 427.3,289.4 428.1,289.6 428.8,289.8 429.6,289.9 430.3,290.1 431.1,290.2 431.8,290.3 432.6,290.4 433.3,290.5 434.1,290.6 434.8,290.7 435.6,290.7 436.3,290.8 437.1,290.8 437.8,290.8 438.6,290.9 439.3,290.9 440.1,290.9 440.8,290.9 441.6,290.8 442.3,290.8 443.1,290.7 443.8,290.7 444.6,290.6 445.3,290.5 446.1,290.4 446.8,290.3 447.6,290.2 448.3,290.1 449.1,290.0 449.8,289.8 450.6,289.7 451.3,289.5 452.1,289.3 452.8,289.1 453.6,288.9 454.3,288.7 455.1,288.5 455.8,288.3 456.6,288.0 457.3,287.8 458.1,287.5 458.8,287.3 459.6,287.0 460.3,286.7 461.1,286.4 461.8,286.1 462.6,285.8 463.3,285.5 464.1,285.2 464.8,284.8 465.6,284.5 466.3,284.2 467.1,283.8 467.8,283.5 468.6,283.1 469.3,282.8 470.1,282.4 470.8,282.0 471.6,281.7 472.3,281.3 473.1,280.9 473.8,280.6 474.6,280.2 475.3,279.8 476.1,279.4 476.8,279.0 477.6,278.7 478.3,278.3 479.1,277.9 479.8,277.5 480.6,277.1 481.3,276.8 482.1,276.4 482.8,276.0 483.6,275.6 484.3,275.2 485.1,274.9 485.8,274.5 486.6,274.1 487.3,273.7 488.1,273.4 488.8,273.0 489.6,272.6 490.3,272.3 491.1,271.9 491.8,271.5 492.6,271.1 493.3,270.8 494.1,270.4 494.8,270.0 495.6,269.7 496.3,269.3 497.1,268.9 497.8,268.6 498.6,268.2 499.3,267.8 500.1,267.4 500.8,267.1 501.6,266.7 502.3,266.3 503.1,266.0 503.8,265.6 504.6,265.2 505.3,264.8 506.1,264.5 506.8,264.1 507.6,263.7 508.3,263.3 509.1,263.0 509.8,262.6 510.6,262.2 511.3,261.8 512.0,261.5 512.8,261.1 513.5,260.7 514.3,260.3 515.0,259.9 515.8,259.5 516.5,259.2 517.3,258.8 517.7,258.6" stroke="#4ea64e" stroke-width="1.05" stroke-dasharray="3.8 3.2"/><path d="M298.3,258.0 299.1,257.7 299.8,257.3 300.6,256.9 301.3,256.5 302.1,256.0 302.8,255.6 303.6,255.1 304.3,254.6 305.1,254.0 305.8,253.5 306.6,252.9 307.3,252.3 308.1,251.7 308.8,251.1 309.6,250.5 310.3,249.9 311.1,249.3 311.8,248.7 312.6,248.1 313.3,247.4 314.1,246.8 314.8,246.3 315.6,245.7 316.3,245.1 317.1,244.6 317.8,244.0 318.6,243.5 319.3,243.0 320.1,242.5 320.8,242.0 321.6,241.5 322.3,241.1 323.1,240.7 323.8,240.2 324.6,239.8 325.3,239.4 326.1,239.0 326.8,238.7 327.6,238.3 328.3,238.0 329.1,237.7 329.8,237.4 330.6,237.1 331.3,236.8 332.1,236.5 332.8,236.3 333.6,236.1 334.3,235.9 335.1,235.7 335.8,235.5 336.6,235.3 337.3,235.2 338.1,235.0 338.8,234.9 339.6,234.8 340.3,234.7 341.1,234.7 341.8,234.6 342.6,234.6 343.3,234.6 344.1,234.6 344.8,234.6 345.6,234.6 346.3,234.7 347.1,234.7 347.8,234.8 348.6,234.9 349.3,235.0 350.1,235.1 350.8,235.3 351.6,235.4 352.3,235.6 353.1,235.8 353.8,236.0 354.6,236.2 355.3,236.4 356.1,236.6 356.8,236.9 357.6,237.2 358.3,237.4 359.1,237.7 359.8,238.0 360.6,238.3 361.3,238.7 362.1,239.0 362.8,239.4 363.6,239.7 364.3,240.1 365.1,240.5 365.8,240.9 366.6,241.3 367.3,241.7 368.1,242.1 368.8,242.6 369.6,243.0 370.3,243.5 371.1,244.0 371.8,244.4 372.6,244.9 373.3,245.4 374.1,245.9 374.8,246.5 375.6,247.0 376.3,247.5 377.1,248.1 377.8,248.6 378.6,249.2 379.3,249.8 380.1,250.4 380.8,250.9 381.6,251.5 382.3,252.1 383.1,252.8 383.8,253.4 384.6,254.0 385.3,254.6 386.1,255.3 386.8,255.9 387.6,256.6 388.3,257.2 389.1,257.9 389.8,258.6 390.6,259.2 391.3,259.9 392.1,260.6 392.8,261.3 393.6,262.0 394.3,262.7 395.1,263.4 395.8,264.1 396.6,264.8 397.3,265.5 398.1,266.2 398.8,266.9 399.6,267.6 400.3,268.3 401.1,269.1 401.8,269.8 402.6,270.5 403.3,271.2 404.1,271.9 404.8,272.6 405.6,273.3 406.3,274.0 407.1,274.8 407.8,275.5 408.6,276.2 409.3,276.9 410.1,277.6 410.8,278.3 411.6,279.0 412.3,279.6 413.1,280.3 413.8,281.0 414.6,281.7 415.3,282.4 416.1,283.0 416.8,283.7 417.6,284.3 418.3,285.0 419.1,285.6 419.8,286.2 420.6,286.9 421.3,287.5 422.1,288.1 422.8,288.7 423.6,289.3 424.3,289.9 425.1,290.5 425.8,291.0 426.6,291.6 427.3,292.1 428.1,292.7 428.8,293.2 429.6,293.7 430.3,294.2 431.1,294.7 431.8,295.2 432.6,295.6 433.3,296.1 434.1,296.5 434.8,297.0 435.6,297.4 436.3,297.8 437.1,298.2 437.8,298.5 438.6,298.9 439.3,299.2 440.1,299.6 440.8,299.9 441.6,300.2 442.3,300.4 443.1,300.7 443.8,301.0 444.6,301.2 445.3,301.4 446.1,301.6 446.8,301.8 447.6,301.9 448.3,302.1 449.1,302.2 449.8,302.3 450.6,302.4 451.3,302.4 452.1,302.5 452.8,302.5 453.6,302.5 454.3,302.5 455.1,302.4 455.8,302.3 456.6,302.3 457.3,302.2 458.1,302.1 458.8,301.9 459.6,301.8 460.3,301.6 461.1,301.4 461.8,301.2 462.6,301.0 463.3,300.8 464.1,300.5 464.8,300.3 465.6,300.0 466.3,299.7 467.1,299.4 467.8,299.1 468.6,298.8 469.3,298.4 470.1,298.1 470.8,297.7 471.6,297.4 472.3,297.0 473.1,296.6 473.8,296.2 474.6,295.8 475.3,295.4 476.1,295.0 476.8,294.5 477.6,294.1 478.3,293.7 479.1,293.2 479.8,292.8 480.6,292.3 481.3,291.9 482.1,291.4 482.8,290.9 483.6,290.4 484.3,290.0 485.1,289.5 485.8,289.0 486.6,288.5 487.3,288.0 488.1,287.6 488.8,287.1 489.6,286.6 490.3,286.1 491.1,285.6 491.8,285.1 492.6,284.6 493.3,284.1 494.1,283.6 494.8,283.0 495.6,282.5 496.3,282.0 497.1,281.4 497.8,280.9 498.6,280.4 499.3,279.8 500.1,279.2 500.8,278.7 501.6,278.1 502.3,277.5 503.1,276.9 503.8,276.3 504.6,275.6 505.3,275.0 506.1,274.4 506.8,273.7 507.6,273.1 508.3,272.4 509.1,271.7 509.8,271.0 510.6,270.3 511.3,269.6 512.0,268.8 512.8,268.1 513.5,267.3 514.3,266.5 515.0,265.7 515.8,264.9 516.5,264.1 517.3,263.2 517.7,262.8" stroke="#4848aa" stroke-width="1.0" stroke-dasharray="4 1 0.9 1.1"/><path d="M298.3,258.3 299.1,257.8 299.8,257.2 300.6,256.7 301.3,256.1 302.1,255.6 302.8,255.1 303.6,254.5 304.3,254.0 305.1,253.5 305.8,253.0 306.6,252.5 307.3,252.1 308.1,251.6 308.8,251.1 309.6,250.7 310.3,250.2 311.1,249.8 311.8,249.3 312.6,248.9 313.3,248.5 314.1,248.1 314.8,247.7 315.6,247.3 316.3,246.9 317.1,246.6 317.8,246.2 318.6,245.9 319.3,245.5 320.1,245.2 320.8,244.9 321.6,244.6 322.3,244.2 323.1,244.0 323.8,243.7 324.6,243.4 325.3,243.1 326.1,242.9 326.8,242.6 327.6,242.4 328.3,242.2 329.1,242.0 329.8,241.8 330.6,241.6 331.3,241.4 332.1,241.2 332.8,241.1 333.6,240.9 334.3,240.8 335.1,240.7 335.8,240.6 336.6,240.5 337.3,240.4 338.1,240.3 338.8,240.2 339.6,240.2 340.3,240.1 341.1,240.1 341.8,240.1 342.6,240.1 343.3,240.1 344.1,240.1 344.8,240.1 345.6,240.2 346.3,240.2 347.1,240.3 347.8,240.4 348.6,240.5 349.3,240.6 350.1,240.7 350.8,240.8 351.6,240.9 352.3,241.1 353.1,241.2 353.8,241.4 354.6,241.6 355.3,241.8 356.1,242.0 356.8,242.2 357.6,242.4 358.3,242.7 359.1,242.9 359.8,243.2 360.6,243.5 361.3,243.8 362.1,244.1 362.8,244.4 363.6,244.7 364.3,245.0 365.1,245.4 365.8,245.8 366.6,246.2 367.3,246.6 368.1,247.0 368.8,247.4 369.6,247.9 370.3,248.3 371.1,248.8 371.8,249.3 372.6,249.8 373.3,250.4 374.1,250.9 374.8,251.5 375.6,252.1 376.3,252.7 377.1,253.3 377.8,253.9 378.6,254.5 379.3,255.2 380.1,255.8 380.8,256.4 381.6,257.1 382.3,257.7 383.1,258.4 383.8,259.0 384.6,259.6 385.3,260.3 386.1,260.9 386.8,261.5 387.6,262.2 388.3,262.8 389.1,263.4 389.8,264.1 390.6,264.7 391.3,265.3 392.1,266.0 392.8,266.6 393.6,267.2 394.3,267.8 395.1,268.4 395.8,269.1 396.6,269.7 397.3,270.3 398.1,270.9 398.8,271.5 399.6,272.1 400.3,272.7 401.1,273.3 401.8,273.9 402.6,274.5 403.3,275.0 404.1,275.6 404.8,276.2 405.6,276.8 406.3,277.3 407.1,277.9 407.8,278.5 408.6,279.0 409.3,279.6 410.1,280.1 410.8,280.6 411.6,281.2 412.3,281.7 413.1,282.2 413.8,282.7 414.6,283.2 415.3,283.7 416.1,284.2 416.8,284.7 417.6,285.2 418.3,285.6 419.1,286.1 419.8,286.6 420.6,287.0 421.3,287.5 422.1,287.9 422.8,288.3 423.6,288.7 424.3,289.2 425.1,289.6 425.8,290.0 426.6,290.3 427.3,290.7 428.1,291.1 428.8,291.4 429.6,291.8 430.3,292.1 431.1,292.5 431.8,292.8 432.6,293.1 433.3,293.4 434.1,293.7 434.8,294.0 435.6,294.2 436.3,294.5 437.1,294.7 437.8,295.0 438.6,295.2 439.3,295.4 440.1,295.6 440.8,295.8 441.6,296.0 442.3,296.2 443.1,296.3 443.8,296.5 444.6,296.6 445.3,296.7 446.1,296.8 446.8,296.9 447.6,297.0 448.3,297.1 449.1,297.1 449.8,297.1 450.6,297.2 451.3,297.2 452.1,297.2 452.8,297.2 453.6,297.1 454.3,297.1 455.1,297.0 455.8,297.0 456.6,296.9 457.3,296.8 458.1,296.6 458.8,296.5 459.6,296.3 460.3,296.2 461.1,296.0 461.8,295.8 462.6,295.6 463.3,295.4 464.1,295.1 464.8,294.8 465.6,294.6 466.3,294.3 467.1,293.9 467.8,293.6 468.6,293.3 469.3,292.9 470.1,292.5 470.8,292.1 471.6,291.7 472.3,291.3 473.1,290.8 473.8,290.4 474.6,289.9 475.3,289.5 476.1,289.0 476.8,288.5 477.6,288.0 478.3,287.6 479.1,287.1 479.8,286.6 480.6,286.1 481.3,285.6 482.1,285.1 482.8,284.6 483.6,284.1 484.3,283.6 485.1,283.1 485.8,282.6 486.6,282.1 487.3,281.6 488.1,281.1 488.8,280.6 489.6,280.0 490.3,279.5 491.1,279.0 491.8,278.5 492.6,278.0 493.3,277.5 494.1,277.0 494.8,276.5 495.6,275.9 496.3,275.4 497.1,274.9 497.8,274.4 498.6,273.9 499.3,273.4 500.1,272.8 500.8,272.3 501.6,271.8 502.3,271.3 503.1,270.7 503.8,270.2 504.6,269.7 505.3,269.2 506.1,268.6 506.8,268.1 507.6,267.6 508.3,267.1 509.1,266.5 509.8,266.0 510.6,265.5 511.3,264.9 512.0,264.4 512.8,263.9 513.5,263.3 514.3,262.8 515.0,262.3 515.8,261.7 516.5,261.2 517.3,260.7 517.7,260.4" stroke="#c048c8" stroke-width="1.05" stroke-dasharray="5.4 1.6"/>
</g>
<path d="M298.30,341.80v-3.4 M342.18,341.80v-3.4 M386.06,341.80v-3.4 M429.94,341.80v-3.4 M473.82,341.80v-3.4 M517.70,341.80v-3.4 M298.30,195.70h3.4 M298.30,232.22h3.4 M298.30,268.75h3.4 M298.30,305.27h3.4 M298.30,341.80h3.4" stroke="#444" stroke-width="1" fill="none"/>
<path d="M309.27,341.80v-2 M320.24,341.80v-2 M331.21,341.80v-2 M353.15,341.80v-2 M364.12,341.80v-2 M375.09,341.80v-2 M397.03,341.80v-2 M408.00,341.80v-2 M418.97,341.80v-2 M440.91,341.80v-2 M451.88,341.80v-2 M462.85,341.80v-2 M484.79,341.80v-2 M495.76,341.80v-2 M506.73,341.80v-2 M298.30,203.00h2 M298.30,210.31h2 M298.30,217.61h2 M298.30,224.92h2 M298.30,239.53h2 M298.30,246.84h2 M298.30,254.14h2 M298.30,261.44h2 M298.30,276.06h2 M298.30,283.36h2 M298.30,290.67h2 M298.30,297.97h2 M298.30,312.58h2 M298.30,319.88h2 M298.30,327.19h2 M298.30,334.50h2" stroke="#777" stroke-width="0.8" fill="none"/>
<rect x="298.3" y="195.7" width="219.40" height="146.10" fill="none" stroke="#555" stroke-width="1.3"/>
<text transform="translate(295.00,198.80) scale(0.85,1)" class="tl" text-anchor="end">0.4</text>
<text transform="translate(295.00,235.32) scale(0.85,1)" class="tl" text-anchor="end">0.2</text>
<text transform="translate(295.00,271.85) scale(0.85,1)" class="tl" text-anchor="end">0</text>
<text transform="translate(295.00,308.38) scale(0.85,1)" class="tl" text-anchor="end">-0.2</text>
<text transform="translate(295.00,344.90) scale(0.85,1)" class="tl" text-anchor="end">-0.4</text>
<text transform="translate(298.30,349.20) scale(0.97,1)" class="tx" text-anchor="middle">0</text>
<text transform="translate(342.18,349.20) scale(0.97,1)" class="tx" text-anchor="middle">0.2</text>
<text transform="translate(386.06,349.20) scale(0.97,1)" class="tx" text-anchor="middle">0.4</text>
<text transform="translate(429.94,349.20) scale(0.97,1)" class="tx" text-anchor="middle">0.6</text>
<text transform="translate(473.82,349.20) scale(0.97,1)" class="tx" text-anchor="middle">0.8</text>
<text transform="translate(517.70,349.20) scale(0.97,1)" class="tx" text-anchor="middle">1</text>
<text x="408.50" y="359.80" class="xt" text-anchor="middle">t / T</text>
<text transform="translate(275.10,268.25) rotate(-90)" class="yt" text-anchor="middle">C<tspan class="sub" dy="2">L</tspan></text>
<text x="267.6" y="196.20" class="pl">(d)</text>
<path d="M325.30,305.40H357.90" stroke="#f4c4c4" stroke-width="3" fill="none" opacity="0.4"/>
<path d="M325.30,305.40H357.90" stroke="#b85858" stroke-width="1.45" fill="none"/>
<text transform="translate(362.50,308.10) scale(0.97,1)" class="lg">CS wave</text>
<path d="M325.30,313.95H357.90" stroke="#ccf2cc" stroke-width="3" fill="none" opacity="0.4"/>
<path d="M325.30,313.95H357.90" stroke="#6a9e6a" stroke-width="1.3" stroke-dasharray="3.8 3.2" fill="none"/>
<text transform="translate(362.50,316.65) scale(0.97,1)" class="lg">DS wave</text>
<path d="M325.30,322.50H357.90" stroke="#d4d4f8" stroke-width="3" fill="none" opacity="0.4"/>
<path d="M325.30,322.50H357.90" stroke="#5a5aa8" stroke-width="1.3" stroke-dasharray="4 1 0.9 1.1" fill="none"/>
<text transform="translate(362.50,325.20) scale(0.97,1)" class="lg">FS wave</text>
<path d="M325.30,331.05H357.90" stroke="#f8c8f8" stroke-width="3" fill="none" opacity="0.4"/>
<path d="M325.30,331.05H357.90" stroke="#c060c8" stroke-width="1.3" stroke-dasharray="5.4 1.6" fill="none"/>
<text transform="translate(362.50,333.75) scale(0.97,1)" class="lg">US wave</text>
</svg>
</body></html>
